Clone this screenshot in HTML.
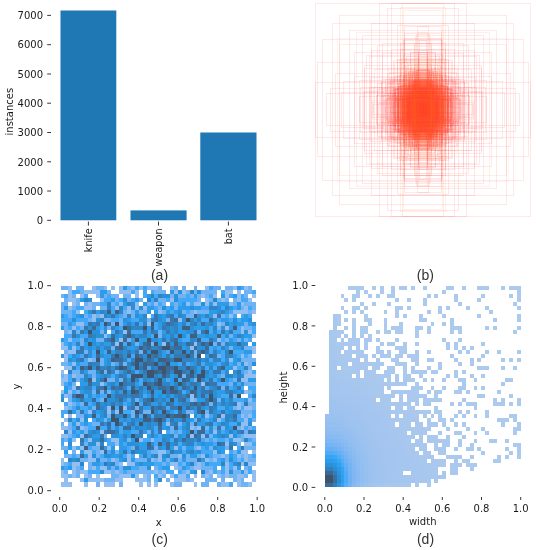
<!DOCTYPE html>
<html><head><meta charset="utf-8"><title>labels</title>
<style>
html,body{margin:0;padding:0;background:#fff;}
body{width:536px;height:550px;overflow:hidden;}
svg{display:block;font-family:"DejaVu Sans","Liberation Sans",sans-serif;}
</style></head><body>
<svg width="536" height="550" viewBox="0 0 536 550">
<rect width="536" height="550" fill="#fff"/>
<g fill="none" stroke-width="1" stroke-opacity="0.115">
<rect x="315.5" y="3.5" width="215" height="213" stroke="#FF3838"/>
<rect x="332.5" y="23.5" width="181" height="172" stroke="#FF3838"/>
<rect x="322.5" y="39.5" width="201" height="141" stroke="#FF3838"/>
<rect x="315.5" y="82.5" width="215" height="55" stroke="#FF3838"/>
<rect x="400.5" y="7.5" width="45" height="204" stroke="#FF701F"/>
<rect x="330.5" y="88.5" width="185" height="43" stroke="#FF3838"/>
<rect x="416.7" y="95.1" width="12.6" height="29.2" stroke="#FF4A33"/>
<rect x="411.0" y="107.6" width="24.0" height="4.3" stroke="#FF5E2A"/>
<rect x="386.5" y="98.5" width="73" height="22" stroke="#FF701F"/>
<rect x="414.2" y="95.9" width="17.6" height="27.6" stroke="#FF5E2A"/>
<rect x="420.7" y="106.3" width="4.6" height="6.9" stroke="#FF4A33"/>
<rect x="419.5" y="98.3" width="7.1" height="22.9" stroke="#FF4A33"/>
<rect x="405.5" y="83.5" width="35" height="53" stroke="#FF9D97"/>
<rect x="421.5" y="108.6" width="3.0" height="2.3" stroke="#FF5E2A"/>
<rect x="414.2" y="90.8" width="17.6" height="37.9" stroke="#FF4A33"/>
<rect x="413.3" y="99.9" width="19.4" height="19.7" stroke="#FF4A33"/>
<rect x="420.9" y="106.6" width="4.3" height="6.2" stroke="#FF4A33"/>
<rect x="414.9" y="97.4" width="16.1" height="24.7" stroke="#FF5E2A"/>
<rect x="411.6" y="102.9" width="22.7" height="13.6" stroke="#FF5E2A"/>
<rect x="419.8" y="108.6" width="6.4" height="2.4" stroke="#FF5E2A"/>
<rect x="418.6" y="95.8" width="8.7" height="28.0" stroke="#FF5E2A"/>
<rect x="411.8" y="92.4" width="22.5" height="34.7" stroke="#FF5E2A"/>
<rect x="421.2" y="102.1" width="3.6" height="15.3" stroke="#FF5E2A"/>
<rect x="420.1" y="102.8" width="5.7" height="13.8" stroke="#FF4A33"/>
<rect x="406.9" y="105.4" width="32.3" height="8.7" stroke="#FF4A33"/>
<rect x="415.5" y="100.3" width="15.0" height="18.9" stroke="#FF5E2A"/>
<rect x="421.4" y="92.7" width="3.1" height="34.1" stroke="#FF5E2A"/>
<rect x="416.0" y="97.2" width="14.0" height="25.2" stroke="#FF5E2A"/>
<rect x="382.5" y="88.5" width="81" height="43" stroke="#FF3838"/>
<rect x="421.6" y="104.3" width="2.8" height="10.9" stroke="#FF4A33"/>
<rect x="408.7" y="98.4" width="28.6" height="22.7" stroke="#FF4A33"/>
<rect x="409.4" y="96.3" width="27.2" height="26.9" stroke="#FF4A33"/>
<rect x="417.1" y="101.1" width="11.7" height="17.2" stroke="#FF4A33"/>
<rect x="411.1" y="102.7" width="23.7" height="14.2" stroke="#FF5E2A"/>
<rect x="419.4" y="104.2" width="7.1" height="11.1" stroke="#FF4A33"/>
<rect x="395.5" y="92.5" width="55" height="34" stroke="#FF3838"/>
<rect x="390.5" y="90.5" width="65" height="39" stroke="#FF3838"/>
<rect x="420.5" y="73.5" width="5" height="73" stroke="#FF701F"/>
<rect x="417.3" y="103.8" width="11.3" height="11.9" stroke="#FF5E2A"/>
<rect x="415.2" y="106.6" width="15.6" height="6.2" stroke="#FF4A33"/>
<rect x="419.2" y="103.9" width="7.5" height="11.6" stroke="#FF4A33"/>
<rect x="413.5" y="107.7" width="19.0" height="4.2" stroke="#FF4A33"/>
<rect x="420.6" y="88.3" width="4.8" height="42.9" stroke="#FF5E2A"/>
<rect x="411.4" y="102.7" width="23.2" height="14.1" stroke="#FF4A33"/>
<rect x="417.8" y="103.1" width="10.4" height="13.3" stroke="#FF4A33"/>
<rect x="416.4" y="99.6" width="13.2" height="20.3" stroke="#FF5E2A"/>
<rect x="412.4" y="88.4" width="21.1" height="42.8" stroke="#FF5E2A"/>
<rect x="407.3" y="101.0" width="31.5" height="17.6" stroke="#FF4A33"/>
<rect x="420.4" y="102.2" width="5.1" height="15.1" stroke="#FF4A33"/>
<rect x="409.1" y="98.8" width="27.9" height="22.0" stroke="#FF4A33"/>
<rect x="407.9" y="96.6" width="30.2" height="26.3" stroke="#FF5E2A"/>
<rect x="416.8" y="96.1" width="12.4" height="27.3" stroke="#FF4A33"/>
<rect x="395.5" y="98.5" width="55" height="22" stroke="#FF3838"/>
<rect x="419.8" y="90.2" width="6.5" height="39.2" stroke="#FF5E2A"/>
<rect x="418.9" y="103.4" width="8.2" height="12.8" stroke="#FF5E2A"/>
<rect x="413.2" y="88.8" width="19.5" height="41.9" stroke="#FF4A33"/>
<rect x="419.5" y="105.8" width="7.1" height="8.0" stroke="#FF4A33"/>
<rect x="337.5" y="38.5" width="171" height="143" stroke="#FF9D97"/>
<rect x="414.7" y="104.5" width="16.6" height="10.5" stroke="#FF4A33"/>
<rect x="390.5" y="77.5" width="65" height="65" stroke="#FF3838"/>
<rect x="420.6" y="104.3" width="4.7" height="10.9" stroke="#FF4A33"/>
<rect x="420.3" y="106.6" width="5.3" height="6.2" stroke="#FF5E2A"/>
<rect x="400.5" y="102.5" width="45" height="14" stroke="#FF3838"/>
<rect x="420.5" y="80.5" width="5" height="59" stroke="#FF701F"/>
<rect x="405.5" y="88.5" width="35" height="42" stroke="#FF701F"/>
<rect x="419.9" y="98.0" width="6.2" height="23.4" stroke="#FF4A33"/>
<rect x="414.5" y="83.5" width="17" height="53" stroke="#FF3838"/>
<rect x="403.5" y="86.5" width="39" height="47" stroke="#FF3838"/>
<rect x="416.5" y="84.5" width="13" height="51" stroke="#FF701F"/>
<rect x="420.9" y="104.4" width="4.3" height="10.8" stroke="#FF4A33"/>
<rect x="418.7" y="99.3" width="8.6" height="20.9" stroke="#FF4A33"/>
<rect x="403.5" y="54.5" width="39" height="110" stroke="#FF3838"/>
<rect x="414.7" y="105.6" width="16.5" height="8.3" stroke="#FF4A33"/>
<rect x="410.0" y="93.6" width="26.0" height="32.3" stroke="#FF4A33"/>
<rect x="415.5" y="103.2" width="15.0" height="13.1" stroke="#FF5E2A"/>
<rect x="414.5" y="74.5" width="17" height="71" stroke="#FF3838"/>
<rect x="417.2" y="102.3" width="11.6" height="14.8" stroke="#FF5E2A"/>
<rect x="420.5" y="102.3" width="5.0" height="14.8" stroke="#FF4A33"/>
<rect x="411.7" y="95.6" width="22.6" height="28.2" stroke="#FF5E2A"/>
<rect x="414.8" y="104.4" width="16.4" height="10.8" stroke="#FF4A33"/>
<rect x="422.2" y="107.1" width="1.6" height="5.3" stroke="#FF5E2A"/>
<rect x="416.0" y="103.9" width="13.9" height="11.7" stroke="#FF4A33"/>
<rect x="406.5" y="80.5" width="33" height="59" stroke="#FF3838"/>
<rect x="383.5" y="95.5" width="79" height="28" stroke="#FF3838"/>
<rect x="421.3" y="96.4" width="3.4" height="26.6" stroke="#FF5E2A"/>
<rect x="415.3" y="95.8" width="15.4" height="27.8" stroke="#FF4A33"/>
<rect x="411.5" y="86.5" width="23" height="47" stroke="#FF3838"/>
<rect x="409.5" y="73.5" width="27" height="73" stroke="#FF3838"/>
<rect x="419.5" y="94.3" width="7.0" height="30.9" stroke="#FF5E2A"/>
<rect x="412.0" y="91.6" width="21.9" height="36.3" stroke="#FF6A50"/>
<rect x="418.3" y="104.8" width="9.3" height="9.9" stroke="#FF4A33"/>
<rect x="416.4" y="100.6" width="13.3" height="18.2" stroke="#FF5E2A"/>
<rect x="418.9" y="100.7" width="8.3" height="18.1" stroke="#FF4A33"/>
<rect x="413.8" y="88.6" width="18.3" height="42.3" stroke="#FF4A33"/>
<rect x="418.2" y="100.7" width="9.6" height="18.1" stroke="#FF4A33"/>
<rect x="413.9" y="99.5" width="18.2" height="20.4" stroke="#FF5E2A"/>
<rect x="416.5" y="70.5" width="13" height="78" stroke="#FF3838"/>
<rect x="407.4" y="87.7" width="31.3" height="44.2" stroke="#FF4A33"/>
<rect x="391.5" y="78.5" width="63" height="62" stroke="#FF9D97"/>
<rect x="416.6" y="104.0" width="12.9" height="11.5" stroke="#FF4A33"/>
<rect x="419.6" y="105.1" width="6.7" height="9.4" stroke="#FF5E2A"/>
<rect x="417.4" y="103.4" width="11.2" height="12.7" stroke="#FF5E2A"/>
<rect x="418.9" y="106.4" width="8.3" height="6.7" stroke="#FF4A33"/>
<rect x="421.8" y="105.3" width="2.4" height="9.0" stroke="#FF4A33"/>
<rect x="415.9" y="97.0" width="14.2" height="25.5" stroke="#FF5E2A"/>
<rect x="418.7" y="105.5" width="8.6" height="8.5" stroke="#FF5E2A"/>
<rect x="407.6" y="99.5" width="30.9" height="20.5" stroke="#FF6A50"/>
<rect x="416.9" y="89.8" width="12.3" height="39.8" stroke="#FF4A33"/>
<rect x="407.2" y="105.7" width="31.6" height="8.1" stroke="#FF4A33"/>
<rect x="409.3" y="97.2" width="27.4" height="25.1" stroke="#FF5E2A"/>
<rect x="418.5" y="85.5" width="9" height="48" stroke="#FF3838"/>
<rect x="417.9" y="93.1" width="10.1" height="33.3" stroke="#FF6A50"/>
<rect x="418.8" y="96.2" width="8.3" height="27.2" stroke="#FF4A33"/>
<rect x="418.5" y="80.5" width="9" height="59" stroke="#FF701F"/>
<rect x="408.5" y="71.5" width="29" height="77" stroke="#FF3838"/>
<rect x="418.8" y="95.1" width="8.4" height="29.3" stroke="#FF4A33"/>
<rect x="418.4" y="104.8" width="9.3" height="9.9" stroke="#FF4A33"/>
<rect x="419.9" y="107.7" width="6.2" height="4.1" stroke="#FF5E2A"/>
<rect x="398.5" y="99.5" width="49" height="20" stroke="#FF3838"/>
<rect x="418.1" y="87.9" width="9.8" height="43.7" stroke="#FF5E2A"/>
<rect x="417.0" y="104.4" width="11.9" height="10.7" stroke="#FF5E2A"/>
<rect x="420.1" y="105.5" width="5.8" height="8.5" stroke="#FF4A33"/>
<rect x="414.5" y="85.5" width="17" height="48" stroke="#FF3838"/>
<rect x="419.8" y="104.6" width="6.3" height="10.3" stroke="#FF4A33"/>
<rect x="419.4" y="100.1" width="7.1" height="19.3" stroke="#FF5E2A"/>
<rect x="422.2" y="108.9" width="1.5" height="1.7" stroke="#FF4A33"/>
<rect x="421.8" y="107.4" width="2.4" height="4.8" stroke="#FF5E2A"/>
<rect x="414.9" y="103.5" width="16.2" height="12.6" stroke="#FF4A33"/>
<rect x="409.6" y="102.1" width="26.7" height="15.2" stroke="#FF6A50"/>
<rect x="421.8" y="108.9" width="2.3" height="1.6" stroke="#FF5E2A"/>
<rect x="415.1" y="104.7" width="15.7" height="10.0" stroke="#FF4A33"/>
<rect x="415.0" y="90.5" width="16.1" height="38.5" stroke="#FF4A33"/>
<rect x="335.5" y="73.5" width="175" height="73" stroke="#FF3838"/>
<rect x="420.5" y="98.6" width="5.0" height="22.4" stroke="#FF4A33"/>
<rect x="419.5" y="106.2" width="7.0" height="7.1" stroke="#FF5E2A"/>
<rect x="420.7" y="86.4" width="4.6" height="46.6" stroke="#FF5E2A"/>
<rect x="408.9" y="101.3" width="28.1" height="17.0" stroke="#FF5E2A"/>
<rect x="405.9" y="98.2" width="34.3" height="23.0" stroke="#FF4A33"/>
<rect x="417.8" y="97.9" width="10.5" height="23.7" stroke="#FF5E2A"/>
<rect x="396.5" y="96.5" width="53" height="26" stroke="#FF3838"/>
<rect x="377.5" y="83.5" width="91" height="53" stroke="#FF3838"/>
<rect x="418.5" y="85.5" width="9" height="48" stroke="#FF9D97"/>
<rect x="411.9" y="91.4" width="22.2" height="36.8" stroke="#FF4A33"/>
<rect x="417.3" y="103.3" width="11.3" height="13.0" stroke="#FF5E2A"/>
<rect x="419.4" y="90.5" width="7.3" height="38.5" stroke="#FF5E2A"/>
<rect x="418.7" y="104.7" width="8.7" height="10.0" stroke="#FF5E2A"/>
<rect x="417.6" y="103.3" width="10.9" height="12.9" stroke="#FF5E2A"/>
<rect x="421.2" y="102.6" width="3.6" height="14.4" stroke="#FF5E2A"/>
<rect x="416.7" y="96.5" width="12.6" height="26.4" stroke="#FF4A33"/>
<rect x="409.1" y="107.4" width="27.8" height="4.8" stroke="#FF5E2A"/>
<rect x="420.4" y="100.8" width="5.3" height="17.8" stroke="#FF5E2A"/>
<rect x="418.9" y="104.6" width="8.2" height="10.3" stroke="#FF4A33"/>
<rect x="420.3" y="107.8" width="5.5" height="3.8" stroke="#FF5E2A"/>
<rect x="413.4" y="105.7" width="19.3" height="8.1" stroke="#FF5E2A"/>
<rect x="416.8" y="106.5" width="12.4" height="6.5" stroke="#FF4A33"/>
<rect x="407.3" y="106.1" width="31.3" height="7.4" stroke="#FF5E2A"/>
<rect x="417.9" y="94.0" width="10.2" height="31.5" stroke="#FF5E2A"/>
<rect x="421.5" y="96.1" width="2.9" height="27.4" stroke="#FF5E2A"/>
<rect x="411.6" y="98.9" width="22.7" height="21.7" stroke="#FF5E2A"/>
<rect x="417.8" y="101.7" width="10.3" height="16.0" stroke="#FF6A50"/>
<rect x="404.5" y="94.5" width="37" height="31" stroke="#FF3838"/>
<rect x="409.5" y="80.5" width="27" height="59" stroke="#FF3838"/>
<rect x="422.6" y="106.1" width="0.9" height="7.2" stroke="#FF5E2A"/>
<rect x="422.2" y="94.4" width="1.6" height="30.8" stroke="#FF6A50"/>
<rect x="415.9" y="95.2" width="14.1" height="29.2" stroke="#FF6A50"/>
<rect x="419.7" y="89.0" width="6.5" height="41.5" stroke="#FF6A50"/>
<rect x="422.4" y="109.1" width="1.2" height="1.4" stroke="#FF5E2A"/>
<rect x="418.9" y="106.6" width="8.2" height="6.3" stroke="#FF4A33"/>
<rect x="401.5" y="90.5" width="43" height="38" stroke="#FF3838"/>
<rect x="410.9" y="98.6" width="24.2" height="22.3" stroke="#FF5E2A"/>
<rect x="420.2" y="106.8" width="5.6" height="5.9" stroke="#FF4A33"/>
<rect x="414.1" y="105.4" width="17.8" height="8.7" stroke="#FF4A33"/>
<rect x="406.1" y="105.3" width="33.8" height="8.9" stroke="#FF5E2A"/>
<rect x="417.2" y="100.7" width="11.5" height="18.2" stroke="#FF5E2A"/>
<rect x="388.5" y="93.5" width="69" height="32" stroke="#FF3838"/>
<rect x="419.6" y="96.9" width="6.8" height="25.7" stroke="#FF5E2A"/>
<rect x="377.5" y="93.5" width="91" height="32" stroke="#FF3838"/>
<rect x="395.5" y="89.5" width="55" height="40" stroke="#FF3838"/>
<rect x="412.1" y="91.0" width="21.9" height="37.4" stroke="#FF4A33"/>
<rect x="414.6" y="89.7" width="16.9" height="40.1" stroke="#FF4A33"/>
<rect x="415.9" y="103.0" width="14.2" height="13.6" stroke="#FF5E2A"/>
<rect x="420.3" y="103.3" width="5.4" height="12.9" stroke="#FF5E2A"/>
<rect x="406.5" y="56.5" width="33" height="107" stroke="#FF3838"/>
<rect x="401.5" y="107.5" width="43" height="5" stroke="#FF3838"/>
<rect x="409.2" y="91.3" width="27.6" height="36.9" stroke="#FF4A33"/>
<rect x="414.1" y="94.9" width="17.8" height="29.8" stroke="#FF6A50"/>
<rect x="415.4" y="101.1" width="15.2" height="17.2" stroke="#FF4A33"/>
<rect x="420.3" y="108.6" width="5.4" height="2.2" stroke="#FF6A50"/>
<rect x="419.4" y="102.6" width="7.2" height="14.2" stroke="#FF4A33"/>
<rect x="421.5" y="107.2" width="3.0" height="5.0" stroke="#FF5E2A"/>
<rect x="412.4" y="101.2" width="21.2" height="17.1" stroke="#FF5E2A"/>
<rect x="339.5" y="44.5" width="167" height="131" stroke="#FF701F"/>
<rect x="408.5" y="103.9" width="29.0" height="11.7" stroke="#FF4A33"/>
<rect x="419.4" y="102.8" width="7.2" height="14.0" stroke="#FF4A33"/>
<rect x="398.5" y="103.5" width="49" height="13" stroke="#FF701F"/>
<rect x="394.5" y="76.5" width="57" height="66" stroke="#FF3838"/>
<rect x="395.5" y="89.5" width="55" height="41" stroke="#FF701F"/>
<rect x="403.5" y="98.5" width="39" height="23" stroke="#FF701F"/>
<rect x="417.8" y="100.6" width="10.3" height="18.3" stroke="#FF5E2A"/>
<rect x="417.9" y="93.1" width="10.2" height="33.3" stroke="#FF5E2A"/>
<rect x="419.7" y="104.3" width="6.7" height="10.9" stroke="#FF5E2A"/>
<rect x="413.7" y="87.7" width="18.5" height="44.1" stroke="#FF4A33"/>
<rect x="391.5" y="3.5" width="63" height="213" stroke="#FF3838"/>
<rect x="420.7" y="102.2" width="4.5" height="15.0" stroke="#FF4A33"/>
<rect x="364.5" y="68.5" width="117" height="82" stroke="#FF3838"/>
<rect x="419.0" y="104.5" width="7.9" height="10.5" stroke="#FF5E2A"/>
<rect x="420.9" y="103.2" width="4.1" height="13.0" stroke="#FF5E2A"/>
<rect x="413.7" y="102.7" width="18.7" height="14.0" stroke="#FF5E2A"/>
<rect x="405.5" y="59.5" width="35" height="100" stroke="#FF701F"/>
<rect x="418.1" y="104.9" width="9.8" height="9.7" stroke="#FF5E2A"/>
<rect x="420.6" y="99.3" width="4.9" height="20.9" stroke="#FF6A50"/>
<rect x="389.5" y="96.5" width="67" height="27" stroke="#FF3838"/>
<rect x="420.8" y="103.3" width="4.5" height="12.9" stroke="#FF5E2A"/>
<rect x="406.3" y="102.3" width="33.3" height="15.0" stroke="#FF5E2A"/>
<rect x="415.1" y="105.5" width="15.8" height="8.6" stroke="#FF4A33"/>
<rect x="418.2" y="87.6" width="9.6" height="44.2" stroke="#FF4A33"/>
<rect x="415.8" y="88.4" width="14.4" height="42.7" stroke="#FF5E2A"/>
<rect x="420.7" y="102.8" width="4.5" height="13.8" stroke="#FF5E2A"/>
<rect x="420.8" y="105.7" width="4.4" height="8.1" stroke="#FF5E2A"/>
<rect x="413.9" y="99.9" width="18.2" height="19.6" stroke="#FF4A33"/>
<rect x="420.6" y="107.9" width="4.8" height="3.7" stroke="#FF4A33"/>
<rect x="419.8" y="102.2" width="6.4" height="15.1" stroke="#FF4A33"/>
<rect x="397.5" y="62.5" width="51" height="94" stroke="#FF701F"/>
<rect x="387.5" y="98.5" width="71" height="23" stroke="#FF3838"/>
<rect x="404.5" y="33.5" width="37" height="153" stroke="#FF3838"/>
<rect x="407.8" y="92.8" width="30.5" height="33.8" stroke="#FF4A33"/>
<rect x="417.5" y="83.5" width="11" height="53" stroke="#FF3838"/>
<rect x="415.5" y="94.7" width="15.0" height="30.2" stroke="#FF4A33"/>
<rect x="419.7" y="107.5" width="6.6" height="4.6" stroke="#FF6A50"/>
<rect x="422.6" y="109.1" width="0.8" height="1.2" stroke="#FF5E2A"/>
<rect x="414.5" y="80.5" width="17" height="59" stroke="#FF3838"/>
<rect x="414.5" y="84.5" width="17" height="50" stroke="#FF701F"/>
<rect x="406.5" y="102.8" width="33.1" height="13.9" stroke="#FF4A33"/>
<rect x="420.5" y="83.5" width="5" height="52" stroke="#FF701F"/>
<rect x="403.5" y="95.5" width="39" height="28" stroke="#FF3838"/>
<rect x="418.5" y="32.5" width="9" height="154" stroke="#FF701F"/>
<rect x="421.1" y="106.4" width="3.8" height="6.7" stroke="#FF4A33"/>
<rect x="417.6" y="92.2" width="10.7" height="35.2" stroke="#FF5E2A"/>
<rect x="407.4" y="95.0" width="31.3" height="29.5" stroke="#FF4A33"/>
<rect x="416.2" y="105.1" width="13.5" height="9.2" stroke="#FF4A33"/>
<rect x="412.8" y="91.1" width="20.4" height="37.3" stroke="#FF4A33"/>
<rect x="420.2" y="107.3" width="5.7" height="5.0" stroke="#FF4A33"/>
<rect x="412.5" y="105.4" width="21.0" height="8.8" stroke="#FF5E2A"/>
<rect x="406.6" y="97.8" width="32.8" height="23.9" stroke="#FF4A33"/>
<rect x="420.2" y="108.6" width="5.6" height="2.3" stroke="#FF5E2A"/>
<rect x="413.0" y="107.0" width="19.9" height="5.5" stroke="#FF4A33"/>
<rect x="421.3" y="106.9" width="3.4" height="5.8" stroke="#FF4A33"/>
<rect x="414.6" y="98.7" width="16.8" height="22.2" stroke="#FF5E2A"/>
<rect x="421.6" y="101.0" width="2.8" height="17.4" stroke="#FF5E2A"/>
<rect x="413.5" y="82.5" width="19" height="54" stroke="#FF701F"/>
<rect x="416.2" y="101.9" width="13.6" height="15.7" stroke="#FF5E2A"/>
<rect x="420.8" y="90.1" width="4.3" height="39.4" stroke="#FF5E2A"/>
<rect x="413.5" y="95.9" width="18.9" height="27.7" stroke="#FF5E2A"/>
<rect x="420.5" y="104.9" width="5.0" height="9.7" stroke="#FF4A33"/>
<rect x="415.6" y="88.8" width="14.8" height="41.8" stroke="#FF5E2A"/>
<rect x="420.3" y="92.7" width="5.5" height="34.2" stroke="#FF4A33"/>
<rect x="411.9" y="97.8" width="22.1" height="23.9" stroke="#FF4A33"/>
<rect x="419.0" y="105.0" width="7.9" height="9.4" stroke="#FF4A33"/>
<rect x="398.5" y="86.5" width="49" height="46" stroke="#FF3838"/>
<rect x="412.7" y="98.8" width="20.6" height="21.9" stroke="#FF4A33"/>
<rect x="411.9" y="106.2" width="22.2" height="7.1" stroke="#FF4A33"/>
<rect x="421.3" y="105.2" width="3.4" height="9.1" stroke="#FF4A33"/>
<rect x="422.3" y="106.9" width="1.5" height="5.8" stroke="#FF4A33"/>
<rect x="419.9" y="102.8" width="6.2" height="14.0" stroke="#FF4A33"/>
<rect x="387.5" y="83.5" width="71" height="53" stroke="#FF3838"/>
<rect x="420.3" y="93.5" width="5.4" height="32.4" stroke="#FF4A33"/>
<rect x="402.5" y="101.5" width="41" height="16" stroke="#FF3838"/>
<rect x="401.5" y="91.5" width="43" height="36" stroke="#FF3838"/>
<rect x="419.1" y="96.3" width="7.8" height="26.9" stroke="#FF5E2A"/>
<rect x="417.3" y="109.0" width="11.3" height="1.6" stroke="#FF4A33"/>
<rect x="400.5" y="68.5" width="45" height="82" stroke="#FF701F"/>
<rect x="417.6" y="99.7" width="10.8" height="20.1" stroke="#FF4A33"/>
<rect x="418.5" y="50.5" width="9" height="119" stroke="#FF3838"/>
<rect x="419.1" y="95.5" width="7.9" height="28.6" stroke="#FF4A33"/>
<rect x="415.6" y="105.1" width="14.8" height="9.3" stroke="#FF5E2A"/>
<rect x="416.8" y="99.6" width="12.5" height="20.2" stroke="#FF5E2A"/>
<rect x="402.5" y="96.5" width="41" height="27" stroke="#FF3838"/>
<rect x="414.4" y="94.4" width="17.1" height="30.7" stroke="#FF6A50"/>
<rect x="403.5" y="105.5" width="39" height="9" stroke="#FF701F"/>
<rect x="416.7" y="98.4" width="12.5" height="22.8" stroke="#FF5E2A"/>
<rect x="360.5" y="87.5" width="125" height="45" stroke="#FF3838"/>
<rect x="416.8" y="102.4" width="12.4" height="14.6" stroke="#FF4A33"/>
<rect x="417.0" y="96.6" width="12.1" height="26.2" stroke="#FF4A33"/>
<rect x="419.9" y="102.2" width="6.3" height="15.2" stroke="#FF5E2A"/>
<rect x="421.9" y="88.6" width="2.3" height="42.4" stroke="#FF4A33"/>
<rect x="420.1" y="101.3" width="5.8" height="17.0" stroke="#FF5E2A"/>
<rect x="414.6" y="90.8" width="16.8" height="37.9" stroke="#FF4A33"/>
<rect x="420.4" y="106.4" width="5.1" height="6.7" stroke="#FF4A33"/>
<rect x="408.5" y="101.4" width="28.9" height="16.7" stroke="#FF4A33"/>
<rect x="421.8" y="93.9" width="2.5" height="31.7" stroke="#FF4A33"/>
<rect x="421.8" y="107.3" width="2.3" height="4.8" stroke="#FF4A33"/>
<rect x="413.9" y="105.9" width="18.3" height="7.8" stroke="#FF5E2A"/>
<rect x="413.2" y="105.8" width="19.5" height="7.9" stroke="#FF4A33"/>
<rect x="420.8" y="107.4" width="4.4" height="4.7" stroke="#FF5E2A"/>
<rect x="404.5" y="103.5" width="37" height="13" stroke="#FF3838"/>
<rect x="399.5" y="100.5" width="47" height="19" stroke="#FF3838"/>
<rect x="413.5" y="81.5" width="19" height="56" stroke="#FF3838"/>
<rect x="421.2" y="105.6" width="3.7" height="8.3" stroke="#FF5E2A"/>
<rect x="401.5" y="85.5" width="43" height="49" stroke="#FF3838"/>
<rect x="417.5" y="70.5" width="11" height="78" stroke="#FF701F"/>
<rect x="417.1" y="104.8" width="11.8" height="10.0" stroke="#FF4A33"/>
<rect x="412.3" y="102.5" width="21.4" height="14.5" stroke="#FF5E2A"/>
<rect x="419.5" y="108.5" width="7.1" height="2.5" stroke="#FF5E2A"/>
<rect x="395.5" y="70.5" width="55" height="79" stroke="#FF9D97"/>
<rect x="419.2" y="100.2" width="7.6" height="19.1" stroke="#FF4A33"/>
<rect x="405.5" y="106.5" width="35" height="6" stroke="#FF701F"/>
<rect x="409.5" y="76.5" width="27" height="67" stroke="#FF701F"/>
<rect x="388.5" y="68.5" width="69" height="82" stroke="#FF701F"/>
<rect x="412.0" y="108.9" width="21.9" height="1.7" stroke="#FF4A33"/>
<rect x="408.0" y="104.8" width="30.0" height="9.9" stroke="#FF4A33"/>
<rect x="418.2" y="95.0" width="9.7" height="29.5" stroke="#FF5E2A"/>
<rect x="417.4" y="106.7" width="11.3" height="6.1" stroke="#FF4A33"/>
<rect x="419.1" y="104.5" width="7.8" height="10.6" stroke="#FF4A33"/>
<rect x="409.3" y="89.9" width="27.5" height="39.6" stroke="#FF4A33"/>
<rect x="419.2" y="101.1" width="7.5" height="17.3" stroke="#FF5E2A"/>
<rect x="395.5" y="98.5" width="55" height="23" stroke="#FF3838"/>
<rect x="416.6" y="94.9" width="12.8" height="29.7" stroke="#FF5E2A"/>
<rect x="420.9" y="93.8" width="4.3" height="31.8" stroke="#FF5E2A"/>
<rect x="419.3" y="104.5" width="7.5" height="10.5" stroke="#FF5E2A"/>
<rect x="403.5" y="10.5" width="39" height="199" stroke="#FF701F"/>
<rect x="418.5" y="96.1" width="9.0" height="27.2" stroke="#FF4A33"/>
<rect x="410.9" y="91.6" width="24.1" height="36.2" stroke="#FF5E2A"/>
<rect x="421.6" y="108.4" width="2.7" height="2.6" stroke="#FF4A33"/>
<rect x="412.3" y="104.3" width="21.4" height="10.9" stroke="#FF4A33"/>
<rect x="408.8" y="102.6" width="28.4" height="14.3" stroke="#FF4A33"/>
<rect x="411.5" y="84.5" width="23" height="50" stroke="#FF701F"/>
<rect x="408.5" y="103.5" width="28.9" height="12.6" stroke="#FF5E2A"/>
<rect x="420.3" y="91.8" width="5.5" height="35.9" stroke="#FF5E2A"/>
<rect x="421.7" y="99.1" width="2.6" height="21.4" stroke="#FF4A33"/>
<rect x="421.1" y="106.8" width="3.8" height="6.0" stroke="#FF4A33"/>
<rect x="407.7" y="95.7" width="30.6" height="28.0" stroke="#FF4A33"/>
<rect x="412.5" y="72.5" width="21" height="75" stroke="#FF3838"/>
<rect x="408.1" y="102.0" width="29.7" height="15.4" stroke="#FF4A33"/>
<rect x="418.7" y="108.9" width="8.6" height="1.8" stroke="#FF4A33"/>
<rect x="408.0" y="101.0" width="29.9" height="17.6" stroke="#FF4A33"/>
<rect x="421.5" y="103.8" width="3.0" height="11.9" stroke="#FF4A33"/>
<rect x="412.5" y="83.5" width="21" height="52" stroke="#FF3838"/>
<rect x="420.4" y="99.3" width="5.3" height="20.9" stroke="#FF4A33"/>
<rect x="418.5" y="52.5" width="9" height="115" stroke="#FF3838"/>
<rect x="409.5" y="77.5" width="27" height="65" stroke="#FF701F"/>
<rect x="406.9" y="88.3" width="32.2" height="42.9" stroke="#FF5E2A"/>
<rect x="416.5" y="83.5" width="13" height="53" stroke="#FF701F"/>
<rect x="417.5" y="84.5" width="11" height="51" stroke="#FF701F"/>
<rect x="398.5" y="85.5" width="49" height="49" stroke="#FF3838"/>
<rect x="404.5" y="77.5" width="37" height="65" stroke="#FF3838"/>
<rect x="419.1" y="95.3" width="7.9" height="28.8" stroke="#FF5E2A"/>
<rect x="413.2" y="94.0" width="19.6" height="31.6" stroke="#FF4A33"/>
<rect x="416.8" y="99.1" width="12.5" height="21.3" stroke="#FF5E2A"/>
<rect x="405.5" y="102.5" width="35" height="15" stroke="#FF3838"/>
<rect x="411.6" y="97.1" width="22.7" height="25.3" stroke="#FF5E2A"/>
<rect x="411.8" y="103.3" width="22.3" height="12.9" stroke="#FF4A33"/>
<rect x="414.7" y="89.6" width="16.6" height="40.2" stroke="#FF5E2A"/>
<rect x="418.4" y="100.2" width="9.2" height="19.0" stroke="#FF5E2A"/>
<rect x="402.5" y="102.5" width="41" height="14" stroke="#FF3838"/>
<rect x="412.0" y="97.9" width="22.0" height="23.6" stroke="#FF5E2A"/>
<rect x="422.3" y="107.3" width="1.3" height="4.9" stroke="#FF4A33"/>
<rect x="417.6" y="107.4" width="10.8" height="4.7" stroke="#FF4A33"/>
<rect x="413.3" y="102.7" width="19.5" height="14.0" stroke="#FF4A33"/>
<rect x="419.2" y="101.3" width="7.6" height="16.9" stroke="#FF4A33"/>
<rect x="419.9" y="87.6" width="6.3" height="44.3" stroke="#FF5E2A"/>
<rect x="418.8" y="101.8" width="8.4" height="16.0" stroke="#FF5E2A"/>
<rect x="412.5" y="91.1" width="20.9" height="37.3" stroke="#FF5E2A"/>
<rect x="420.0" y="89.6" width="6.0" height="40.3" stroke="#FF4A33"/>
<rect x="412.5" y="81.5" width="21" height="57" stroke="#FF3838"/>
<rect x="397.5" y="88.5" width="51" height="43" stroke="#FF3838"/>
<rect x="405.5" y="84.5" width="35" height="51" stroke="#FF701F"/>
<rect x="404.5" y="95.5" width="37" height="28" stroke="#FF3838"/>
<rect x="416.7" y="102.6" width="12.6" height="14.3" stroke="#FF4A33"/>
<rect x="401.5" y="92.5" width="43" height="35" stroke="#FF3838"/>
<rect x="415.2" y="97.8" width="15.6" height="24.0" stroke="#FF4A33"/>
<rect x="406.5" y="78.5" width="33" height="62" stroke="#FF9D97"/>
<rect x="420.5" y="98.9" width="5.0" height="21.7" stroke="#FF4A33"/>
<rect x="399.5" y="75.5" width="47" height="69" stroke="#FF3838"/>
<rect x="418.6" y="108.1" width="8.9" height="3.2" stroke="#FF4A33"/>
<rect x="415.1" y="102.1" width="15.8" height="15.3" stroke="#FF5E2A"/>
<rect x="403.5" y="94.5" width="39" height="30" stroke="#FF701F"/>
<rect x="415.3" y="106.4" width="15.3" height="6.8" stroke="#FF4A33"/>
<rect x="418.1" y="108.9" width="9.8" height="1.6" stroke="#FF4A33"/>
<rect x="416.4" y="96.6" width="13.2" height="26.3" stroke="#FF5E2A"/>
<rect x="403.5" y="40.5" width="39" height="138" stroke="#FF3838"/>
<rect x="402.5" y="102.5" width="41" height="14" stroke="#FF3838"/>
<rect x="409.4" y="94.8" width="27.3" height="29.8" stroke="#FF5E2A"/>
<rect x="418.5" y="79.5" width="9" height="60" stroke="#FF3838"/>
<rect x="417.8" y="102.3" width="10.4" height="14.9" stroke="#FF5E2A"/>
<rect x="409.5" y="98.4" width="26.9" height="22.7" stroke="#FF4A33"/>
<rect x="408.5" y="104.3" width="29.0" height="10.9" stroke="#FF5E2A"/>
<rect x="419.2" y="103.3" width="7.6" height="12.8" stroke="#FF5E2A"/>
<rect x="419.2" y="95.4" width="7.7" height="28.8" stroke="#FF5E2A"/>
<rect x="409.5" y="81.5" width="27" height="56" stroke="#FF701F"/>
<rect x="403.5" y="96.5" width="39" height="27" stroke="#FF3838"/>
<rect x="414.9" y="88.2" width="16.1" height="43.0" stroke="#FF5E2A"/>
<rect x="420.7" y="108.1" width="4.5" height="3.3" stroke="#FF5E2A"/>
<rect x="391.5" y="96.5" width="63" height="27" stroke="#FF701F"/>
<rect x="415.3" y="97.2" width="15.5" height="25.0" stroke="#FF4A33"/>
<rect x="411.8" y="94.7" width="22.5" height="30.1" stroke="#FF4A33"/>
<rect x="422.2" y="101.3" width="1.5" height="17.0" stroke="#FF4A33"/>
<rect x="419.3" y="104.0" width="7.4" height="11.6" stroke="#FF5E2A"/>
<rect x="416.8" y="108.6" width="12.4" height="2.3" stroke="#FF4A33"/>
<rect x="413.5" y="82.5" width="19" height="54" stroke="#FF701F"/>
<rect x="419.5" y="80.5" width="7" height="59" stroke="#FF3838"/>
<rect x="421.5" y="102.6" width="2.9" height="14.4" stroke="#FF4A33"/>
<rect x="421.7" y="106.4" width="2.6" height="6.7" stroke="#FF4A33"/>
<rect x="418.0" y="104.6" width="10.0" height="10.4" stroke="#FF4A33"/>
<rect x="413.8" y="98.2" width="18.5" height="23.2" stroke="#FF5E2A"/>
<rect x="414.1" y="106.9" width="17.7" height="5.8" stroke="#FF5E2A"/>
<rect x="421.9" y="105.4" width="2.3" height="8.7" stroke="#FF4A33"/>
<rect x="419.5" y="105.2" width="7.0" height="9.2" stroke="#FF5E2A"/>
<rect x="416.6" y="107.8" width="12.8" height="3.9" stroke="#FF5E2A"/>
<rect x="406.3" y="94.8" width="33.3" height="29.9" stroke="#FF5E2A"/>
<rect x="411.6" y="93.3" width="22.7" height="32.8" stroke="#FF5E2A"/>
<rect x="414.5" y="73.5" width="17" height="72" stroke="#FF3838"/>
<rect x="421.8" y="105.9" width="2.4" height="7.7" stroke="#FF4A33"/>
<rect x="405.5" y="65.5" width="35" height="89" stroke="#FF3838"/>
<rect x="416.7" y="104.5" width="12.7" height="10.4" stroke="#FF5E2A"/>
<rect x="414.6" y="102.7" width="16.7" height="14.0" stroke="#FF4A33"/>
<rect x="419.4" y="100.8" width="7.2" height="17.9" stroke="#FF4A33"/>
<rect x="417.3" y="105.6" width="11.4" height="8.2" stroke="#FF4A33"/>
<rect x="418.0" y="101.2" width="10.0" height="17.2" stroke="#FF4A33"/>
<rect x="418.3" y="106.3" width="9.3" height="6.9" stroke="#FF5E2A"/>
<rect x="420.1" y="107.2" width="5.7" height="5.0" stroke="#FF5E2A"/>
<rect x="410.6" y="101.8" width="24.8" height="16.0" stroke="#FF5E2A"/>
<rect x="407.9" y="88.2" width="30.3" height="43.2" stroke="#FF4A33"/>
<rect x="418.9" y="103.1" width="8.2" height="13.2" stroke="#FF5E2A"/>
<rect x="420.0" y="106.1" width="6.0" height="7.2" stroke="#FF4A33"/>
<rect x="419.9" y="89.2" width="6.1" height="41.0" stroke="#FF4A33"/>
<rect x="417.9" y="102.5" width="10.3" height="14.5" stroke="#FF5E2A"/>
<rect x="398.5" y="81.5" width="49" height="56" stroke="#FF3838"/>
<rect x="417.0" y="98.5" width="12.1" height="22.6" stroke="#FF4A33"/>
<rect x="387.5" y="73.5" width="71" height="72" stroke="#FF3838"/>
<rect x="421.1" y="104.8" width="3.8" height="9.9" stroke="#FF4A33"/>
<rect x="420.7" y="106.7" width="4.6" height="6.1" stroke="#FF4A33"/>
<rect x="419.8" y="100.9" width="6.4" height="17.7" stroke="#FF4A33"/>
<rect x="420.1" y="100.5" width="5.9" height="18.5" stroke="#FF5E2A"/>
<rect x="413.9" y="91.6" width="18.3" height="36.3" stroke="#FF4A33"/>
<rect x="390.5" y="80.5" width="65" height="58" stroke="#FF3838"/>
<rect x="419.7" y="99.4" width="6.7" height="20.6" stroke="#FF4A33"/>
<rect x="413.7" y="104.6" width="18.6" height="10.3" stroke="#FF4A33"/>
<rect x="400.5" y="73.5" width="45" height="72" stroke="#FF3838"/>
<rect x="366.5" y="55.5" width="113" height="109" stroke="#FF3838"/>
<rect x="414.7" y="99.0" width="16.6" height="21.5" stroke="#FF5E2A"/>
<rect x="406.7" y="90.0" width="32.7" height="39.6" stroke="#FF5E2A"/>
<rect x="400.5" y="88.5" width="45" height="42" stroke="#FF3838"/>
<rect x="415.5" y="78.5" width="15" height="63" stroke="#FF701F"/>
<rect x="411.6" y="105.7" width="22.9" height="8.1" stroke="#FF5E2A"/>
<rect x="418.0" y="101.8" width="10.0" height="15.9" stroke="#FF5E2A"/>
<rect x="420.1" y="96.9" width="5.8" height="25.7" stroke="#FF4A33"/>
<rect x="419.1" y="107.7" width="7.9" height="4.2" stroke="#FF5E2A"/>
<rect x="403.5" y="97.5" width="39" height="25" stroke="#FF3838"/>
<rect x="400.5" y="43.5" width="45" height="132" stroke="#FF3838"/>
<rect x="414.3" y="105.2" width="17.5" height="9.1" stroke="#FF4A33"/>
<rect x="421.0" y="103.2" width="4.1" height="13.2" stroke="#FF6A50"/>
<rect x="402.5" y="98.5" width="41" height="22" stroke="#FF701F"/>
<rect x="416.0" y="98.9" width="14.0" height="21.7" stroke="#FF4A33"/>
<rect x="396.5" y="96.5" width="53" height="26" stroke="#FF3838"/>
<rect x="415.3" y="95.8" width="15.4" height="27.9" stroke="#FF5E2A"/>
<rect x="420.8" y="108.0" width="4.4" height="3.5" stroke="#FF5E2A"/>
<rect x="417.5" y="74.5" width="11" height="70" stroke="#FF3838"/>
<rect x="419.3" y="97.6" width="7.4" height="24.3" stroke="#FF5E2A"/>
<rect x="393.5" y="80.5" width="59" height="59" stroke="#FF3838"/>
<rect x="422.4" y="107.0" width="1.3" height="5.4" stroke="#FF4A33"/>
<rect x="419.0" y="98.4" width="8.0" height="22.7" stroke="#FF5E2A"/>
<rect x="417.7" y="100.5" width="10.6" height="18.4" stroke="#FF5E2A"/>
<rect x="422.2" y="102.0" width="1.6" height="15.5" stroke="#FF5E2A"/>
<rect x="412.7" y="98.1" width="20.6" height="23.2" stroke="#FF4A33"/>
<rect x="410.8" y="97.1" width="24.3" height="25.3" stroke="#FF5E2A"/>
<rect x="408.5" y="64.5" width="29" height="91" stroke="#FF701F"/>
<rect x="408.5" y="72.5" width="29" height="74" stroke="#FF3838"/>
<rect x="416.5" y="70.5" width="13" height="78" stroke="#FF3838"/>
<rect x="406.5" y="73.5" width="33" height="72" stroke="#FF701F"/>
<rect x="418.3" y="107.4" width="9.3" height="4.6" stroke="#FF4A33"/>
<rect x="415.7" y="91.0" width="14.6" height="37.5" stroke="#FF4A33"/>
<rect x="414.5" y="84.5" width="17" height="51" stroke="#FF701F"/>
<rect x="415.4" y="93.1" width="15.1" height="33.3" stroke="#FF4A33"/>
<rect x="411.5" y="76.5" width="23" height="67" stroke="#FF701F"/>
<rect x="419.2" y="88.4" width="7.6" height="42.7" stroke="#FF4A33"/>
<rect x="416.7" y="93.8" width="12.7" height="31.8" stroke="#FF5E2A"/>
<rect x="419.0" y="94.3" width="8.1" height="30.9" stroke="#FF5E2A"/>
<rect x="415.5" y="95.8" width="15.1" height="27.8" stroke="#FF4A33"/>
<rect x="413.5" y="70.5" width="19" height="79" stroke="#FF3838"/>
<rect x="419.6" y="106.6" width="6.9" height="6.2" stroke="#FF4A33"/>
<rect x="397.5" y="100.5" width="51" height="18" stroke="#FF3838"/>
<rect x="382.5" y="53.5" width="81" height="113" stroke="#FF3838"/>
<rect x="411.4" y="105.1" width="23.3" height="9.2" stroke="#FF4A33"/>
<rect x="415.2" y="90.4" width="15.5" height="38.7" stroke="#FF4A33"/>
<rect x="419.1" y="98.6" width="7.9" height="22.2" stroke="#FF4A33"/>
<rect x="416.5" y="79.5" width="13" height="61" stroke="#FF3838"/>
<rect x="417.1" y="103.9" width="11.7" height="11.7" stroke="#FF4A33"/>
<rect x="409.9" y="101.0" width="26.3" height="17.6" stroke="#FF5E2A"/>
<rect x="415.9" y="97.4" width="14.3" height="24.8" stroke="#FF4A33"/>
<rect x="409.7" y="93.5" width="26.6" height="32.5" stroke="#FF5E2A"/>
<rect x="411.2" y="100.4" width="23.6" height="18.8" stroke="#FF5E2A"/>
<rect x="418.4" y="104.7" width="9.1" height="10.1" stroke="#FF5E2A"/>
<rect x="421.1" y="102.5" width="3.7" height="14.5" stroke="#FF4A33"/>
<rect x="420.8" y="95.7" width="4.4" height="28.1" stroke="#FF5E2A"/>
<rect x="420.5" y="108.7" width="5.0" height="2.1" stroke="#FF5E2A"/>
<rect x="415.5" y="85.5" width="15" height="49" stroke="#FF3838"/>
<rect x="402.5" y="80.5" width="41" height="59" stroke="#FF3838"/>
<rect x="420.1" y="103.9" width="5.8" height="11.7" stroke="#FF5E2A"/>
<rect x="410.2" y="101.9" width="25.5" height="15.8" stroke="#FF4A33"/>
<rect x="416.8" y="102.7" width="12.3" height="14.0" stroke="#FF4A33"/>
<rect x="401.5" y="105.5" width="43" height="9" stroke="#FF9D97"/>
<rect x="370.5" y="77.5" width="105" height="64" stroke="#FF3838"/>
<rect x="404.5" y="90.5" width="37" height="38" stroke="#FF701F"/>
<rect x="413.2" y="96.3" width="19.6" height="26.9" stroke="#FF4A33"/>
<rect x="411.6" y="91.0" width="22.7" height="37.5" stroke="#FF5E2A"/>
<rect x="399.5" y="101.5" width="47" height="17" stroke="#FF3838"/>
<rect x="417.4" y="89.8" width="11.2" height="39.9" stroke="#FF4A33"/>
<rect x="419.5" y="102.4" width="6.9" height="14.8" stroke="#FF5E2A"/>
<rect x="414.4" y="96.2" width="17.1" height="27.1" stroke="#FF5E2A"/>
<rect x="392.5" y="81.5" width="61" height="56" stroke="#FF701F"/>
<rect x="419.3" y="98.9" width="7.5" height="21.8" stroke="#FF4A33"/>
<rect x="403.5" y="77.5" width="39" height="65" stroke="#FF701F"/>
<rect x="407.2" y="89.5" width="31.7" height="40.5" stroke="#FF4A33"/>
<rect x="417.0" y="97.0" width="12.0" height="25.6" stroke="#FF4A33"/>
<rect x="419.6" y="105.7" width="6.9" height="8.1" stroke="#FF5E2A"/>
<rect x="421.6" y="106.3" width="2.7" height="6.9" stroke="#FF5E2A"/>
<rect x="420.7" y="108.1" width="4.6" height="3.2" stroke="#FF5E2A"/>
<rect x="414.5" y="95.2" width="17.0" height="29.1" stroke="#FF4A33"/>
<rect x="409.1" y="97.0" width="27.8" height="25.4" stroke="#FF4A33"/>
<rect x="419.0" y="101.7" width="8.0" height="16.1" stroke="#FF5E2A"/>
<rect x="418.8" y="95.8" width="8.4" height="27.8" stroke="#FF5E2A"/>
<rect x="419.6" y="103.9" width="6.9" height="11.8" stroke="#FF4A33"/>
<rect x="362.5" y="35.5" width="121" height="148" stroke="#FF3838"/>
<rect x="421.2" y="107.9" width="3.5" height="3.8" stroke="#FF4A33"/>
<rect x="421.4" y="92.8" width="3.1" height="33.8" stroke="#FF6A50"/>
<rect x="404.5" y="73.5" width="37" height="73" stroke="#FF701F"/>
<rect x="420.6" y="104.8" width="4.8" height="10.0" stroke="#FF5E2A"/>
<rect x="405.9" y="87.5" width="34.3" height="44.6" stroke="#FF5E2A"/>
<rect x="419.8" y="94.1" width="6.3" height="31.4" stroke="#FF5E2A"/>
<rect x="405.5" y="98.5" width="35" height="23" stroke="#FF3838"/>
<rect x="398.5" y="86.5" width="49" height="47" stroke="#FF3838"/>
<rect x="418.4" y="91.5" width="9.1" height="36.5" stroke="#FF4A33"/>
<rect x="416.1" y="94.1" width="13.8" height="31.3" stroke="#FF4A33"/>
<rect x="420.4" y="104.6" width="5.3" height="10.2" stroke="#FF5E2A"/>
<rect x="407.8" y="104.8" width="30.4" height="10.0" stroke="#FF5E2A"/>
<rect x="417.8" y="94.1" width="10.4" height="31.4" stroke="#FF5E2A"/>
<rect x="420.3" y="97.0" width="5.5" height="25.6" stroke="#FF5E2A"/>
<rect x="412.5" y="69.5" width="21" height="80" stroke="#FF3838"/>
<rect x="413.3" y="86.9" width="19.4" height="45.8" stroke="#FF5E2A"/>
<rect x="416.3" y="106.1" width="13.3" height="7.3" stroke="#FF5E2A"/>
<rect x="418.4" y="106.2" width="9.2" height="7.1" stroke="#FF4A33"/>
<rect x="406.8" y="104.8" width="32.4" height="9.8" stroke="#FF5E2A"/>
<rect x="419.3" y="97.5" width="7.4" height="24.5" stroke="#FF4A33"/>
<rect x="420.0" y="104.1" width="5.9" height="11.2" stroke="#FF5E2A"/>
<rect x="417.5" y="99.8" width="11.0" height="19.8" stroke="#FF4A33"/>
<rect x="412.0" y="101.7" width="22.0" height="16.2" stroke="#FF4A33"/>
<rect x="418.2" y="108.0" width="9.6" height="3.4" stroke="#FF5E2A"/>
<rect x="419.3" y="101.3" width="7.5" height="16.9" stroke="#FF5E2A"/>
<rect x="420.5" y="108.7" width="4.9" height="2.1" stroke="#FF5E2A"/>
<rect x="419.9" y="108.9" width="6.3" height="1.7" stroke="#FF5E2A"/>
<rect x="419.4" y="107.2" width="7.2" height="5.1" stroke="#FF4A33"/>
<rect x="381.5" y="82.5" width="83" height="55" stroke="#FF3838"/>
<rect x="422.0" y="98.6" width="2.1" height="22.2" stroke="#FF5E2A"/>
<rect x="418.6" y="100.1" width="8.8" height="19.2" stroke="#FF4A33"/>
<rect x="415.8" y="99.1" width="14.5" height="21.3" stroke="#FF5E2A"/>
<rect x="420.2" y="100.7" width="5.7" height="18.1" stroke="#FF4A33"/>
<rect x="421.0" y="98.9" width="4.0" height="21.7" stroke="#FF5E2A"/>
<rect x="411.5" y="81.5" width="23" height="57" stroke="#FF3838"/>
<rect x="399.5" y="100.5" width="47" height="18" stroke="#FF3838"/>
<rect x="404.5" y="100.5" width="37" height="19" stroke="#FF701F"/>
<rect x="416.5" y="34.5" width="13" height="151" stroke="#FF3838"/>
<rect x="418.5" y="107.5" width="9.0" height="4.5" stroke="#FF5E2A"/>
<rect x="410.7" y="108.1" width="24.6" height="3.4" stroke="#FF4A33"/>
<rect x="421.8" y="107.5" width="2.4" height="4.5" stroke="#FF5E2A"/>
<rect x="420.0" y="105.9" width="5.9" height="7.6" stroke="#FF5E2A"/>
<rect x="397.5" y="100.5" width="51" height="19" stroke="#FF701F"/>
<rect x="412.5" y="72.5" width="21" height="74" stroke="#FF3838"/>
<rect x="415.1" y="87.4" width="15.9" height="44.6" stroke="#FF5E2A"/>
<rect x="417.3" y="105.6" width="11.5" height="8.3" stroke="#FF5E2A"/>
<rect x="418.5" y="62.5" width="9" height="95" stroke="#FF701F"/>
<rect x="420.0" y="105.0" width="5.9" height="9.4" stroke="#FF5E2A"/>
<rect x="411.5" y="94.6" width="23.0" height="30.3" stroke="#FF4A33"/>
<rect x="412.2" y="103.0" width="21.6" height="13.6" stroke="#FF4A33"/>
<rect x="412.1" y="103.5" width="21.9" height="12.5" stroke="#FF5E2A"/>
<rect x="422.5" y="105.0" width="1.0" height="9.4" stroke="#FF4A33"/>
<rect x="401.5" y="58.5" width="43" height="102" stroke="#FF701F"/>
<rect x="408.5" y="85.5" width="29" height="48" stroke="#FF701F"/>
<rect x="394.5" y="88.5" width="57" height="43" stroke="#FF3838"/>
<rect x="419.0" y="102.9" width="8.0" height="13.7" stroke="#FF5E2A"/>
<rect x="422.3" y="98.1" width="1.3" height="23.3" stroke="#FF5E2A"/>
<rect x="421.2" y="108.4" width="3.6" height="2.8" stroke="#FF5E2A"/>
<rect x="420.2" y="104.1" width="5.7" height="11.3" stroke="#FF4A33"/>
<rect x="380.5" y="96.5" width="85" height="26" stroke="#FF3838"/>
<rect x="419.7" y="103.6" width="6.6" height="12.3" stroke="#FF4A33"/>
<rect x="418.6" y="103.0" width="8.8" height="13.4" stroke="#FF4A33"/>
<rect x="406.3" y="100.5" width="33.4" height="18.5" stroke="#FF4A33"/>
<rect x="407.7" y="103.4" width="30.5" height="12.8" stroke="#FF5E2A"/>
<rect x="406.7" y="89.0" width="32.7" height="41.5" stroke="#FF5E2A"/>
<rect x="418.5" y="69.5" width="9" height="80" stroke="#FF701F"/>
<rect x="385.5" y="79.5" width="75" height="60" stroke="#FF3838"/>
<rect x="413.1" y="98.0" width="19.8" height="23.5" stroke="#FF5E2A"/>
<rect x="420.0" y="106.2" width="5.9" height="7.1" stroke="#FF4A33"/>
<rect x="413.0" y="89.3" width="20.0" height="40.9" stroke="#FF5E2A"/>
<rect x="421.4" y="101.6" width="3.2" height="16.3" stroke="#FF5E2A"/>
<rect x="421.5" y="82.5" width="3" height="55" stroke="#FF3838"/>
<rect x="419.5" y="103.3" width="7.1" height="12.9" stroke="#FF5E2A"/>
<rect x="421.0" y="88.3" width="4.1" height="43.0" stroke="#FF5E2A"/>
<rect x="418.7" y="105.4" width="8.6" height="8.7" stroke="#FF4A33"/>
<rect x="419.3" y="97.5" width="7.3" height="24.5" stroke="#FF4A33"/>
<rect x="418.6" y="93.2" width="8.8" height="33.0" stroke="#FF4A33"/>
<rect x="420.1" y="104.8" width="5.8" height="9.9" stroke="#FF5E2A"/>
<rect x="404.5" y="105.5" width="37" height="9" stroke="#FF701F"/>
<rect x="420.5" y="101.3" width="5.1" height="16.9" stroke="#FF5E2A"/>
<rect x="418.9" y="97.9" width="8.3" height="23.8" stroke="#FF5E2A"/>
<rect x="420.2" y="90.4" width="5.5" height="38.7" stroke="#FF5E2A"/>
<rect x="419.1" y="89.5" width="7.8" height="40.4" stroke="#FF5E2A"/>
<rect x="421.5" y="85.5" width="3" height="49" stroke="#FF3838"/>
<rect x="376.5" y="95.5" width="93" height="29" stroke="#FF3838"/>
<rect x="417.5" y="77.5" width="11" height="65" stroke="#FF701F"/>
<rect x="408.7" y="86.9" width="28.6" height="45.8" stroke="#FF4A33"/>
<rect x="418.1" y="91.7" width="9.8" height="36.2" stroke="#FF4A33"/>
<rect x="421.2" y="108.9" width="3.6" height="1.8" stroke="#FF4A33"/>
<rect x="418.8" y="96.6" width="8.4" height="26.3" stroke="#FF4A33"/>
<rect x="419.5" y="100.7" width="7.1" height="18.1" stroke="#FF4A33"/>
<rect x="421.1" y="102.5" width="3.9" height="14.5" stroke="#FF5E2A"/>
<rect x="415.5" y="36.5" width="15" height="146" stroke="#FF701F"/>
<rect x="393.5" y="95.5" width="59" height="28" stroke="#FF3838"/>
<rect x="414.7" y="100.5" width="16.5" height="18.5" stroke="#FF4A33"/>
<rect x="405.5" y="88.5" width="35" height="42" stroke="#FF3838"/>
<rect x="400.5" y="85.5" width="45" height="49" stroke="#FF701F"/>
<rect x="422.1" y="108.3" width="1.7" height="2.8" stroke="#FF5E2A"/>
<rect x="383.5" y="99.5" width="79" height="21" stroke="#FF9D97"/>
<rect x="421.2" y="104.0" width="3.6" height="11.6" stroke="#FF4A33"/>
<rect x="386.5" y="99.5" width="73" height="20" stroke="#FF3838"/>
<rect x="414.5" y="91.0" width="17.0" height="37.4" stroke="#FF5E2A"/>
<rect x="411.0" y="100.1" width="24.0" height="19.3" stroke="#FF5E2A"/>
<rect x="372.5" y="100.5" width="101" height="19" stroke="#FF9D97"/>
<rect x="405.5" y="82.5" width="35" height="54" stroke="#FF701F"/>
<rect x="421.7" y="102.0" width="2.6" height="15.5" stroke="#FF4A33"/>
<rect x="422.0" y="102.0" width="2.1" height="15.6" stroke="#FF5E2A"/>
<rect x="420.9" y="102.8" width="4.1" height="13.8" stroke="#FF4A33"/>
<rect x="405.5" y="84.5" width="35" height="50" stroke="#FF701F"/>
<rect x="413.6" y="100.1" width="18.7" height="19.4" stroke="#FF4A33"/>
<rect x="407.4" y="105.8" width="31.2" height="7.8" stroke="#FF4A33"/>
<rect x="412.7" y="99.7" width="20.6" height="20.2" stroke="#FF4A33"/>
<rect x="402.5" y="94.5" width="41" height="30" stroke="#FF701F"/>
<rect x="420.6" y="105.3" width="4.9" height="8.9" stroke="#FF5E2A"/>
<rect x="422.0" y="104.2" width="1.9" height="11.0" stroke="#FF4A33"/>
<rect x="419.5" y="82.5" width="7" height="54" stroke="#FF3838"/>
<rect x="408.5" y="82.5" width="29" height="54" stroke="#FF701F"/>
<rect x="420.5" y="99.7" width="5.0" height="20.1" stroke="#FF6A50"/>
<rect x="422.4" y="103.7" width="1.1" height="12.1" stroke="#FF4A33"/>
<rect x="418.9" y="106.2" width="8.2" height="7.2" stroke="#FF4A33"/>
<rect x="410.5" y="52.5" width="25" height="115" stroke="#FF3838"/>
<rect x="413.0" y="94.8" width="20.1" height="30.0" stroke="#FF5E2A"/>
<rect x="418.5" y="85.5" width="9" height="49" stroke="#FF3838"/>
<rect x="418.8" y="90.3" width="8.4" height="38.9" stroke="#FF6A50"/>
<rect x="422.3" y="99.9" width="1.4" height="19.7" stroke="#FF4A33"/>
<rect x="416.5" y="72.5" width="13" height="75" stroke="#FF3838"/>
<rect x="385.5" y="84.5" width="75" height="50" stroke="#FF3838"/>
<rect x="418.9" y="91.3" width="8.3" height="36.8" stroke="#FF4A33"/>
<rect x="393.5" y="89.5" width="59" height="40" stroke="#FF3838"/>
<rect x="421.2" y="103.6" width="3.7" height="12.3" stroke="#FF4A33"/>
<rect x="418.6" y="108.5" width="8.8" height="2.5" stroke="#FF4A33"/>
<rect x="418.9" y="100.2" width="8.2" height="19.0" stroke="#FF4A33"/>
<rect x="416.7" y="99.7" width="12.7" height="20.2" stroke="#FF5E2A"/>
<rect x="422.1" y="103.9" width="1.8" height="11.8" stroke="#FF4A33"/>
<rect x="404.5" y="100.5" width="37" height="18" stroke="#FF3838"/>
<rect x="418.4" y="106.4" width="9.2" height="6.6" stroke="#FF5E2A"/>
<rect x="422.4" y="105.1" width="1.2" height="9.3" stroke="#FF4A33"/>
<rect x="411.9" y="98.0" width="22.2" height="23.4" stroke="#FF5E2A"/>
<rect x="416.0" y="93.9" width="14.1" height="31.8" stroke="#FF5E2A"/>
<rect x="421.4" y="107.7" width="3.2" height="4.1" stroke="#FF4A33"/>
<rect x="417.5" y="107.3" width="11.0" height="4.8" stroke="#FF6A50"/>
<rect x="410.2" y="89.6" width="25.6" height="40.3" stroke="#FF5E2A"/>
<rect x="411.3" y="92.6" width="23.3" height="34.2" stroke="#FF4A33"/>
<rect x="414.4" y="95.7" width="17.2" height="28.1" stroke="#FF5E2A"/>
<rect x="419.7" y="99.3" width="6.5" height="20.9" stroke="#FF5E2A"/>
<rect x="414.7" y="96.0" width="16.7" height="27.5" stroke="#FF5E2A"/>
<rect x="402.5" y="93.5" width="41" height="33" stroke="#FF3838"/>
<rect x="376.5" y="95.5" width="93" height="28" stroke="#FF701F"/>
<rect x="411.3" y="93.9" width="23.3" height="31.8" stroke="#FF5E2A"/>
<rect x="409.1" y="95.8" width="27.7" height="27.8" stroke="#FF4A33"/>
<rect x="407.0" y="97.6" width="32.1" height="24.4" stroke="#FF4A33"/>
<rect x="417.7" y="107.2" width="10.7" height="5.1" stroke="#FF5E2A"/>
<rect x="422.0" y="107.0" width="2.1" height="5.5" stroke="#FF5E2A"/>
<rect x="419.1" y="97.9" width="7.8" height="23.7" stroke="#FF4A33"/>
<rect x="417.4" y="94.1" width="11.1" height="31.2" stroke="#FF5E2A"/>
<rect x="415.0" y="106.5" width="16.1" height="6.5" stroke="#FF4A33"/>
<rect x="416.7" y="90.1" width="12.6" height="39.3" stroke="#FF4A33"/>
<rect x="420.1" y="105.7" width="5.8" height="8.0" stroke="#FF5E2A"/>
<rect x="419.6" y="93.6" width="6.8" height="32.3" stroke="#FF5E2A"/>
<rect x="418.5" y="102.4" width="8.9" height="14.8" stroke="#FF4A33"/>
<rect x="420.8" y="107.4" width="4.4" height="4.6" stroke="#FF5E2A"/>
<rect x="420.8" y="96.1" width="4.4" height="27.3" stroke="#FF5E2A"/>
<rect x="422.2" y="108.9" width="1.5" height="1.8" stroke="#FF5E2A"/>
<rect x="419.6" y="99.7" width="6.9" height="20.1" stroke="#FF5E2A"/>
<rect x="417.7" y="100.6" width="10.7" height="18.3" stroke="#FF5E2A"/>
<rect x="420.6" y="100.4" width="4.7" height="18.7" stroke="#FF5E2A"/>
<rect x="419.5" y="97.4" width="7.0" height="24.6" stroke="#FF4A33"/>
<rect x="418.1" y="98.1" width="9.9" height="23.4" stroke="#FF5E2A"/>
<rect x="421.6" y="96.4" width="2.7" height="26.7" stroke="#FF4A33"/>
<rect x="420.8" y="108.4" width="4.5" height="2.7" stroke="#FF5E2A"/>
<rect x="421.4" y="99.2" width="3.3" height="21.1" stroke="#FF5E2A"/>
<rect x="416.5" y="82.5" width="13" height="54" stroke="#FF3838"/>
<rect x="421.7" y="108.6" width="2.6" height="2.3" stroke="#FF4A33"/>
<rect x="418.5" y="107.4" width="9.1" height="4.8" stroke="#FF6A50"/>
<rect x="422.5" y="108.1" width="1.0" height="3.3" stroke="#FF5E2A"/>
<rect x="401.5" y="101.5" width="43" height="16" stroke="#FF701F"/>
<rect x="415.4" y="87.7" width="15.2" height="44.0" stroke="#FF4A33"/>
<rect x="421.1" y="100.2" width="3.9" height="19.1" stroke="#FF4A33"/>
<rect x="418.6" y="104.9" width="8.9" height="9.7" stroke="#FF5E2A"/>
<rect x="396.5" y="95.5" width="53" height="28" stroke="#FF3838"/>
<rect x="417.5" y="78.5" width="11" height="63" stroke="#FF3838"/>
<rect x="422.0" y="107.2" width="2.0" height="5.1" stroke="#FF4A33"/>
<rect x="418.1" y="104.7" width="9.8" height="10.0" stroke="#FF5E2A"/>
<rect x="419.5" y="79.5" width="7" height="61" stroke="#FF3838"/>
<rect x="414.5" y="80.5" width="17" height="58" stroke="#FF3838"/>
<rect x="416.7" y="101.9" width="12.7" height="15.6" stroke="#FF4A33"/>
<rect x="422.0" y="101.9" width="1.9" height="15.7" stroke="#FF4A33"/>
<rect x="415.9" y="107.1" width="14.1" height="5.3" stroke="#FF4A33"/>
<rect x="409.5" y="79.5" width="27" height="60" stroke="#FF701F"/>
<rect x="402.5" y="3.5" width="41" height="213" stroke="#FF701F"/>
<rect x="414.7" y="101.0" width="16.5" height="17.4" stroke="#FF5E2A"/>
<rect x="389.5" y="72.5" width="67" height="74" stroke="#FF3838"/>
<rect x="400.5" y="91.5" width="45" height="36" stroke="#FF701F"/>
<rect x="410.5" y="102.4" width="25.1" height="14.7" stroke="#FF4A33"/>
<rect x="397.5" y="90.5" width="51" height="38" stroke="#FF3838"/>
<rect x="422.5" y="108.0" width="0.9" height="3.5" stroke="#FF5E2A"/>
<rect x="403.5" y="103.5" width="39" height="13" stroke="#FF701F"/>
<rect x="399.5" y="89.5" width="47" height="41" stroke="#FF701F"/>
<rect x="417.1" y="96.5" width="11.8" height="26.4" stroke="#FF4A33"/>
<rect x="409.5" y="86.8" width="27.0" height="45.9" stroke="#FF5E2A"/>
<rect x="419.6" y="98.6" width="6.8" height="22.2" stroke="#FF4A33"/>
<rect x="417.5" y="96.6" width="11.1" height="26.2" stroke="#FF4A33"/>
<rect x="417.5" y="98.7" width="11.0" height="22.2" stroke="#FF5E2A"/>
<rect x="420.8" y="104.9" width="4.4" height="9.7" stroke="#FF4A33"/>
<rect x="417.7" y="106.9" width="10.5" height="5.8" stroke="#FF4A33"/>
<rect x="422.0" y="105.2" width="1.9" height="9.2" stroke="#FF5E2A"/>
<rect x="417.3" y="102.6" width="11.3" height="14.2" stroke="#FF5E2A"/>
<rect x="393.5" y="101.5" width="59" height="16" stroke="#FF3838"/>
<rect x="386.5" y="86.5" width="73" height="46" stroke="#FF3838"/>
<rect x="416.7" y="93.0" width="12.7" height="33.5" stroke="#FF4A33"/>
<rect x="391.5" y="49.5" width="63" height="120" stroke="#FF3838"/>
<rect x="413.6" y="103.4" width="18.8" height="12.8" stroke="#FF4A33"/>
<rect x="421.3" y="94.3" width="3.4" height="30.9" stroke="#FF5E2A"/>
<rect x="419.5" y="105.4" width="7.1" height="8.7" stroke="#FF5E2A"/>
<rect x="416.8" y="97.5" width="12.4" height="24.4" stroke="#FF4A33"/>
<rect x="416.5" y="83.5" width="13" height="53" stroke="#FF9D97"/>
<rect x="411.3" y="95.6" width="23.5" height="28.4" stroke="#FF5E2A"/>
<rect x="419.7" y="104.1" width="6.5" height="11.4" stroke="#FF4A33"/>
<rect x="418.6" y="106.1" width="8.8" height="7.2" stroke="#FF4A33"/>
<rect x="406.5" y="75.5" width="33" height="69" stroke="#FF701F"/>
<rect x="415.5" y="104.2" width="15.0" height="11.1" stroke="#FF4A33"/>
<rect x="413.3" y="95.2" width="19.3" height="29.1" stroke="#FF5E2A"/>
<rect x="416.7" y="100.1" width="12.7" height="19.2" stroke="#FF5E2A"/>
<rect x="410.4" y="90.3" width="25.2" height="38.8" stroke="#FF5E2A"/>
<rect x="409.5" y="70.5" width="27" height="78" stroke="#FF701F"/>
<rect x="419.9" y="98.5" width="6.3" height="22.5" stroke="#FF5E2A"/>
<rect x="404.5" y="39.5" width="37" height="140" stroke="#FF3838"/>
<rect x="419.5" y="81.5" width="7" height="57" stroke="#FF3838"/>
<rect x="413.6" y="98.3" width="18.8" height="23.0" stroke="#FF5E2A"/>
<rect x="417.8" y="106.6" width="10.3" height="6.2" stroke="#FF6A50"/>
<rect x="410.6" y="98.0" width="24.8" height="23.5" stroke="#FF5E2A"/>
<rect x="414.1" y="100.3" width="17.8" height="19.0" stroke="#FF5E2A"/>
<rect x="411.5" y="74.5" width="23" height="71" stroke="#FF3838"/>
<rect x="415.2" y="98.5" width="15.7" height="22.5" stroke="#FF5E2A"/>
<rect x="416.8" y="94.0" width="12.4" height="31.4" stroke="#FF4A33"/>
<rect x="414.7" y="106.6" width="16.6" height="6.3" stroke="#FF5E2A"/>
<rect x="416.2" y="93.8" width="13.6" height="31.9" stroke="#FF4A33"/>
<rect x="419.5" y="86.5" width="7" height="47" stroke="#FF3838"/>
<rect x="421.7" y="104.4" width="2.7" height="10.8" stroke="#FF4A33"/>
<rect x="411.9" y="102.9" width="22.2" height="13.6" stroke="#FF5E2A"/>
<rect x="401.5" y="93.5" width="43" height="32" stroke="#FF3838"/>
<rect x="420.4" y="102.0" width="5.2" height="15.5" stroke="#FF5E2A"/>
<rect x="412.2" y="95.6" width="21.7" height="28.3" stroke="#FF5E2A"/>
<rect x="419.2" y="101.4" width="7.6" height="16.6" stroke="#FF6A50"/>
<rect x="414.9" y="95.2" width="16.3" height="29.2" stroke="#FF4A33"/>
<rect x="408.0" y="101.3" width="30.1" height="16.8" stroke="#FF5E2A"/>
<rect x="413.5" y="99.4" width="19.1" height="20.7" stroke="#FF4A33"/>
<rect x="417.5" y="102.6" width="11.0" height="14.3" stroke="#FF5E2A"/>
<rect x="422.1" y="106.9" width="1.7" height="5.7" stroke="#FF4A33"/>
<rect x="417.4" y="108.0" width="11.3" height="3.5" stroke="#FF5E2A"/>
<rect x="416.3" y="98.9" width="13.3" height="21.7" stroke="#FF4A33"/>
<rect x="402.5" y="87.5" width="41" height="45" stroke="#FF701F"/>
<rect x="419.6" y="107.6" width="6.9" height="4.4" stroke="#FF4A33"/>
<rect x="416.5" y="81.5" width="13" height="57" stroke="#FF3838"/>
<rect x="414.9" y="101.0" width="16.2" height="17.5" stroke="#FF4A33"/>
<rect x="402.5" y="94.5" width="41" height="30" stroke="#FF701F"/>
<rect x="421.0" y="101.6" width="4.0" height="16.3" stroke="#FF4A33"/>
<rect x="408.9" y="95.5" width="28.2" height="28.4" stroke="#FF4A33"/>
<rect x="416.8" y="91.5" width="12.4" height="36.6" stroke="#FF4A33"/>
<rect x="419.5" y="94.2" width="7.0" height="31.1" stroke="#FF4A33"/>
<rect x="421.4" y="109.1" width="3.3" height="1.2" stroke="#FF4A33"/>
<rect x="420.4" y="104.0" width="5.1" height="11.6" stroke="#FF5E2A"/>
<rect x="408.5" y="84.5" width="29" height="51" stroke="#FF9D97"/>
<rect x="418.9" y="98.2" width="8.2" height="23.2" stroke="#FF4A33"/>
<rect x="420.4" y="98.1" width="5.2" height="23.3" stroke="#FF4A33"/>
<rect x="418.4" y="100.5" width="9.2" height="18.5" stroke="#FF5E2A"/>
<rect x="400.5" y="96.5" width="45" height="27" stroke="#FF701F"/>
<rect x="406.7" y="104.1" width="32.5" height="11.3" stroke="#FF5E2A"/>
<rect x="408.5" y="63.5" width="29" height="92" stroke="#FF701F"/>
<rect x="406.8" y="90.7" width="32.3" height="38.0" stroke="#FF4A33"/>
<rect x="409.5" y="93.4" width="27.1" height="32.7" stroke="#FF5E2A"/>
<rect x="418.4" y="99.1" width="9.2" height="21.3" stroke="#FF4A33"/>
<rect x="420.8" y="104.1" width="4.5" height="11.3" stroke="#FF5E2A"/>
<rect x="402.5" y="90.5" width="41" height="38" stroke="#FF701F"/>
<rect x="416.9" y="87.7" width="12.2" height="44.0" stroke="#FF4A33"/>
<rect x="415.3" y="94.8" width="15.3" height="29.9" stroke="#FF5E2A"/>
<rect x="418.6" y="107.1" width="8.8" height="5.3" stroke="#FF5E2A"/>
<rect x="412.3" y="97.7" width="21.5" height="24.1" stroke="#FF4A33"/>
<rect x="400.5" y="96.5" width="45" height="27" stroke="#FF701F"/>
<rect x="418.3" y="101.4" width="9.3" height="16.7" stroke="#FF5E2A"/>
<rect x="415.1" y="100.2" width="15.8" height="19.1" stroke="#FF5E2A"/>
<rect x="415.5" y="81.5" width="15" height="56" stroke="#FF3838"/>
<rect x="410.6" y="104.7" width="24.7" height="10.1" stroke="#FF4A33"/>
<rect x="416.2" y="94.2" width="13.6" height="31.2" stroke="#FF5E2A"/>
<rect x="415.8" y="94.8" width="14.3" height="29.8" stroke="#FF5E2A"/>
<rect x="419.1" y="105.2" width="7.8" height="9.1" stroke="#FF5E2A"/>
<rect x="415.9" y="107.2" width="14.3" height="5.2" stroke="#FF4A33"/>
<rect x="419.6" y="102.8" width="6.8" height="13.8" stroke="#FF4A33"/>
<rect x="409.7" y="106.1" width="26.6" height="7.4" stroke="#FF4A33"/>
<rect x="416.9" y="87.5" width="12.3" height="44.5" stroke="#FF4A33"/>
<rect x="392.5" y="79.5" width="61" height="60" stroke="#FF3838"/>
<rect x="419.4" y="109.0" width="7.2" height="1.5" stroke="#FF4A33"/>
<rect x="420.5" y="103.3" width="5.0" height="12.9" stroke="#FF4A33"/>
<rect x="407.5" y="99.3" width="31.1" height="20.9" stroke="#FF4A33"/>
<rect x="410.8" y="103.2" width="24.4" height="13.2" stroke="#FF4A33"/>
<rect x="421.3" y="107.7" width="3.4" height="4.1" stroke="#FF4A33"/>
<rect x="356.5" y="32.5" width="133" height="154" stroke="#FF701F"/>
<rect x="417.1" y="105.8" width="11.9" height="8.0" stroke="#FF4A33"/>
<rect x="404.5" y="101.5" width="37" height="17" stroke="#FF3838"/>
<rect x="418.2" y="92.4" width="9.6" height="34.6" stroke="#FF5E2A"/>
<rect x="410.2" y="97.8" width="25.6" height="23.8" stroke="#FF4A33"/>
<rect x="404.5" y="105.5" width="37" height="8" stroke="#FF3838"/>
<rect x="418.5" y="54.5" width="9" height="111" stroke="#FF3838"/>
<rect x="413.4" y="95.2" width="19.1" height="29.1" stroke="#FF5E2A"/>
<rect x="407.9" y="102.7" width="30.1" height="14.1" stroke="#FF5E2A"/>
<rect x="379.5" y="3.5" width="87" height="213" stroke="#FF3838"/>
<rect x="406.2" y="89.1" width="33.5" height="41.3" stroke="#FF4A33"/>
<rect x="398.5" y="87.5" width="49" height="44" stroke="#FF3838"/>
<rect x="411.1" y="99.7" width="23.9" height="20.0" stroke="#FF5E2A"/>
<rect x="409.8" y="86.5" width="26.4" height="46.5" stroke="#FF5E2A"/>
<rect x="411.2" y="92.0" width="23.6" height="35.5" stroke="#FF5E2A"/>
<rect x="417.1" y="98.5" width="11.9" height="22.6" stroke="#FF5E2A"/>
<rect x="422.0" y="97.6" width="2.1" height="24.2" stroke="#FF5E2A"/>
<rect x="421.8" y="105.6" width="2.4" height="8.2" stroke="#FF5E2A"/>
<rect x="413.3" y="103.7" width="19.5" height="12.1" stroke="#FF4A33"/>
<rect x="412.1" y="104.7" width="21.9" height="10.0" stroke="#FF5E2A"/>
<rect x="415.5" y="91.4" width="15.1" height="36.7" stroke="#FF5E2A"/>
<rect x="419.0" y="99.3" width="8.1" height="20.8" stroke="#FF5E2A"/>
<rect x="418.6" y="104.3" width="8.7" height="11.0" stroke="#FF4A33"/>
<rect x="421.1" y="96.5" width="3.8" height="26.5" stroke="#FF5E2A"/>
<rect x="403.5" y="83.5" width="39" height="53" stroke="#FF701F"/>
<rect x="421.8" y="107.4" width="2.4" height="4.8" stroke="#FF6A50"/>
<rect x="393.5" y="102.5" width="59" height="14" stroke="#FF701F"/>
<rect x="418.4" y="104.7" width="9.1" height="10.1" stroke="#FF4A33"/>
<rect x="359.5" y="96.5" width="127" height="26" stroke="#FF3838"/>
<rect x="412.4" y="98.8" width="21.2" height="21.8" stroke="#FF6A50"/>
<rect x="417.9" y="99.1" width="10.2" height="21.2" stroke="#FF4A33"/>
<rect x="415.3" y="94.8" width="15.3" height="29.9" stroke="#FF5E2A"/>
<rect x="418.7" y="108.8" width="8.6" height="1.8" stroke="#FF5E2A"/>
<rect x="396.5" y="97.5" width="53" height="25" stroke="#FF701F"/>
<rect x="416.4" y="97.1" width="13.3" height="25.2" stroke="#FF4A33"/>
<rect x="414.6" y="94.5" width="16.8" height="30.5" stroke="#FF5E2A"/>
<rect x="420.2" y="102.3" width="5.7" height="14.8" stroke="#FF4A33"/>
<rect x="411.7" y="101.0" width="22.7" height="17.6" stroke="#FF5E2A"/>
<rect x="421.6" y="105.0" width="2.8" height="9.4" stroke="#FF5E2A"/>
<rect x="419.5" y="94.6" width="7.0" height="30.4" stroke="#FF4A33"/>
<rect x="402.5" y="96.5" width="41" height="27" stroke="#FF3838"/>
<rect x="422.3" y="108.1" width="1.5" height="3.2" stroke="#FF5E2A"/>
<rect x="414.3" y="92.5" width="17.5" height="34.4" stroke="#FF5E2A"/>
<rect x="404.5" y="82.5" width="37" height="54" stroke="#FF3838"/>
<rect x="415.6" y="105.8" width="14.9" height="7.9" stroke="#FF4A33"/>
<rect x="398.5" y="98.5" width="49" height="23" stroke="#FF701F"/>
<rect x="402.5" y="104.5" width="41" height="11" stroke="#FF3838"/>
<rect x="412.6" y="99.0" width="20.7" height="21.5" stroke="#FF4A33"/>
<rect x="421.8" y="103.7" width="2.5" height="12.1" stroke="#FF4A33"/>
<rect x="418.8" y="103.5" width="8.4" height="12.5" stroke="#FF4A33"/>
<rect x="418.2" y="106.2" width="9.7" height="7.1" stroke="#FF5E2A"/>
<rect x="407.0" y="102.8" width="32.0" height="13.8" stroke="#FF5E2A"/>
<rect x="417.0" y="100.3" width="12.1" height="18.8" stroke="#FF4A33"/>
<rect x="418.1" y="93.7" width="9.9" height="32.1" stroke="#FF5E2A"/>
<rect x="421.3" y="103.7" width="3.4" height="12.0" stroke="#FF5E2A"/>
<rect x="417.7" y="100.6" width="10.6" height="18.3" stroke="#FF4A33"/>
<rect x="415.5" y="82.5" width="15" height="55" stroke="#FF3838"/>
<rect x="422.5" y="107.7" width="1.0" height="4.2" stroke="#FF5E2A"/>
<rect x="417.1" y="102.4" width="11.9" height="14.8" stroke="#FF4A33"/>
<rect x="414.2" y="104.7" width="17.6" height="10.2" stroke="#FF5E2A"/>
<rect x="418.2" y="87.6" width="9.7" height="44.3" stroke="#FF4A33"/>
<rect x="417.6" y="90.9" width="10.8" height="37.6" stroke="#FF4A33"/>
<rect x="419.5" y="102.8" width="7.1" height="13.8" stroke="#FF5E2A"/>
<rect x="409.4" y="93.0" width="27.3" height="33.6" stroke="#FF4A33"/>
<rect x="419.4" y="107.1" width="7.2" height="5.4" stroke="#FF5E2A"/>
<rect x="405.5" y="100.5" width="35" height="18" stroke="#FF3838"/>
<rect x="414.5" y="97.4" width="17.0" height="24.7" stroke="#FF4A33"/>
<rect x="422.2" y="103.4" width="1.6" height="12.6" stroke="#FF5E2A"/>
<rect x="418.4" y="108.9" width="9.2" height="1.6" stroke="#FF4A33"/>
<rect x="415.5" y="80.5" width="15" height="58" stroke="#FF701F"/>
<rect x="410.0" y="87.2" width="25.9" height="45.0" stroke="#FF5E2A"/>
<rect x="416.2" y="106.1" width="13.7" height="7.3" stroke="#FF5E2A"/>
<rect x="417.6" y="99.0" width="10.8" height="21.4" stroke="#FF5E2A"/>
<rect x="410.4" y="100.5" width="25.3" height="18.6" stroke="#FF4A33"/>
<rect x="397.5" y="98.5" width="51" height="22" stroke="#FF3838"/>
<rect x="422.1" y="107.6" width="1.8" height="4.3" stroke="#FF5E2A"/>
<rect x="419.7" y="105.6" width="6.6" height="8.3" stroke="#FF4A33"/>
<rect x="395.5" y="89.5" width="55" height="40" stroke="#FF701F"/>
<rect x="415.0" y="97.7" width="16.0" height="24.1" stroke="#FF4A33"/>
<rect x="420.7" y="97.2" width="4.6" height="25.1" stroke="#FF5E2A"/>
<rect x="394.5" y="92.5" width="57" height="34" stroke="#FF3838"/>
<rect x="386.5" y="97.5" width="73" height="25" stroke="#FF701F"/>
<rect x="418.0" y="100.2" width="10.0" height="19.1" stroke="#FF4A33"/>
<rect x="410.8" y="91.3" width="24.4" height="36.8" stroke="#FF4A33"/>
<rect x="416.6" y="99.6" width="12.7" height="20.4" stroke="#FF5E2A"/>
<rect x="414.5" y="83.5" width="17" height="53" stroke="#FF701F"/>
<rect x="408.1" y="98.1" width="29.9" height="23.2" stroke="#FF4A33"/>
<rect x="418.1" y="107.2" width="9.8" height="5.1" stroke="#FF5E2A"/>
<rect x="417.2" y="95.7" width="11.7" height="28.1" stroke="#FF5E2A"/>
<rect x="418.3" y="96.4" width="9.3" height="26.7" stroke="#FF4A33"/>
<rect x="422.0" y="105.9" width="2.0" height="7.7" stroke="#FF5E2A"/>
<rect x="413.6" y="97.7" width="18.9" height="24.2" stroke="#FF6A50"/>
<rect x="409.9" y="103.9" width="26.1" height="11.6" stroke="#FF5E2A"/>
<rect x="415.8" y="101.0" width="14.4" height="17.5" stroke="#FF5E2A"/>
<rect x="416.5" y="98.8" width="12.9" height="21.9" stroke="#FF5E2A"/>
<rect x="410.2" y="98.1" width="25.6" height="23.4" stroke="#FF6A50"/>
<rect x="419.9" y="107.9" width="6.2" height="3.6" stroke="#FF5E2A"/>
<rect x="420.9" y="103.7" width="4.2" height="12.0" stroke="#FF4A33"/>
<rect x="413.6" y="104.2" width="18.7" height="11.2" stroke="#FF5E2A"/>
<rect x="415.9" y="97.2" width="14.3" height="25.0" stroke="#FF5E2A"/>
<rect x="393.5" y="88.5" width="59" height="43" stroke="#FF3838"/>
<rect x="421.6" y="101.9" width="2.8" height="15.6" stroke="#FF5E2A"/>
<rect x="417.1" y="105.5" width="11.9" height="8.4" stroke="#FF5E2A"/>
<rect x="421.3" y="103.9" width="3.5" height="11.7" stroke="#FF5E2A"/>
<rect x="381.5" y="81.5" width="83" height="57" stroke="#FF3838"/>
<rect x="418.8" y="101.0" width="8.4" height="17.5" stroke="#FF5E2A"/>
<rect x="410.5" y="81.5" width="25" height="56" stroke="#FF3838"/>
<rect x="422.4" y="108.7" width="1.2" height="2.0" stroke="#FF4A33"/>
<rect x="420.7" y="98.8" width="4.7" height="21.9" stroke="#FF4A33"/>
<rect x="410.5" y="84.5" width="25" height="51" stroke="#FF701F"/>
<rect x="418.8" y="102.0" width="8.4" height="15.5" stroke="#FF4A33"/>
<rect x="419.6" y="107.0" width="6.8" height="5.5" stroke="#FF4A33"/>
<rect x="411.5" y="98.0" width="22.9" height="23.5" stroke="#FF4A33"/>
<rect x="416.0" y="99.7" width="14.0" height="20.1" stroke="#FF5E2A"/>
<rect x="416.0" y="98.8" width="14.1" height="21.8" stroke="#FF5E2A"/>
<rect x="415.0" y="87.7" width="16.0" height="44.1" stroke="#FF4A33"/>
<rect x="419.1" y="97.9" width="7.9" height="23.6" stroke="#FF4A33"/>
<rect x="398.5" y="104.5" width="49" height="11" stroke="#FF701F"/>
<rect x="407.5" y="81.5" width="31" height="56" stroke="#FF701F"/>
<rect x="417.4" y="108.1" width="11.2" height="3.4" stroke="#FF4A33"/>
<rect x="418.5" y="105.6" width="8.9" height="8.3" stroke="#FF4A33"/>
<rect x="422.1" y="109.1" width="1.8" height="1.4" stroke="#FF4A33"/>
<rect x="421.0" y="102.5" width="4.0" height="14.5" stroke="#FF4A33"/>
<rect x="402.5" y="98.5" width="41" height="22" stroke="#FF3838"/>
<rect x="421.1" y="97.7" width="3.8" height="24.0" stroke="#FF4A33"/>
<rect x="418.7" y="105.8" width="8.5" height="7.9" stroke="#FF5E2A"/>
<rect x="394.5" y="89.5" width="57" height="41" stroke="#FF3838"/>
<rect x="406.5" y="69.5" width="33" height="80" stroke="#FF3838"/>
<rect x="349.5" y="30.5" width="147" height="158" stroke="#FF3838"/>
<rect x="413.5" y="84.5" width="19" height="51" stroke="#FF701F"/>
<rect x="418.3" y="99.6" width="9.4" height="20.4" stroke="#FF4A33"/>
<rect x="415.5" y="98.9" width="15.1" height="21.6" stroke="#FF4A33"/>
<rect x="416.3" y="106.8" width="13.4" height="5.8" stroke="#FF5E2A"/>
<rect x="402.5" y="93.5" width="41" height="33" stroke="#FF701F"/>
<rect x="410.5" y="67.5" width="25" height="85" stroke="#FF3838"/>
<rect x="419.8" y="103.3" width="6.3" height="12.8" stroke="#FF5E2A"/>
<rect x="400.5" y="86.5" width="45" height="47" stroke="#FF701F"/>
<rect x="409.5" y="74.5" width="27" height="71" stroke="#FF3838"/>
<rect x="405.5" y="99.5" width="35" height="20" stroke="#FF701F"/>
<rect x="402.5" y="92.5" width="41" height="35" stroke="#FF3838"/>
<rect x="409.7" y="95.1" width="26.7" height="29.4" stroke="#FF4A33"/>
<rect x="414.9" y="103.1" width="16.2" height="13.2" stroke="#FF5E2A"/>
<rect x="401.5" y="85.5" width="43" height="49" stroke="#FF3838"/>
<rect x="404.5" y="71.5" width="37" height="76" stroke="#FF3838"/>
<rect x="417.5" y="96.4" width="11.0" height="26.7" stroke="#FF4A33"/>
<rect x="417.1" y="100.8" width="11.8" height="18.0" stroke="#FF4A33"/>
<rect x="414.3" y="97.0" width="17.5" height="25.4" stroke="#FF6A50"/>
<rect x="412.0" y="106.7" width="22.0" height="6.1" stroke="#FF5E2A"/>
<rect x="416.3" y="96.5" width="13.3" height="26.5" stroke="#FF5E2A"/>
<rect x="421.3" y="107.8" width="3.3" height="3.8" stroke="#FF4A33"/>
<rect x="403.5" y="77.5" width="39" height="64" stroke="#FF3838"/>
<rect x="419.4" y="106.3" width="7.3" height="7.0" stroke="#FF6A50"/>
<rect x="420.8" y="97.7" width="4.3" height="24.1" stroke="#FF5E2A"/>
<rect x="420.0" y="105.9" width="6.0" height="7.8" stroke="#FF4A33"/>
<rect x="415.8" y="103.2" width="14.5" height="13.0" stroke="#FF4A33"/>
<rect x="417.5" y="107.8" width="11.1" height="3.8" stroke="#FF4A33"/>
<rect x="422.4" y="105.7" width="1.2" height="8.0" stroke="#FF4A33"/>
<rect x="421.7" y="104.0" width="2.7" height="11.5" stroke="#FF5E2A"/>
<rect x="421.7" y="99.7" width="2.5" height="20.1" stroke="#FF5E2A"/>
<rect x="419.8" y="106.7" width="6.3" height="6.1" stroke="#FF4A33"/>
<rect x="415.6" y="107.4" width="14.8" height="4.6" stroke="#FF4A33"/>
<rect x="419.5" y="96.7" width="7.0" height="26.1" stroke="#FF6A50"/>
<rect x="385.5" y="107.5" width="75" height="5" stroke="#FF3838"/>
<rect x="408.9" y="104.1" width="28.3" height="11.4" stroke="#FF5E2A"/>
<rect x="399.5" y="79.5" width="47" height="60" stroke="#FF701F"/>
<rect x="410.4" y="98.6" width="25.2" height="22.3" stroke="#FF5E2A"/>
<rect x="421.1" y="108.4" width="3.7" height="2.6" stroke="#FF4A33"/>
<rect x="412.7" y="100.6" width="20.6" height="18.2" stroke="#FF5E2A"/>
<rect x="421.5" y="96.9" width="3.0" height="25.8" stroke="#FF5E2A"/>
<rect x="420.5" y="104.9" width="5.0" height="9.7" stroke="#FF6A50"/>
<rect x="414.7" y="102.3" width="16.7" height="15.0" stroke="#FF4A33"/>
<rect x="415.9" y="89.0" width="14.3" height="41.6" stroke="#FF4A33"/>
<rect x="411.0" y="102.1" width="23.9" height="15.3" stroke="#FF5E2A"/>
<rect x="417.5" y="100.4" width="11.0" height="18.6" stroke="#FF4A33"/>
<rect x="405.5" y="74.5" width="35" height="70" stroke="#FF701F"/>
<rect x="408.7" y="106.4" width="28.5" height="6.8" stroke="#FF4A33"/>
<rect x="413.3" y="103.7" width="19.4" height="12.1" stroke="#FF4A33"/>
<rect x="419.4" y="97.8" width="7.1" height="23.9" stroke="#FF5E2A"/>
<rect x="418.9" y="103.1" width="8.2" height="13.4" stroke="#FF4A33"/>
<rect x="404.5" y="60.5" width="37" height="98" stroke="#FF701F"/>
<rect x="343.5" y="81.5" width="159" height="57" stroke="#FF3838"/>
<rect x="418.3" y="101.5" width="9.4" height="16.6" stroke="#FF4A33"/>
<rect x="414.4" y="106.7" width="17.1" height="6.1" stroke="#FF4A33"/>
<rect x="419.9" y="107.5" width="6.3" height="4.6" stroke="#FF5E2A"/>
<rect x="422.4" y="99.7" width="1.1" height="20.0" stroke="#FF5E2A"/>
<rect x="410.5" y="102.6" width="25.0" height="14.2" stroke="#FF4A33"/>
<rect x="414.5" y="97.6" width="16.9" height="24.2" stroke="#FF5E2A"/>
<rect x="409.7" y="99.6" width="26.5" height="20.4" stroke="#FF5E2A"/>
<rect x="418.5" y="72.5" width="9" height="74" stroke="#FF9D97"/>
<rect x="419.7" y="108.5" width="6.5" height="2.6" stroke="#FF4A33"/>
<rect x="395.5" y="84.5" width="55" height="51" stroke="#FF3838"/>
<rect x="420.1" y="103.8" width="5.9" height="11.9" stroke="#FF5E2A"/>
<rect x="409.7" y="104.2" width="26.6" height="11.0" stroke="#FF5E2A"/>
<rect x="406.4" y="98.5" width="33.2" height="22.5" stroke="#FF4A33"/>
<rect x="415.8" y="95.1" width="14.3" height="29.4" stroke="#FF5E2A"/>
<rect x="418.5" y="57.5" width="9" height="105" stroke="#FF701F"/>
<rect x="414.5" y="83.5" width="17" height="53" stroke="#FF3838"/>
<rect x="421.9" y="102.9" width="2.3" height="13.7" stroke="#FF4A33"/>
<rect x="417.5" y="99.8" width="11.0" height="20.0" stroke="#FF4A33"/>
<rect x="418.0" y="107.5" width="10.0" height="4.4" stroke="#FF5E2A"/>
<rect x="421.3" y="108.5" width="3.3" height="2.5" stroke="#FF4A33"/>
<rect x="417.6" y="97.1" width="10.8" height="25.3" stroke="#FF4A33"/>
<rect x="407.6" y="105.6" width="30.7" height="8.4" stroke="#FF5E2A"/>
<rect x="369.5" y="56.5" width="107" height="107" stroke="#FF3838"/>
<rect x="420.6" y="100.6" width="4.8" height="18.4" stroke="#FF4A33"/>
<rect x="412.5" y="77.5" width="21" height="64" stroke="#FF701F"/>
<rect x="412.7" y="94.3" width="20.7" height="30.9" stroke="#FF6A50"/>
<rect x="417.6" y="105.6" width="10.9" height="8.3" stroke="#FF5E2A"/>
<rect x="418.8" y="90.7" width="8.3" height="38.2" stroke="#FF5E2A"/>
<rect x="411.9" y="104.1" width="22.2" height="11.4" stroke="#FF5E2A"/>
<rect x="409.4" y="95.4" width="27.1" height="28.8" stroke="#FF4A33"/>
<rect x="421.3" y="105.4" width="3.3" height="8.7" stroke="#FF5E2A"/>
<rect x="395.5" y="98.5" width="55" height="22" stroke="#FF9D97"/>
<rect x="416.7" y="101.1" width="12.6" height="17.4" stroke="#FF5E2A"/>
<rect x="415.1" y="98.3" width="15.8" height="22.9" stroke="#FF4A33"/>
<rect x="418.8" y="106.0" width="8.4" height="7.5" stroke="#FF5E2A"/>
<rect x="401.5" y="62.5" width="43" height="94" stroke="#FF3838"/>
<rect x="421.1" y="106.3" width="3.7" height="6.9" stroke="#FF5E2A"/>
<rect x="418.5" y="103.8" width="9.1" height="11.8" stroke="#FF5E2A"/>
<rect x="414.9" y="94.1" width="16.1" height="31.3" stroke="#FF4A33"/>
<rect x="420.1" y="104.7" width="5.8" height="10.1" stroke="#FF4A33"/>
<rect x="417.3" y="101.2" width="11.3" height="17.0" stroke="#FF4A33"/>
<rect x="411.9" y="95.6" width="22.1" height="28.4" stroke="#FF5E2A"/>
<rect x="403.5" y="105.5" width="39" height="8" stroke="#FF701F"/>
<rect x="417.5" y="76.5" width="11" height="67" stroke="#FF701F"/>
<rect x="418.4" y="106.6" width="9.1" height="6.4" stroke="#FF4A33"/>
<rect x="412.3" y="107.0" width="21.3" height="5.5" stroke="#FF4A33"/>
<rect x="415.2" y="96.3" width="15.6" height="26.8" stroke="#FF5E2A"/>
<rect x="420.5" y="101.4" width="5.1" height="16.8" stroke="#FF4A33"/>
<rect x="408.0" y="93.4" width="29.9" height="32.7" stroke="#FF5E2A"/>
<rect x="417.6" y="105.7" width="10.8" height="8.2" stroke="#FF4A33"/>
<rect x="420.1" y="107.0" width="5.9" height="5.4" stroke="#FF4A33"/>
<rect x="406.6" y="94.6" width="32.7" height="30.3" stroke="#FF5E2A"/>
<rect x="411.4" y="98.1" width="23.3" height="23.3" stroke="#FF4A33"/>
<rect x="419.7" y="95.2" width="6.6" height="29.1" stroke="#FF4A33"/>
<rect x="410.2" y="97.2" width="25.5" height="25.2" stroke="#FF4A33"/>
<rect x="419.4" y="98.9" width="7.2" height="21.6" stroke="#FF5E2A"/>
<rect x="418.9" y="102.6" width="8.3" height="14.2" stroke="#FF4A33"/>
<rect x="420.4" y="108.7" width="5.2" height="2.1" stroke="#FF5E2A"/>
<rect x="408.4" y="102.9" width="29.3" height="13.8" stroke="#FF4A33"/>
<rect x="416.5" y="83.5" width="13" height="52" stroke="#FF701F"/>
<rect x="411.3" y="94.5" width="23.3" height="30.4" stroke="#FF4A33"/>
<rect x="421.1" y="95.6" width="3.7" height="28.2" stroke="#FF5E2A"/>
<rect x="418.4" y="101.7" width="9.2" height="16.0" stroke="#FF4A33"/>
<rect x="421.8" y="105.6" width="2.4" height="8.3" stroke="#FF5E2A"/>
<rect x="419.4" y="105.1" width="7.3" height="9.4" stroke="#FF4A33"/>
<rect x="418.4" y="91.0" width="9.2" height="37.4" stroke="#FF4A33"/>
<rect x="417.5" y="82.5" width="11" height="55" stroke="#FF701F"/>
<rect x="421.6" y="107.8" width="2.7" height="4.0" stroke="#FF4A33"/>
<rect x="406.3" y="90.8" width="33.4" height="38.0" stroke="#FF5E2A"/>
<rect x="421.8" y="107.6" width="2.4" height="4.4" stroke="#FF5E2A"/>
<rect x="404.5" y="91.5" width="37" height="36" stroke="#FF3838"/>
<rect x="417.1" y="107.2" width="11.7" height="5.1" stroke="#FF5E2A"/>
<rect x="406.5" y="104.5" width="33.1" height="10.6" stroke="#FF5E2A"/>
<rect x="420.6" y="100.1" width="4.7" height="19.3" stroke="#FF5E2A"/>
<rect x="415.7" y="97.3" width="14.7" height="24.9" stroke="#FF4A33"/>
<rect x="412.0" y="97.7" width="22.0" height="24.1" stroke="#FF4A33"/>
<rect x="377.5" y="45.5" width="91" height="128" stroke="#FF3838"/>
<rect x="413.3" y="102.9" width="19.5" height="13.6" stroke="#FF4A33"/>
<rect x="390.5" y="90.5" width="65" height="38" stroke="#FF9D97"/>
<rect x="413.5" y="81.5" width="19" height="56" stroke="#FF3838"/>
<rect x="398.5" y="91.5" width="49" height="37" stroke="#FF3838"/>
<rect x="415.8" y="103.1" width="14.4" height="13.3" stroke="#FF5E2A"/>
<rect x="415.0" y="88.2" width="15.9" height="43.2" stroke="#FF4A33"/>
<rect x="406.1" y="95.7" width="33.8" height="28.1" stroke="#FF5E2A"/>
<rect x="420.8" y="105.6" width="4.3" height="8.4" stroke="#FF4A33"/>
<rect x="387.5" y="8.5" width="71" height="202" stroke="#FF3838"/>
<rect x="414.0" y="106.7" width="18.0" height="6.2" stroke="#FF4A33"/>
<rect x="372.5" y="102.5" width="101" height="15" stroke="#FF3838"/>
<rect x="394.5" y="100.5" width="57" height="19" stroke="#FF3838"/>
<rect x="414.4" y="101.3" width="17.1" height="16.9" stroke="#FF4A33"/>
<rect x="409.4" y="92.6" width="27.2" height="34.4" stroke="#FF4A33"/>
<rect x="413.3" y="106.4" width="19.3" height="6.7" stroke="#FF4A33"/>
<rect x="411.7" y="95.3" width="22.7" height="29.0" stroke="#FF4A33"/>
<rect x="394.5" y="62.5" width="57" height="95" stroke="#FF3838"/>
<rect x="420.4" y="91.6" width="5.3" height="36.3" stroke="#FF5E2A"/>
<rect x="420.5" y="106.1" width="5.1" height="7.3" stroke="#FF4A33"/>
<rect x="421.5" y="78.5" width="3" height="63" stroke="#FF701F"/>
<rect x="419.5" y="96.6" width="7.0" height="26.2" stroke="#FF4A33"/>
<rect x="403.5" y="75.5" width="39" height="69" stroke="#FF3838"/>
<rect x="415.5" y="75.5" width="15" height="69" stroke="#FF3838"/>
<rect x="420.8" y="107.5" width="4.4" height="4.5" stroke="#FF4A33"/>
<rect x="418.6" y="104.0" width="8.9" height="11.4" stroke="#FF5E2A"/>
<rect x="417.8" y="100.8" width="10.4" height="17.9" stroke="#FF4A33"/>
<rect x="403.5" y="88.5" width="39" height="43" stroke="#FF3838"/>
<rect x="410.8" y="104.1" width="24.4" height="11.2" stroke="#FF5E2A"/>
<rect x="411.5" y="85.5" width="23" height="49" stroke="#FF701F"/>
<rect x="399.5" y="97.5" width="47" height="24" stroke="#FF701F"/>
<rect x="410.0" y="92.3" width="25.9" height="35.0" stroke="#FF4A33"/>
<rect x="401.5" y="81.5" width="43" height="56" stroke="#FF9D97"/>
<rect x="419.1" y="105.3" width="7.8" height="8.8" stroke="#FF4A33"/>
<rect x="419.7" y="89.1" width="6.6" height="41.2" stroke="#FF5E2A"/>
<rect x="417.2" y="105.1" width="11.7" height="9.3" stroke="#FF4A33"/>
<rect x="373.5" y="104.5" width="99" height="10" stroke="#FF3838"/>
<rect x="420.3" y="94.3" width="5.4" height="30.8" stroke="#FF4A33"/>
<rect x="413.4" y="98.6" width="19.2" height="22.2" stroke="#FF5E2A"/>
<rect x="410.2" y="106.2" width="25.7" height="7.1" stroke="#FF5E2A"/>
<rect x="419.7" y="104.5" width="6.5" height="10.4" stroke="#FF5E2A"/>
<rect x="420.6" y="101.6" width="4.8" height="16.2" stroke="#FF5E2A"/>
<rect x="373.5" y="87.5" width="99" height="45" stroke="#FF701F"/>
<rect x="416.0" y="93.2" width="14.0" height="33.0" stroke="#FF4A33"/>
<rect x="417.3" y="105.6" width="11.4" height="8.3" stroke="#FF6A50"/>
<rect x="412.1" y="97.1" width="21.9" height="25.4" stroke="#FF6A50"/>
<rect x="414.3" y="101.9" width="17.4" height="15.6" stroke="#FF4A33"/>
<rect x="421.2" y="106.0" width="3.7" height="7.4" stroke="#FF5E2A"/>
<rect x="421.7" y="103.8" width="2.6" height="11.8" stroke="#FF5E2A"/>
<rect x="416.6" y="89.5" width="12.9" height="40.5" stroke="#FF5E2A"/>
<rect x="419.4" y="103.9" width="7.3" height="11.7" stroke="#FF4A33"/>
<rect x="415.8" y="102.6" width="14.4" height="14.3" stroke="#FF5E2A"/>
<rect x="420.7" y="99.5" width="4.7" height="20.5" stroke="#FF4A33"/>
<rect x="354.5" y="76.5" width="137" height="67" stroke="#FF3838"/>
<rect x="411.6" y="108.1" width="22.7" height="3.2" stroke="#FF4A33"/>
<rect x="377.5" y="89.5" width="91" height="41" stroke="#FF3838"/>
<rect x="418.1" y="104.7" width="9.8" height="10.1" stroke="#FF5E2A"/>
<rect x="415.9" y="105.8" width="14.2" height="7.8" stroke="#FF4A33"/>
<rect x="418.0" y="105.3" width="10.0" height="9.0" stroke="#FF5E2A"/>
<rect x="414.5" y="104.1" width="17.0" height="11.3" stroke="#FF4A33"/>
<rect x="411.5" y="65.5" width="23" height="88" stroke="#FF701F"/>
<rect x="418.0" y="105.1" width="10.1" height="9.3" stroke="#FF4A33"/>
<rect x="420.1" y="105.8" width="5.8" height="8.0" stroke="#FF5E2A"/>
<rect x="418.8" y="108.7" width="8.3" height="2.1" stroke="#FF5E2A"/>
<rect x="416.4" y="102.8" width="13.2" height="14.0" stroke="#FF4A33"/>
<rect x="406.9" y="87.1" width="32.3" height="45.4" stroke="#FF5E2A"/>
<rect x="421.4" y="107.5" width="3.2" height="4.5" stroke="#FF5E2A"/>
<rect x="419.4" y="100.3" width="7.2" height="18.9" stroke="#FF5E2A"/>
<rect x="412.3" y="96.6" width="21.4" height="26.3" stroke="#FF5E2A"/>
<rect x="398.5" y="94.5" width="49" height="31" stroke="#FF701F"/>
<rect x="418.5" y="57.5" width="9" height="105" stroke="#FF701F"/>
<rect x="413.4" y="104.5" width="19.1" height="10.6" stroke="#FF5E2A"/>
<rect x="417.0" y="99.7" width="12.1" height="20.2" stroke="#FF5E2A"/>
<rect x="417.3" y="107.4" width="11.4" height="4.7" stroke="#FF5E2A"/>
<rect x="414.8" y="91.6" width="16.3" height="36.4" stroke="#FF4A33"/>
<rect x="418.7" y="106.1" width="8.6" height="7.4" stroke="#FF4A33"/>
<rect x="417.3" y="105.0" width="11.3" height="9.5" stroke="#FF5E2A"/>
<rect x="417.7" y="96.5" width="10.6" height="26.5" stroke="#FF4A33"/>
<rect x="394.5" y="99.5" width="57" height="21" stroke="#FF3838"/>
<rect x="416.1" y="93.4" width="13.8" height="32.7" stroke="#FF5E2A"/>
<rect x="392.5" y="105.5" width="61" height="8" stroke="#FF3838"/>
<rect x="416.7" y="94.6" width="12.5" height="30.3" stroke="#FF4A33"/>
<rect x="415.0" y="104.9" width="15.9" height="9.7" stroke="#FF5E2A"/>
<rect x="419.9" y="109.0" width="6.2" height="1.5" stroke="#FF5E2A"/>
<rect x="414.8" y="89.9" width="16.3" height="39.7" stroke="#FF5E2A"/>
<rect x="399.5" y="59.5" width="47" height="100" stroke="#FF701F"/>
<rect x="394.5" y="86.5" width="57" height="46" stroke="#FF3838"/>
<rect x="420.7" y="90.8" width="4.7" height="37.9" stroke="#FF4A33"/>
<rect x="364.5" y="65.5" width="117" height="88" stroke="#FF3838"/>
<rect x="413.9" y="104.4" width="18.3" height="10.8" stroke="#FF5E2A"/>
<rect x="412.5" y="75.5" width="21" height="69" stroke="#FF3838"/>
<rect x="406.7" y="97.1" width="32.7" height="25.3" stroke="#FF4A33"/>
<rect x="415.8" y="89.4" width="14.4" height="40.6" stroke="#FF4A33"/>
<rect x="420.0" y="101.6" width="6.0" height="16.4" stroke="#FF4A33"/>
<rect x="415.8" y="105.0" width="14.4" height="9.5" stroke="#FF5E2A"/>
<rect x="418.1" y="104.2" width="9.8" height="11.1" stroke="#FF5E2A"/>
<rect x="384.5" y="100.5" width="77" height="18" stroke="#FF3838"/>
<rect x="415.8" y="96.4" width="14.3" height="26.7" stroke="#FF5E2A"/>
<rect x="422.4" y="109.0" width="1.3" height="1.5" stroke="#FF4A33"/>
<rect x="400.5" y="49.5" width="45" height="120" stroke="#FF3838"/>
<rect x="411.4" y="97.0" width="23.2" height="25.5" stroke="#FF4A33"/>
<rect x="416.4" y="107.7" width="13.2" height="4.1" stroke="#FF4A33"/>
<rect x="422.0" y="105.6" width="1.9" height="8.4" stroke="#FF5E2A"/>
<rect x="326.5" y="93.5" width="193" height="32" stroke="#FF3838"/>
<rect x="418.0" y="88.9" width="10.0" height="41.8" stroke="#FF5E2A"/>
<rect x="418.0" y="99.1" width="9.9" height="21.3" stroke="#FF5E2A"/>
<rect x="419.1" y="107.2" width="7.9" height="5.1" stroke="#FF5E2A"/>
<rect x="415.5" y="84.5" width="15" height="50" stroke="#FF3838"/>
<rect x="416.7" y="92.0" width="12.6" height="35.4" stroke="#FF4A33"/>
<rect x="414.0" y="94.9" width="18.1" height="29.8" stroke="#FF5E2A"/>
<rect x="412.5" y="105.6" width="20.9" height="8.3" stroke="#FF4A33"/>
<rect x="416.1" y="105.9" width="13.9" height="7.6" stroke="#FF4A33"/>
<rect x="404.5" y="38.5" width="37" height="143" stroke="#FF3838"/>
<rect x="420.6" y="108.8" width="4.9" height="1.9" stroke="#FF5E2A"/>
<rect x="407.4" y="92.8" width="31.1" height="34.0" stroke="#FF5E2A"/>
<rect x="413.4" y="97.2" width="19.1" height="25.0" stroke="#FF4A33"/>
<rect x="415.9" y="106.7" width="14.1" height="6.0" stroke="#FF4A33"/>
<rect x="410.0" y="106.2" width="26.1" height="7.2" stroke="#FF5E2A"/>
<rect x="414.3" y="107.5" width="17.4" height="4.5" stroke="#FF5E2A"/>
<rect x="414.6" y="88.7" width="16.9" height="42.0" stroke="#FF5E2A"/>
<rect x="418.5" y="106.7" width="9.0" height="6.0" stroke="#FF6A50"/>
<rect x="420.0" y="97.2" width="6.1" height="25.1" stroke="#FF5E2A"/>
<rect x="421.5" y="102.4" width="3.0" height="14.8" stroke="#FF5E2A"/>
<rect x="421.1" y="104.7" width="3.9" height="10.1" stroke="#FF4A33"/>
<rect x="419.3" y="105.0" width="7.4" height="9.6" stroke="#FF5E2A"/>
<rect x="409.1" y="101.2" width="27.7" height="17.0" stroke="#FF4A33"/>
<rect x="417.5" y="100.2" width="11.0" height="19.0" stroke="#FF4A33"/>
<rect x="415.3" y="103.9" width="15.4" height="11.7" stroke="#FF5E2A"/>
<rect x="420.6" y="108.3" width="4.7" height="2.8" stroke="#FF5E2A"/>
<rect x="421.6" y="106.7" width="2.8" height="6.0" stroke="#FF5E2A"/>
<rect x="415.5" y="77.5" width="15" height="65" stroke="#FF3838"/>
<rect x="371.5" y="50.5" width="103" height="118" stroke="#FF3838"/>
<rect x="420.8" y="106.6" width="4.4" height="6.2" stroke="#FF4A33"/>
<rect x="401.5" y="105.5" width="43" height="8" stroke="#FF3838"/>
<rect x="421.0" y="108.2" width="4.1" height="3.0" stroke="#FF5E2A"/>
<rect x="421.1" y="107.7" width="3.9" height="4.1" stroke="#FF4A33"/>
<rect x="420.4" y="103.0" width="5.2" height="13.5" stroke="#FF5E2A"/>
<rect x="420.2" y="104.3" width="5.6" height="10.8" stroke="#FF4A33"/>
<rect x="409.5" y="84.5" width="27" height="51" stroke="#FF3838"/>
<rect x="415.5" y="77.5" width="15" height="64" stroke="#FF3838"/>
<rect x="416.2" y="101.7" width="13.7" height="16.2" stroke="#FF4A33"/>
<rect x="419.2" y="94.6" width="7.6" height="30.3" stroke="#FF4A33"/>
<rect x="409.0" y="92.3" width="28.1" height="34.9" stroke="#FF4A33"/>
<rect x="391.5" y="99.5" width="63" height="21" stroke="#FF3838"/>
<rect x="414.8" y="103.1" width="16.5" height="13.3" stroke="#FF5E2A"/>
<rect x="339.5" y="15.5" width="167" height="189" stroke="#FF3838"/>
<rect x="420.8" y="109.0" width="4.5" height="1.6" stroke="#FF5E2A"/>
<rect x="418.2" y="94.8" width="9.5" height="29.9" stroke="#FF4A33"/>
<rect x="421.2" y="98.3" width="3.6" height="22.8" stroke="#FF5E2A"/>
<rect x="402.5" y="85.5" width="41" height="48" stroke="#FF3838"/>
<rect x="419.9" y="104.8" width="6.2" height="10.0" stroke="#FF4A33"/>
<rect x="404.5" y="92.5" width="37" height="34" stroke="#FF3838"/>
<rect x="421.1" y="102.7" width="3.9" height="14.0" stroke="#FF5E2A"/>
<rect x="408.8" y="94.8" width="28.4" height="29.9" stroke="#FF4A33"/>
<rect x="411.7" y="101.1" width="22.6" height="17.3" stroke="#FF5E2A"/>
<rect x="409.8" y="97.7" width="26.4" height="24.2" stroke="#FF5E2A"/>
<rect x="414.1" y="99.4" width="17.9" height="20.7" stroke="#FF5E2A"/>
<rect x="420.6" y="98.1" width="4.9" height="23.3" stroke="#FF5E2A"/>
<rect x="354.5" y="52.5" width="137" height="114" stroke="#FF3838"/>
<rect x="421.4" y="108.3" width="3.3" height="3.0" stroke="#FF5E2A"/>
<rect x="404.5" y="26.5" width="37" height="166" stroke="#FF3838"/>
<rect x="417.2" y="96.8" width="11.6" height="25.9" stroke="#FF4A33"/>
<rect x="420.7" y="106.9" width="4.6" height="5.7" stroke="#FF4A33"/>
<rect x="409.3" y="106.1" width="27.3" height="7.3" stroke="#FF4A33"/>
<rect x="398.5" y="86.5" width="49" height="46" stroke="#FF3838"/>
<rect x="406.5" y="79.5" width="33" height="60" stroke="#FF701F"/>
<rect x="421.2" y="107.6" width="3.5" height="4.4" stroke="#FF5E2A"/>
<rect x="419.7" y="105.1" width="6.6" height="9.4" stroke="#FF6A50"/>
<rect x="411.5" y="71.5" width="23" height="77" stroke="#FF9D97"/>
<rect x="413.4" y="87.7" width="19.2" height="44.2" stroke="#FF4A33"/>
<rect x="407.8" y="86.8" width="30.3" height="46.0" stroke="#FF4A33"/>
<rect x="417.5" y="96.1" width="11.0" height="27.3" stroke="#FF4A33"/>
<rect x="422.0" y="90.0" width="2.1" height="39.6" stroke="#FF5E2A"/>
<rect x="421.1" y="106.5" width="3.7" height="6.5" stroke="#FF5E2A"/>
<rect x="414.9" y="96.5" width="16.3" height="26.5" stroke="#FF5E2A"/>
<rect x="420.8" y="106.3" width="4.5" height="6.8" stroke="#FF5E2A"/>
<rect x="421.5" y="108.3" width="3.0" height="3.0" stroke="#FF5E2A"/>
<rect x="412.3" y="106.7" width="21.3" height="6.1" stroke="#FF5E2A"/>
<rect x="402.5" y="99.5" width="41" height="20" stroke="#FF3838"/>
<rect x="419.7" y="106.6" width="6.6" height="6.3" stroke="#FF4A33"/>
<rect x="417.8" y="104.9" width="10.3" height="9.6" stroke="#FF6A50"/>
<rect x="417.4" y="96.5" width="11.1" height="26.4" stroke="#FF5E2A"/>
<rect x="409.1" y="100.6" width="27.8" height="18.3" stroke="#FF4A33"/>
<rect x="418.1" y="106.2" width="9.7" height="7.2" stroke="#FF4A33"/>
<rect x="418.1" y="104.3" width="9.7" height="10.9" stroke="#FF4A33"/>
<rect x="417.1" y="104.5" width="11.9" height="10.4" stroke="#FF4A33"/>
<rect x="421.2" y="106.0" width="3.5" height="7.5" stroke="#FF5E2A"/>
<rect x="403.5" y="74.5" width="39" height="71" stroke="#FF701F"/>
<rect x="398.5" y="97.5" width="49" height="25" stroke="#FF701F"/>
<rect x="416.4" y="99.9" width="13.2" height="19.7" stroke="#FF5E2A"/>
<rect x="374.5" y="69.5" width="97" height="81" stroke="#FF3838"/>
<rect x="415.3" y="103.9" width="15.4" height="11.8" stroke="#FF4A33"/>
<rect x="416.5" y="97.9" width="13.1" height="23.8" stroke="#FF4A33"/>
<rect x="419.9" y="100.8" width="6.1" height="17.9" stroke="#FF4A33"/>
<rect x="411.5" y="97.7" width="23.0" height="24.0" stroke="#FF5E2A"/>
<rect x="411.0" y="88.3" width="24.1" height="43.0" stroke="#FF4A33"/>
<rect x="407.4" y="94.5" width="31.2" height="30.6" stroke="#FF4A33"/>
<rect x="420.6" y="97.3" width="4.7" height="24.9" stroke="#FF4A33"/>
<rect x="415.5" y="103.5" width="15.0" height="12.6" stroke="#FF4A33"/>
<rect x="421.4" y="100.7" width="3.3" height="18.1" stroke="#FF4A33"/>
<rect x="390.5" y="81.5" width="65" height="56" stroke="#FF3838"/>
<rect x="421.7" y="106.3" width="2.6" height="7.0" stroke="#FF4A33"/>
<rect x="417.5" y="104.4" width="11.1" height="10.6" stroke="#FF5E2A"/>
<rect x="398.5" y="99.5" width="49" height="20" stroke="#FF3838"/>
<rect x="422.0" y="108.4" width="2.0" height="2.6" stroke="#FF5E2A"/>
<rect x="416.0" y="103.8" width="14.0" height="12.0" stroke="#FF5E2A"/>
<rect x="421.9" y="107.4" width="2.1" height="4.7" stroke="#FF5E2A"/>
<rect x="409.0" y="99.5" width="28.0" height="20.4" stroke="#FF4A33"/>
<rect x="418.5" y="78.5" width="9" height="63" stroke="#FF701F"/>
<rect x="419.5" y="104.0" width="7.1" height="11.5" stroke="#FF4A33"/>
<rect x="420.6" y="107.5" width="4.9" height="4.4" stroke="#FF4A33"/>
<rect x="413.5" y="80.5" width="19" height="58" stroke="#FF701F"/>
<rect x="415.9" y="90.7" width="14.1" height="38.1" stroke="#FF4A33"/>
<rect x="411.3" y="102.4" width="23.4" height="14.6" stroke="#FF5E2A"/>
<rect x="409.9" y="88.0" width="26.1" height="43.4" stroke="#FF6A50"/>
<rect x="419.3" y="100.8" width="7.3" height="17.8" stroke="#FF5E2A"/>
<rect x="414.8" y="90.0" width="16.4" height="39.4" stroke="#FF4A33"/>
<rect x="402.5" y="98.5" width="41" height="23" stroke="#FF701F"/>
<rect x="412.7" y="96.7" width="20.7" height="26.0" stroke="#FF4A33"/>
<rect x="413.4" y="100.2" width="19.1" height="19.2" stroke="#FF6A50"/>
<rect x="415.6" y="103.7" width="14.9" height="12.1" stroke="#FF5E2A"/>
<rect x="418.5" y="102.2" width="8.9" height="15.0" stroke="#FF4A33"/>
<rect x="416.5" y="83.5" width="13" height="52" stroke="#FF701F"/>
<rect x="416.5" y="102.4" width="13.1" height="14.7" stroke="#FF4A33"/>
<rect x="364.5" y="92.5" width="117" height="34" stroke="#FF3838"/>
<rect x="417.7" y="105.0" width="10.7" height="9.5" stroke="#FF4A33"/>
<rect x="420.4" y="100.1" width="5.2" height="19.3" stroke="#FF5E2A"/>
<rect x="413.3" y="99.9" width="19.3" height="19.6" stroke="#FF5E2A"/>
<rect x="417.4" y="107.0" width="11.3" height="5.4" stroke="#FF4A33"/>
<rect x="419.2" y="107.6" width="7.6" height="4.4" stroke="#FF5E2A"/>
<rect x="408.9" y="99.9" width="28.2" height="19.8" stroke="#FF4A33"/>
<rect x="417.1" y="94.8" width="11.8" height="29.9" stroke="#FF6A50"/>
<rect x="419.8" y="91.3" width="6.4" height="36.9" stroke="#FF5E2A"/>
<rect x="411.5" y="84.5" width="23" height="50" stroke="#FF3838"/>
<rect x="383.5" y="90.5" width="79" height="39" stroke="#FF3838"/>
<rect x="400.5" y="87.5" width="45" height="44" stroke="#FF701F"/>
<rect x="414.2" y="87.3" width="17.5" height="44.9" stroke="#FF5E2A"/>
<rect x="413.8" y="102.3" width="18.3" height="14.8" stroke="#FF4A33"/>
<rect x="416.2" y="109.2" width="13.6" height="1.1" stroke="#FF6A50"/>
<rect x="409.5" y="71.5" width="27" height="77" stroke="#FF701F"/>
<rect x="417.2" y="89.4" width="11.6" height="40.7" stroke="#FF5E2A"/>
<rect x="413.4" y="93.5" width="19.2" height="32.5" stroke="#FF5E2A"/>
<rect x="417.0" y="87.0" width="12.1" height="45.5" stroke="#FF5E2A"/>
<rect x="414.6" y="91.1" width="16.8" height="37.4" stroke="#FF5E2A"/>
<rect x="422.1" y="107.9" width="1.7" height="3.8" stroke="#FF5E2A"/>
<rect x="416.1" y="106.5" width="13.7" height="6.6" stroke="#FF4A33"/>
<rect x="418.9" y="103.8" width="8.2" height="12.0" stroke="#FF4A33"/>
<rect x="417.9" y="106.3" width="10.2" height="6.8" stroke="#FF4A33"/>
<rect x="413.4" y="101.9" width="19.3" height="15.6" stroke="#FF5E2A"/>
<rect x="421.1" y="99.9" width="3.8" height="19.6" stroke="#FF4A33"/>
<rect x="420.1" y="108.0" width="5.8" height="3.5" stroke="#FF4A33"/>
<rect x="415.0" y="100.5" width="16.0" height="18.6" stroke="#FF5E2A"/>
<rect x="415.5" y="70.5" width="15" height="79" stroke="#FF3838"/>
<rect x="407.8" y="95.3" width="30.4" height="28.9" stroke="#FF4A33"/>
<rect x="413.7" y="106.4" width="18.5" height="6.7" stroke="#FF5E2A"/>
<rect x="421.7" y="104.4" width="2.6" height="10.8" stroke="#FF4A33"/>
<rect x="413.2" y="100.4" width="19.6" height="18.7" stroke="#FF5E2A"/>
<rect x="417.1" y="90.7" width="11.8" height="38.2" stroke="#FF5E2A"/>
<rect x="415.3" y="103.1" width="15.4" height="13.4" stroke="#FF4A33"/>
<rect x="406.5" y="69.5" width="33" height="81" stroke="#FF701F"/>
<rect x="415.5" y="87.2" width="15.0" height="45.1" stroke="#FF5E2A"/>
<rect x="417.5" y="76.5" width="11" height="66" stroke="#FF701F"/>
<rect x="421.7" y="103.3" width="2.6" height="13.0" stroke="#FF4A33"/>
<rect x="418.5" y="85.5" width="9" height="48" stroke="#FF701F"/>
<rect x="409.1" y="107.5" width="27.8" height="4.5" stroke="#FF4A33"/>
<rect x="412.2" y="105.7" width="21.7" height="8.1" stroke="#FF4A33"/>
<rect x="421.0" y="103.4" width="4.0" height="12.7" stroke="#FF5E2A"/>
<rect x="421.3" y="105.4" width="3.3" height="8.6" stroke="#FF5E2A"/>
<rect x="418.3" y="105.1" width="9.5" height="9.4" stroke="#FF4A33"/>
<rect x="412.8" y="95.3" width="20.3" height="28.9" stroke="#FF5E2A"/>
<rect x="419.7" y="101.1" width="6.6" height="17.2" stroke="#FF4A33"/>
<rect x="400.5" y="85.5" width="45" height="49" stroke="#FF3838"/>
<rect x="378.5" y="103.5" width="89" height="13" stroke="#FF3838"/>
<rect x="420.8" y="99.4" width="4.4" height="20.7" stroke="#FF4A33"/>
<rect x="381.5" y="79.5" width="83" height="61" stroke="#FF3838"/>
<rect x="384.5" y="93.5" width="77" height="32" stroke="#FF3838"/>
<rect x="422.2" y="108.3" width="1.6" height="2.9" stroke="#FF5E2A"/>
<rect x="421.8" y="103.0" width="2.4" height="13.5" stroke="#FF4A33"/>
<rect x="417.2" y="102.5" width="11.6" height="14.5" stroke="#FF5E2A"/>
<rect x="416.3" y="102.5" width="13.3" height="14.6" stroke="#FF5E2A"/>
<rect x="420.1" y="98.0" width="5.7" height="23.5" stroke="#FF5E2A"/>
<rect x="416.5" y="82.5" width="13" height="55" stroke="#FF701F"/>
<rect x="409.8" y="98.1" width="26.3" height="23.4" stroke="#FF5E2A"/>
<rect x="420.3" y="106.4" width="5.5" height="6.8" stroke="#FF4A33"/>
<rect x="422.4" y="107.0" width="1.2" height="5.6" stroke="#FF4A33"/>
<rect x="418.1" y="104.6" width="9.7" height="10.2" stroke="#FF5E2A"/>
<rect x="409.8" y="106.1" width="26.3" height="7.2" stroke="#FF4A33"/>
<rect x="398.5" y="83.5" width="49" height="52" stroke="#FF3838"/>
<rect x="406.3" y="92.6" width="33.5" height="34.4" stroke="#FF5E2A"/>
<rect x="422.6" y="109.0" width="0.8" height="1.4" stroke="#FF4A33"/>
<rect x="421.1" y="106.5" width="3.9" height="6.5" stroke="#FF4A33"/>
<rect x="417.1" y="103.1" width="11.8" height="13.3" stroke="#FF5E2A"/>
<rect x="420.2" y="107.6" width="5.6" height="4.4" stroke="#FF4A33"/>
<rect x="412.4" y="87.9" width="21.3" height="43.7" stroke="#FF4A33"/>
<rect x="413.2" y="96.3" width="19.6" height="26.9" stroke="#FF4A33"/>
<rect x="408.6" y="104.9" width="28.7" height="9.7" stroke="#FF5E2A"/>
<rect x="399.5" y="106.5" width="47" height="7" stroke="#FF701F"/>
<rect x="419.5" y="82.5" width="7" height="54" stroke="#FF701F"/>
<rect x="390.5" y="106.5" width="65" height="6" stroke="#FF3838"/>
<rect x="421.4" y="100.1" width="3.2" height="19.4" stroke="#FF5E2A"/>
<rect x="420.7" y="101.6" width="4.7" height="16.2" stroke="#FF5E2A"/>
<rect x="420.7" y="100.4" width="4.5" height="18.6" stroke="#FF5E2A"/>
<rect x="420.1" y="107.5" width="5.7" height="4.4" stroke="#FF5E2A"/>
<rect x="410.7" y="99.3" width="24.7" height="21.0" stroke="#FF4A33"/>
<rect x="392.5" y="94.5" width="61" height="30" stroke="#FF3838"/>
<rect x="421.5" y="92.8" width="3.0" height="34.0" stroke="#FF5E2A"/>
<rect x="409.7" y="94.4" width="26.6" height="30.7" stroke="#FF5E2A"/>
<rect x="402.5" y="104.5" width="41" height="10" stroke="#FF701F"/>
<rect x="413.9" y="94.5" width="18.1" height="30.5" stroke="#FF4A33"/>
<rect x="422.2" y="101.8" width="1.6" height="16.0" stroke="#FF4A33"/>
<rect x="412.5" y="85.5" width="21" height="49" stroke="#FF3838"/>
<rect x="407.3" y="98.4" width="31.4" height="22.7" stroke="#FF5E2A"/>
<rect x="421.9" y="105.4" width="2.2" height="8.6" stroke="#FF5E2A"/>
<rect x="418.5" y="105.6" width="9.0" height="8.3" stroke="#FF5E2A"/>
<rect x="404.5" y="95.5" width="37" height="28" stroke="#FF701F"/>
<rect x="413.1" y="93.5" width="19.7" height="32.6" stroke="#FF5E2A"/>
<rect x="403.5" y="85.5" width="39" height="49" stroke="#FF701F"/>
<rect x="400.5" y="105.5" width="45" height="9" stroke="#FF701F"/>
<rect x="420.9" y="103.6" width="4.1" height="12.2" stroke="#FF5E2A"/>
<rect x="420.8" y="101.4" width="4.4" height="16.8" stroke="#FF4A33"/>
<rect x="406.8" y="90.9" width="32.5" height="37.7" stroke="#FF5E2A"/>
<rect x="417.6" y="109.0" width="10.8" height="1.4" stroke="#FF4A33"/>
<rect x="407.4" y="98.4" width="31.3" height="22.7" stroke="#FF5E2A"/>
<rect x="410.5" y="82.5" width="25" height="54" stroke="#FF701F"/>
<rect x="419.5" y="86.5" width="7" height="47" stroke="#FF701F"/>
<rect x="406.6" y="94.2" width="32.9" height="31.1" stroke="#FF5E2A"/>
<rect x="412.3" y="96.6" width="21.3" height="26.4" stroke="#FF5E2A"/>
<rect x="419.1" y="107.4" width="7.7" height="4.7" stroke="#FF4A33"/>
<rect x="418.7" y="104.2" width="8.6" height="11.0" stroke="#FF4A33"/>
<rect x="419.0" y="103.0" width="8.0" height="13.4" stroke="#FF4A33"/>
<rect x="414.5" y="66.5" width="17" height="86" stroke="#FF3838"/>
<rect x="407.3" y="108.0" width="31.5" height="3.5" stroke="#FF5E2A"/>
<rect x="412.5" y="81.5" width="21" height="56" stroke="#FF701F"/>
<rect x="417.3" y="89.9" width="11.4" height="39.7" stroke="#FF5E2A"/>
<rect x="421.4" y="96.9" width="3.1" height="25.7" stroke="#FF4A33"/>
<rect x="415.8" y="105.6" width="14.4" height="8.3" stroke="#FF4A33"/>
<rect x="417.1" y="99.9" width="11.9" height="19.7" stroke="#FF5E2A"/>
<rect x="419.6" y="104.0" width="6.8" height="11.5" stroke="#FF4A33"/>
<rect x="420.4" y="101.1" width="5.3" height="17.3" stroke="#FF4A33"/>
<rect x="397.5" y="96.5" width="51" height="27" stroke="#FF3838"/>
<rect x="398.5" y="99.5" width="49" height="21" stroke="#FF3838"/>
<rect x="421.5" y="107.5" width="2.9" height="4.5" stroke="#FF4A33"/>
<rect x="408.0" y="104.2" width="29.9" height="11.2" stroke="#FF4A33"/>
<rect x="414.5" y="83.5" width="17" height="52" stroke="#FF3838"/>
<rect x="391.5" y="100.5" width="63" height="19" stroke="#FF701F"/>
<rect x="420.3" y="107.0" width="5.4" height="5.6" stroke="#FF4A33"/>
<rect x="408.5" y="82.5" width="29" height="54" stroke="#FF3838"/>
<rect x="419.5" y="104.5" width="7.1" height="10.6" stroke="#FF5E2A"/>
<rect x="418.1" y="103.1" width="9.8" height="13.4" stroke="#FF5E2A"/>
<rect x="415.6" y="90.5" width="14.7" height="38.4" stroke="#FF4A33"/>
<rect x="409.0" y="96.7" width="28.0" height="26.2" stroke="#FF5E2A"/>
<rect x="416.2" y="96.0" width="13.5" height="27.5" stroke="#FF5E2A"/>
<rect x="421.9" y="106.2" width="2.3" height="7.1" stroke="#FF5E2A"/>
<rect x="410.5" y="108.1" width="25.1" height="3.4" stroke="#FF5E2A"/>
<rect x="417.1" y="105.4" width="11.8" height="8.6" stroke="#FF5E2A"/>
<rect x="418.3" y="100.1" width="9.5" height="19.2" stroke="#FF5E2A"/>
<rect x="422.1" y="107.5" width="1.8" height="4.4" stroke="#FF5E2A"/>
<rect x="419.1" y="94.0" width="7.7" height="31.4" stroke="#FF5E2A"/>
<rect x="406.5" y="100.1" width="33.0" height="19.2" stroke="#FF5E2A"/>
<rect x="405.5" y="98.5" width="35" height="23" stroke="#FF3838"/>
<rect x="414.0" y="103.3" width="18.1" height="12.9" stroke="#FF5E2A"/>
<rect x="420.6" y="106.1" width="4.8" height="7.4" stroke="#FF5E2A"/>
<rect x="411.5" y="64.5" width="23" height="90" stroke="#FF9D97"/>
<rect x="420.5" y="107.1" width="4.9" height="5.3" stroke="#FF5E2A"/>
<rect x="411.0" y="107.4" width="23.9" height="4.7" stroke="#FF5E2A"/>
<rect x="419.5" y="107.0" width="7.0" height="5.5" stroke="#FF5E2A"/>
<rect x="421.8" y="109.1" width="2.3" height="1.3" stroke="#FF5E2A"/>
<rect x="414.2" y="100.4" width="17.6" height="18.6" stroke="#FF5E2A"/>
<rect x="415.8" y="101.1" width="14.3" height="17.3" stroke="#FF5E2A"/>
<rect x="415.8" y="103.5" width="14.3" height="12.5" stroke="#FF4A33"/>
<rect x="420.6" y="107.2" width="4.7" height="5.2" stroke="#FF4A33"/>
<rect x="421.0" y="106.8" width="4.0" height="5.9" stroke="#FF4A33"/>
<rect x="407.0" y="107.8" width="31.9" height="3.8" stroke="#FF5E2A"/>
<rect x="417.3" y="102.9" width="11.3" height="13.7" stroke="#FF5E2A"/>
<rect x="397.5" y="99.5" width="51" height="21" stroke="#FF3838"/>
<rect x="397.5" y="59.5" width="51" height="101" stroke="#FF3838"/>
<rect x="421.1" y="105.5" width="3.9" height="8.5" stroke="#FF5E2A"/>
<rect x="418.9" y="101.8" width="8.3" height="15.8" stroke="#FF4A33"/>
<rect x="422.6" y="109.0" width="0.7" height="1.4" stroke="#FF5E2A"/>
<rect x="417.6" y="102.7" width="10.9" height="14.2" stroke="#FF5E2A"/>
<rect x="420.0" y="96.4" width="6.0" height="26.7" stroke="#FF4A33"/>
<rect x="415.8" y="106.0" width="14.4" height="7.5" stroke="#FF5E2A"/>
<rect x="418.8" y="101.5" width="8.3" height="16.4" stroke="#FF6A50"/>
<rect x="419.6" y="103.3" width="6.8" height="12.9" stroke="#FF5E2A"/>
<rect x="420.5" y="98.9" width="5.1" height="21.7" stroke="#FF4A33"/>
<rect x="420.3" y="105.4" width="5.3" height="8.6" stroke="#FF5E2A"/>
<rect x="405.8" y="95.0" width="34.3" height="29.6" stroke="#FF5E2A"/>
<rect x="412.6" y="100.1" width="20.8" height="19.3" stroke="#FF5E2A"/>
<rect x="382.5" y="43.5" width="81" height="132" stroke="#FF3838"/>
<rect x="411.5" y="81.5" width="23" height="57" stroke="#FF3838"/>
<rect x="419.0" y="102.4" width="8.0" height="14.8" stroke="#FF5E2A"/>
<rect x="419.3" y="97.2" width="7.4" height="25.1" stroke="#FF4A33"/>
<rect x="397.5" y="100.5" width="51" height="19" stroke="#FF701F"/>
<rect x="422.2" y="106.3" width="1.5" height="6.8" stroke="#FF4A33"/>
<rect x="416.5" y="100.0" width="13.1" height="19.6" stroke="#FF5E2A"/>
<rect x="417.9" y="99.8" width="10.2" height="19.9" stroke="#FF4A33"/>
<rect x="422.4" y="98.3" width="1.3" height="23.0" stroke="#FF4A33"/>
<rect x="407.2" y="97.3" width="31.7" height="25.0" stroke="#FF4A33"/>
<rect x="416.8" y="103.0" width="12.3" height="13.6" stroke="#FF4A33"/>
<rect x="418.1" y="96.4" width="9.8" height="26.7" stroke="#FF4A33"/>
<rect x="420.5" y="101.1" width="5.1" height="17.3" stroke="#FF5E2A"/>
<rect x="417.5" y="82.5" width="11" height="54" stroke="#FF3838"/>
<rect x="417.5" y="26.5" width="11" height="166" stroke="#FF3838"/>
<rect x="408.5" y="82.5" width="29" height="54" stroke="#FF3838"/>
<rect x="418.6" y="102.3" width="8.8" height="15.0" stroke="#FF6A50"/>
<rect x="369.5" y="87.5" width="107" height="44" stroke="#FF3838"/>
<rect x="419.6" y="87.9" width="6.8" height="43.6" stroke="#FF4A33"/>
<rect x="415.9" y="104.8" width="14.1" height="9.8" stroke="#FF5E2A"/>
<rect x="419.7" y="104.0" width="6.6" height="11.6" stroke="#FF5E2A"/>
<rect x="409.8" y="90.6" width="26.5" height="38.3" stroke="#FF5E2A"/>
<rect x="418.9" y="98.5" width="8.3" height="22.5" stroke="#FF4A33"/>
<rect x="400.5" y="96.5" width="45" height="26" stroke="#FF3838"/>
<rect x="407.5" y="61.5" width="31" height="97" stroke="#FF3838"/>
<rect x="413.5" y="79.5" width="19" height="61" stroke="#FF3838"/>
<rect x="421.9" y="95.1" width="2.1" height="29.2" stroke="#FF5E2A"/>
<rect x="416.7" y="101.9" width="12.5" height="15.7" stroke="#FF5E2A"/>
<rect x="417.2" y="104.9" width="11.7" height="9.8" stroke="#FF4A33"/>
<rect x="412.0" y="89.8" width="22.0" height="39.9" stroke="#FF4A33"/>
<rect x="421.6" y="105.3" width="2.8" height="8.9" stroke="#FF5E2A"/>
<rect x="411.9" y="98.1" width="22.3" height="23.3" stroke="#FF5E2A"/>
<rect x="411.4" y="98.4" width="23.1" height="22.8" stroke="#FF4A33"/>
<rect x="417.2" y="87.2" width="11.6" height="45.2" stroke="#FF5E2A"/>
<rect x="414.9" y="102.9" width="16.2" height="13.7" stroke="#FF4A33"/>
<rect x="419.5" y="40.5" width="7" height="139" stroke="#FF3838"/>
<rect x="408.6" y="107.4" width="28.8" height="4.7" stroke="#FF4A33"/>
<rect x="421.2" y="105.8" width="3.6" height="8.0" stroke="#FF4A33"/>
<rect x="419.8" y="103.5" width="6.3" height="12.5" stroke="#FF4A33"/>
<rect x="363.5" y="91.5" width="119" height="37" stroke="#FF3838"/>
<rect x="417.2" y="100.5" width="11.7" height="18.4" stroke="#FF5E2A"/>
<rect x="417.0" y="102.3" width="12.0" height="15.0" stroke="#FF5E2A"/>
<rect x="420.6" y="108.3" width="4.9" height="2.9" stroke="#FF4A33"/>
<rect x="418.1" y="98.6" width="9.8" height="22.3" stroke="#FF4A33"/>
<rect x="414.5" y="64.5" width="17" height="90" stroke="#FF701F"/>
<rect x="421.1" y="108.3" width="3.7" height="2.9" stroke="#FF5E2A"/>
<rect x="421.6" y="107.4" width="2.7" height="4.6" stroke="#FF4A33"/>
<rect x="418.7" y="106.8" width="8.5" height="5.9" stroke="#FF5E2A"/>
<rect x="396.5" y="89.5" width="53" height="41" stroke="#FF701F"/>
<rect x="418.2" y="107.2" width="9.7" height="5.1" stroke="#FF4A33"/>
<rect x="359.5" y="80.5" width="127" height="59" stroke="#FF3838"/>
<rect x="403.5" y="91.5" width="39" height="37" stroke="#FF3838"/>
<rect x="411.3" y="91.1" width="23.4" height="37.2" stroke="#FF4A33"/>
<rect x="418.8" y="91.2" width="8.4" height="37.1" stroke="#FF5E2A"/>
<rect x="412.4" y="103.0" width="21.1" height="13.6" stroke="#FF5E2A"/>
<rect x="341.5" y="92.5" width="163" height="35" stroke="#FF3838"/>
<rect x="421.3" y="101.3" width="3.3" height="17.0" stroke="#FF5E2A"/>
<rect x="413.5" y="85.5" width="19" height="48" stroke="#FF3838"/>
<rect x="392.5" y="93.5" width="61" height="32" stroke="#FF3838"/>
<rect x="406.9" y="106.6" width="32.2" height="6.3" stroke="#FF5E2A"/>
<rect x="415.4" y="89.5" width="15.1" height="40.5" stroke="#FF5E2A"/>
<rect x="418.6" y="93.9" width="8.9" height="31.7" stroke="#FF4A33"/>
<rect x="407.6" y="107.6" width="30.9" height="4.3" stroke="#FF5E2A"/>
<rect x="422.0" y="102.4" width="2.1" height="14.6" stroke="#FF5E2A"/>
<rect x="388.5" y="93.5" width="69" height="32" stroke="#FF3838"/>
<rect x="420.1" y="108.6" width="5.8" height="2.3" stroke="#FF5E2A"/>
<rect x="422.2" y="99.9" width="1.5" height="19.8" stroke="#FF4A33"/>
<rect x="418.1" y="97.4" width="9.8" height="24.8" stroke="#FF4A33"/>
<rect x="417.5" y="68.5" width="11" height="83" stroke="#FF701F"/>
<rect x="418.4" y="99.0" width="9.2" height="21.6" stroke="#FF5E2A"/>
<rect x="421.9" y="105.8" width="2.2" height="8.0" stroke="#FF5E2A"/>
<rect x="420.0" y="94.0" width="6.0" height="31.5" stroke="#FF5E2A"/>
<rect x="410.5" y="52.5" width="25" height="114" stroke="#FF3838"/>
<rect x="414.5" y="85.5" width="17" height="48" stroke="#FF701F"/>
<rect x="405.5" y="94.5" width="35" height="31" stroke="#FF701F"/>
<rect x="415.6" y="96.6" width="14.9" height="26.2" stroke="#FF5E2A"/>
<rect x="420.9" y="104.6" width="4.2" height="10.3" stroke="#FF4A33"/>
<rect x="418.2" y="106.2" width="9.6" height="7.1" stroke="#FF5E2A"/>
<rect x="416.1" y="102.0" width="13.8" height="15.5" stroke="#FF5E2A"/>
<rect x="415.0" y="96.4" width="16.0" height="26.8" stroke="#FF5E2A"/>
<rect x="414.4" y="101.6" width="17.3" height="16.2" stroke="#FF5E2A"/>
<rect x="414.6" y="90.0" width="16.7" height="39.4" stroke="#FF5E2A"/>
<rect x="410.8" y="101.7" width="24.4" height="16.0" stroke="#FF5E2A"/>
<rect x="410.4" y="92.1" width="25.3" height="35.2" stroke="#FF5E2A"/>
<rect x="420.0" y="107.7" width="5.9" height="4.1" stroke="#FF4A33"/>
<rect x="404.5" y="105.5" width="37" height="8" stroke="#FF3838"/>
<rect x="410.5" y="84.5" width="25" height="51" stroke="#FF701F"/>
<rect x="418.3" y="100.0" width="9.5" height="19.5" stroke="#FF5E2A"/>
<rect x="415.0" y="102.0" width="15.9" height="15.5" stroke="#FF5E2A"/>
<rect x="417.6" y="94.2" width="10.9" height="31.0" stroke="#FF4A33"/>
<rect x="414.5" y="46.5" width="17" height="127" stroke="#FF701F"/>
<rect x="422.1" y="103.9" width="1.8" height="11.8" stroke="#FF4A33"/>
<rect x="422.1" y="98.6" width="1.7" height="22.2" stroke="#FF5E2A"/>
<rect x="409.2" y="98.6" width="27.5" height="22.3" stroke="#FF4A33"/>
<rect x="418.4" y="99.9" width="9.2" height="19.8" stroke="#FF5E2A"/>
<rect x="400.5" y="91.5" width="45" height="36" stroke="#FF701F"/>
<rect x="397.5" y="25.5" width="51" height="169" stroke="#FF3838"/>
<rect x="414.5" y="85.5" width="17" height="49" stroke="#FF701F"/>
<rect x="385.5" y="98.5" width="75" height="23" stroke="#FF3838"/>
<rect x="420.3" y="108.3" width="5.4" height="2.9" stroke="#FF5E2A"/>
<rect x="414.5" y="43.5" width="17" height="132" stroke="#FF3838"/>
<rect x="421.1" y="99.3" width="3.8" height="20.9" stroke="#FF5E2A"/>
<rect x="414.6" y="96.5" width="16.7" height="26.5" stroke="#FF5E2A"/>
<rect x="403.5" y="96.5" width="39" height="26" stroke="#FF701F"/>
<rect x="414.6" y="98.2" width="16.8" height="23.2" stroke="#FF5E2A"/>
<rect x="413.5" y="102.8" width="19.0" height="13.9" stroke="#FF5E2A"/>
<rect x="420.3" y="104.7" width="5.4" height="10.1" stroke="#FF4A33"/>
<rect x="414.0" y="105.3" width="18.1" height="9.0" stroke="#FF5E2A"/>
<rect x="419.6" y="102.6" width="6.7" height="14.3" stroke="#FF4A33"/>
<rect x="415.1" y="102.0" width="15.8" height="15.5" stroke="#FF5E2A"/>
<rect x="419.5" y="92.4" width="7.0" height="34.7" stroke="#FF4A33"/>
<rect x="406.9" y="89.4" width="32.3" height="40.6" stroke="#FF4A33"/>
<rect x="410.7" y="106.4" width="24.5" height="6.8" stroke="#FF4A33"/>
<rect x="412.7" y="101.2" width="20.7" height="17.1" stroke="#FF5E2A"/>
<rect x="408.5" y="78.5" width="29" height="63" stroke="#FF701F"/>
<rect x="400.5" y="92.5" width="45" height="35" stroke="#FF701F"/>
<rect x="415.7" y="102.4" width="14.6" height="14.6" stroke="#FF4A33"/>
<rect x="419.3" y="96.1" width="7.3" height="27.3" stroke="#FF5E2A"/>
<rect x="419.0" y="98.7" width="8.0" height="22.1" stroke="#FF5E2A"/>
<rect x="390.5" y="99.5" width="65" height="21" stroke="#FF9D97"/>
<rect x="413.0" y="90.7" width="20.0" height="38.2" stroke="#FF5E2A"/>
<rect x="420.7" y="103.3" width="4.7" height="13.0" stroke="#FF5E2A"/>
<rect x="420.5" y="107.7" width="5.0" height="4.1" stroke="#FF4A33"/>
<rect x="402.5" y="98.5" width="41" height="23" stroke="#FF3838"/>
<rect x="417.4" y="98.3" width="11.2" height="22.9" stroke="#FF5E2A"/>
<rect x="389.5" y="97.5" width="67" height="24" stroke="#FF3838"/>
<rect x="395.5" y="91.5" width="55" height="37" stroke="#FF3838"/>
<rect x="417.5" y="96.8" width="11.1" height="26.0" stroke="#FF4A33"/>
<rect x="417.7" y="103.1" width="10.6" height="13.3" stroke="#FF4A33"/>
<rect x="420.3" y="107.1" width="5.5" height="5.3" stroke="#FF4A33"/>
<rect x="409.5" y="102.5" width="26.9" height="14.6" stroke="#FF4A33"/>
<rect x="421.4" y="106.4" width="3.2" height="6.7" stroke="#FF4A33"/>
<rect x="413.1" y="106.1" width="19.8" height="7.2" stroke="#FF5E2A"/>
<rect x="418.5" y="79.5" width="9" height="60" stroke="#FF3838"/>
<rect x="397.5" y="94.5" width="51" height="30" stroke="#FF701F"/>
<rect x="418.4" y="100.9" width="9.2" height="17.8" stroke="#FF4A33"/>
<rect x="420.0" y="102.7" width="5.9" height="14.1" stroke="#FF5E2A"/>
<rect x="412.5" y="80.5" width="21" height="58" stroke="#FF701F"/>
<rect x="420.8" y="108.7" width="4.4" height="2.1" stroke="#FF4A33"/>
<rect x="411.5" y="89.5" width="23.1" height="40.4" stroke="#FF4A33"/>
<rect x="418.4" y="103.2" width="9.2" height="13.1" stroke="#FF5E2A"/>
<rect x="419.6" y="105.4" width="6.8" height="8.7" stroke="#FF5E2A"/>
<rect x="418.5" y="108.3" width="8.9" height="3.0" stroke="#FF5E2A"/>
<rect x="317.5" y="62.5" width="211" height="94" stroke="#FF3838"/>
<rect x="421.4" y="100.6" width="3.3" height="18.4" stroke="#FF4A33"/>
<rect x="412.7" y="94.7" width="20.6" height="30.1" stroke="#FF5E2A"/>
<rect x="417.3" y="102.6" width="11.4" height="14.2" stroke="#FF5E2A"/>
<rect x="419.7" y="107.7" width="6.6" height="4.2" stroke="#FF4A33"/>
<rect x="403.5" y="99.5" width="39" height="20" stroke="#FF3838"/>
<rect x="415.3" y="89.8" width="15.3" height="39.9" stroke="#FF6A50"/>
<rect x="395.5" y="88.5" width="55" height="42" stroke="#FF3838"/>
<rect x="422.1" y="99.7" width="1.8" height="20.1" stroke="#FF4A33"/>
<rect x="401.5" y="89.5" width="43" height="41" stroke="#FF3838"/>
<rect x="415.7" y="88.2" width="14.6" height="43.0" stroke="#FF5E2A"/>
<rect x="393.5" y="60.5" width="59" height="98" stroke="#FF3838"/>
<rect x="415.5" y="84.5" width="15" height="50" stroke="#FF701F"/>
<rect x="418.9" y="106.9" width="8.3" height="5.7" stroke="#FF4A33"/>
<rect x="419.4" y="96.5" width="7.1" height="26.6" stroke="#FF4A33"/>
<rect x="413.5" y="97.6" width="19.0" height="24.3" stroke="#FF5E2A"/>
<rect x="421.7" y="90.7" width="2.5" height="38.2" stroke="#FF4A33"/>
<rect x="418.4" y="98.6" width="9.3" height="22.3" stroke="#FF6A50"/>
<rect x="420.6" y="93.3" width="4.7" height="32.9" stroke="#FF5E2A"/>
<rect x="370.5" y="90.5" width="105" height="38" stroke="#FF9D97"/>
<rect x="412.6" y="89.9" width="20.8" height="39.7" stroke="#FF5E2A"/>
<rect x="418.0" y="103.3" width="10.1" height="13.0" stroke="#FF4A33"/>
<rect x="422.6" y="108.7" width="0.7" height="2.2" stroke="#FF4A33"/>
<rect x="417.3" y="97.4" width="11.4" height="24.6" stroke="#FF4A33"/>
<rect x="419.6" y="101.5" width="6.8" height="16.5" stroke="#FF4A33"/>
<rect x="417.2" y="94.6" width="11.6" height="30.2" stroke="#FF5E2A"/>
<rect x="416.8" y="107.5" width="12.5" height="4.4" stroke="#FF4A33"/>
<rect x="420.1" y="107.9" width="5.8" height="3.7" stroke="#FF4A33"/>
<rect x="421.5" y="91.0" width="3.1" height="37.6" stroke="#FF5E2A"/>
<rect x="418.5" y="104.7" width="9.0" height="10.0" stroke="#FF4A33"/>
<rect x="417.7" y="101.1" width="10.6" height="17.4" stroke="#FF6A50"/>
<rect x="417.3" y="93.7" width="11.4" height="32.0" stroke="#FF5E2A"/>
<rect x="417.2" y="88.9" width="11.7" height="41.6" stroke="#FF4A33"/>
<rect x="414.5" y="83.5" width="17" height="53" stroke="#FF701F"/>
<rect x="371.5" y="23.5" width="103" height="172" stroke="#FF3838"/>
<rect x="409.5" y="84.5" width="27" height="50" stroke="#FF3838"/>
<rect x="418.9" y="99.6" width="8.3" height="20.3" stroke="#FF5E2A"/>
<rect x="415.8" y="102.7" width="14.3" height="14.1" stroke="#FF5E2A"/>
<rect x="419.1" y="101.9" width="7.9" height="15.6" stroke="#FF5E2A"/>
<rect x="415.2" y="91.8" width="15.7" height="36.0" stroke="#FF4A33"/>
<rect x="397.5" y="75.5" width="51" height="68" stroke="#FF3838"/>
<rect x="413.3" y="99.7" width="19.3" height="20.2" stroke="#FF5E2A"/>
<rect x="415.8" y="88.7" width="14.5" height="42.1" stroke="#FF5E2A"/>
</g>
<g shape-rendering="crispEdges">
<path fill="#92bef1" d="M60.50 482.49H64.41V486.50H60.50zM60.50 474.47H64.41V478.48H60.50zM60.50 470.46H64.41V474.47H60.50zM60.50 462.44H64.41V466.45H60.50zM60.50 458.43H64.41V462.44H60.50zM60.50 434.37H64.41V438.38H60.50zM60.50 426.35H64.41V430.36H60.50zM60.50 390.26H64.41V394.27H60.50zM60.50 382.24H64.41V386.25H60.50zM60.50 378.23H64.41V382.24H60.50zM60.50 370.21H64.41V374.22H60.50zM60.50 346.15H64.41V350.16H60.50zM60.50 342.14H64.41V346.15H60.50zM64.41 482.49H68.33V486.50H64.41zM64.41 478.48H68.33V482.49H64.41zM64.41 474.47H68.33V478.48H64.41zM64.41 434.37H68.33V438.38H64.41zM64.41 426.35H68.33V430.36H64.41zM64.41 418.33H68.33V422.34H64.41zM64.41 406.30H68.33V410.31H64.41zM64.41 394.27H68.33V398.28H64.41zM64.41 378.23H68.33V382.24H64.41zM64.41 374.22H68.33V378.23H64.41zM64.41 366.20H68.33V370.21H64.41zM64.41 358.18H68.33V362.19H64.41zM64.41 354.17H68.33V358.18H64.41zM64.41 346.15H68.33V350.16H64.41zM68.33 482.49H72.24V486.50H68.33zM68.33 430.36H72.24V434.37H68.33zM68.33 414.32H72.24V418.33H68.33zM68.33 402.29H72.24V406.30H68.33zM68.33 390.26H72.24V394.27H68.33zM68.33 366.20H72.24V370.21H68.33zM68.33 350.16H72.24V354.17H68.33zM68.33 338.13H72.24V342.14H68.33zM68.33 330.11H72.24V334.12H68.33zM68.33 306.05H72.24V310.06H68.33zM68.33 298.03H72.24V302.04H68.33zM68.33 294.02H72.24V298.03H68.33zM68.33 290.01H72.24V294.02H68.33zM68.33 286.00H72.24V290.01H68.33zM72.24 474.47H76.16V478.48H72.24zM72.24 470.46H76.16V474.47H72.24zM72.24 466.45H76.16V470.46H72.24zM72.24 462.44H76.16V466.45H72.24zM72.24 446.40H76.16V450.41H72.24zM72.24 438.38H76.16V442.39H72.24zM72.24 386.25H76.16V390.26H72.24zM72.24 374.22H76.16V378.23H72.24zM72.24 362.19H76.16V366.20H72.24zM72.24 350.16H76.16V354.17H72.24zM72.24 346.15H76.16V350.16H72.24zM72.24 326.10H76.16V330.11H72.24zM72.24 302.04H76.16V306.05H72.24zM72.24 298.03H76.16V302.04H72.24zM76.16 462.44H80.07V466.45H76.16zM76.16 422.34H80.07V426.35H76.16zM76.16 322.09H80.07V326.10H76.16zM76.16 310.06H80.07V314.07H76.16zM80.07 478.48H83.98V482.49H80.07zM80.07 470.46H83.98V474.47H80.07zM80.07 446.40H83.98V450.41H80.07zM80.07 434.37H83.98V438.38H80.07zM80.07 426.35H83.98V430.36H80.07zM80.07 418.33H83.98V422.34H80.07zM80.07 322.09H83.98V326.10H80.07zM80.07 294.02H83.98V298.03H80.07zM83.98 482.49H87.90V486.50H83.98zM83.98 474.47H87.90V478.48H83.98zM83.98 470.46H87.90V474.47H83.98zM83.98 450.41H87.90V454.42H83.98zM83.98 306.05H87.90V310.06H83.98zM83.98 290.01H87.90V294.02H83.98zM87.90 478.48H91.81V482.49H87.90zM87.90 458.43H91.81V462.44H87.90zM87.90 454.42H91.81V458.43H87.90zM87.90 450.41H91.81V454.42H87.90zM87.90 438.38H91.81V442.39H87.90zM87.90 410.31H91.81V414.32H87.90zM87.90 358.18H91.81V362.19H87.90zM87.90 306.05H91.81V310.06H87.90zM87.90 302.04H91.81V306.05H87.90zM87.90 290.01H91.81V294.02H87.90zM91.81 478.48H95.73V482.49H91.81zM91.81 466.45H95.73V470.46H91.81zM91.81 458.43H95.73V462.44H91.81zM91.81 378.23H95.73V382.24H91.81zM91.81 318.08H95.73V322.09H91.81zM91.81 314.07H95.73V318.08H91.81zM91.81 290.01H95.73V294.02H91.81zM91.81 286.00H95.73V290.01H91.81zM95.73 478.48H99.64V482.49H95.73zM95.73 474.47H99.64V478.48H95.73zM95.73 442.39H99.64V446.40H95.73zM95.73 294.02H99.64V298.03H95.73zM95.73 290.01H99.64V294.02H95.73zM99.64 478.48H103.55V482.49H99.64zM99.64 466.45H103.55V470.46H99.64zM99.64 450.41H103.55V454.42H99.64zM99.64 430.36H103.55V434.37H99.64zM99.64 382.24H103.55V386.25H99.64zM99.64 314.07H103.55V318.08H99.64zM99.64 298.03H103.55V302.04H99.64zM103.55 482.49H107.47V486.50H103.55zM103.55 470.46H107.47V474.47H103.55zM103.55 466.45H107.47V470.46H103.55zM103.55 334.12H107.47V338.13H103.55zM103.55 286.00H107.47V290.01H103.55zM107.47 482.49H111.38V486.50H107.47zM107.47 470.46H111.38V474.47H107.47zM107.47 446.40H111.38V450.41H107.47zM107.47 410.31H111.38V414.32H107.47zM107.47 406.30H111.38V410.31H107.47zM111.38 482.49H115.30V486.50H111.38zM111.38 458.43H115.30V462.44H111.38zM111.38 438.38H115.30V442.39H111.38zM111.38 286.00H115.30V290.01H111.38zM115.30 478.48H119.21V482.49H115.30zM115.30 470.46H119.21V474.47H115.30zM115.30 442.39H119.21V446.40H115.30zM115.30 438.38H119.21V442.39H115.30zM115.30 410.31H119.21V414.32H115.30zM115.30 342.14H119.21V346.15H115.30zM115.30 306.05H119.21V310.06H115.30zM119.21 478.48H123.12V482.49H119.21zM119.21 474.47H123.12V478.48H119.21zM119.21 462.44H123.12V466.45H119.21zM119.21 338.13H123.12V342.14H119.21zM119.21 302.04H123.12V306.05H119.21zM119.21 290.01H123.12V294.02H119.21zM119.21 286.00H123.12V290.01H119.21zM123.12 474.47H127.04V478.48H123.12zM123.12 406.30H127.04V410.31H123.12zM123.12 330.11H127.04V334.12H123.12zM123.12 290.01H127.04V294.02H123.12zM127.04 474.47H130.95V478.48H127.04zM127.04 462.44H130.95V466.45H127.04zM127.04 458.43H130.95V462.44H127.04zM127.04 454.42H130.95V458.43H127.04zM127.04 310.06H130.95V314.07H127.04zM127.04 306.05H130.95V310.06H127.04zM127.04 290.01H130.95V294.02H127.04zM130.95 462.44H134.87V466.45H130.95zM130.95 286.00H134.87V290.01H130.95zM134.87 478.48H138.78V482.49H134.87zM134.87 474.47H138.78V478.48H134.87zM134.87 306.05H138.78V310.06H134.87zM134.87 302.04H138.78V306.05H134.87zM134.87 294.02H138.78V298.03H134.87zM134.87 290.01H138.78V294.02H134.87zM138.78 482.49H142.69V486.50H138.78zM138.78 478.48H142.69V482.49H138.78zM138.78 438.38H142.69V442.39H138.78zM138.78 286.00H142.69V290.01H138.78zM142.69 478.48H146.61V482.49H142.69zM142.69 474.47H146.61V478.48H142.69zM142.69 306.05H146.61V310.06H142.69zM146.61 482.49H150.52V486.50H146.61zM146.61 322.09H150.52V326.10H146.61zM146.61 286.00H150.52V290.01H146.61zM150.52 458.43H154.44V462.44H150.52zM150.52 438.38H154.44V442.39H150.52zM150.52 286.00H154.44V290.01H150.52zM154.44 482.49H158.35V486.50H154.44zM154.44 470.46H158.35V474.47H154.44zM154.44 302.04H158.35V306.05H154.44zM154.44 286.00H158.35V290.01H154.44zM158.35 474.47H162.26V478.48H158.35zM158.35 458.43H162.26V462.44H158.35zM158.35 454.42H162.26V458.43H158.35zM158.35 450.41H162.26V454.42H158.35zM158.35 310.06H162.26V314.07H158.35zM162.26 470.46H166.18V474.47H162.26zM162.26 450.41H166.18V454.42H162.26zM162.26 342.14H166.18V346.15H162.26zM166.18 422.34H170.09V426.35H166.18zM170.09 482.49H174.01V486.50H170.09zM170.09 474.47H174.01V478.48H170.09zM170.09 462.44H174.01V466.45H170.09zM170.09 298.03H174.01V302.04H170.09zM170.09 286.00H174.01V290.01H170.09zM174.01 478.48H177.92V482.49H174.01zM174.01 466.45H177.92V470.46H174.01zM174.01 462.44H177.92V466.45H174.01zM174.01 446.40H177.92V450.41H174.01zM174.01 290.01H177.92V294.02H174.01zM177.92 478.48H181.83V482.49H177.92zM177.92 474.47H181.83V478.48H177.92zM177.92 454.42H181.83V458.43H177.92zM177.92 318.08H181.83V322.09H177.92zM181.83 478.48H185.75V482.49H181.83zM181.83 474.47H185.75V478.48H181.83zM181.83 290.01H185.75V294.02H181.83zM185.75 470.46H189.66V474.47H185.75zM185.75 302.04H189.66V306.05H185.75zM189.66 478.48H193.58V482.49H189.66zM189.66 434.37H193.58V438.38H189.66zM189.66 426.35H193.58V430.36H189.66zM189.66 398.28H193.58V402.29H189.66zM189.66 394.27H193.58V398.28H189.66zM189.66 346.15H193.58V350.16H189.66zM193.58 482.49H197.49V486.50H193.58zM193.58 474.47H197.49V478.48H193.58zM193.58 466.45H197.49V470.46H193.58zM193.58 342.14H197.49V346.15H193.58zM193.58 310.06H197.49V314.07H193.58zM193.58 302.04H197.49V306.05H193.58zM197.49 466.45H201.40V470.46H197.49zM197.49 462.44H201.40V466.45H197.49zM197.49 446.40H201.40V450.41H197.49zM197.49 426.35H201.40V430.36H197.49zM197.49 302.04H201.40V306.05H197.49zM201.40 454.42H205.32V458.43H201.40zM201.40 434.37H205.32V438.38H201.40zM201.40 382.24H205.32V386.25H201.40zM201.40 294.02H205.32V298.03H201.40zM205.32 474.47H209.23V478.48H205.32zM205.32 458.43H209.23V462.44H205.32zM205.32 414.32H209.23V418.33H205.32zM205.32 302.04H209.23V306.05H205.32zM205.32 298.03H209.23V302.04H205.32zM205.32 286.00H209.23V290.01H205.32zM209.23 470.46H213.15V474.47H209.23zM213.15 458.43H217.06V462.44H213.15zM213.15 450.41H217.06V454.42H213.15zM213.15 430.36H217.06V434.37H213.15zM213.15 314.07H217.06V318.08H213.15zM213.15 302.04H217.06V306.05H213.15zM213.15 294.02H217.06V298.03H213.15zM217.06 474.47H220.97V478.48H217.06zM217.06 418.33H220.97V422.34H217.06zM217.06 338.13H220.97V342.14H217.06zM217.06 322.09H220.97V326.10H217.06zM220.97 482.49H224.89V486.50H220.97zM220.97 454.42H224.89V458.43H220.97zM220.97 414.32H224.89V418.33H220.97zM220.97 298.03H224.89V302.04H220.97zM224.89 482.49H228.80V486.50H224.89zM224.89 474.47H228.80V478.48H224.89zM224.89 470.46H228.80V474.47H224.89zM224.89 466.45H228.80V470.46H224.89zM224.89 462.44H228.80V466.45H224.89zM224.89 442.39H228.80V446.40H224.89zM224.89 326.10H228.80V330.11H224.89zM224.89 294.02H228.80V298.03H224.89zM224.89 290.01H228.80V294.02H224.89zM228.80 434.37H232.72V438.38H228.80zM228.80 358.18H232.72V362.19H228.80zM228.80 314.07H232.72V318.08H228.80zM228.80 302.04H232.72V306.05H228.80zM228.80 290.01H232.72V294.02H228.80zM232.72 466.45H236.63V470.46H232.72zM232.72 438.38H236.63V442.39H232.72zM232.72 366.20H236.63V370.21H232.72zM232.72 310.06H236.63V314.07H232.72zM232.72 286.00H236.63V290.01H232.72zM236.63 482.49H240.54V486.50H236.63zM236.63 478.48H240.54V482.49H236.63zM236.63 474.47H240.54V478.48H236.63zM236.63 454.42H240.54V458.43H236.63zM236.63 438.38H240.54V442.39H236.63zM236.63 406.30H240.54V410.31H236.63zM236.63 402.29H240.54V406.30H236.63zM236.63 310.06H240.54V314.07H236.63zM236.63 298.03H240.54V302.04H236.63zM236.63 294.02H240.54V298.03H236.63zM236.63 290.01H240.54V294.02H236.63zM240.54 474.47H244.46V478.48H240.54zM240.54 462.44H244.46V466.45H240.54zM240.54 450.41H244.46V454.42H240.54zM240.54 426.35H244.46V430.36H240.54zM240.54 422.34H244.46V426.35H240.54zM240.54 414.32H244.46V418.33H240.54zM240.54 378.23H244.46V382.24H240.54zM240.54 354.17H244.46V358.18H240.54zM240.54 330.11H244.46V334.12H240.54zM240.54 326.10H244.46V330.11H240.54zM240.54 310.06H244.46V314.07H240.54zM240.54 302.04H244.46V306.05H240.54zM244.46 470.46H248.37V474.47H244.46zM244.46 458.43H248.37V462.44H244.46zM244.46 454.42H248.37V458.43H244.46zM244.46 450.41H248.37V454.42H244.46zM244.46 442.39H248.37V446.40H244.46zM244.46 434.37H248.37V438.38H244.46zM244.46 422.34H248.37V426.35H244.46zM244.46 418.33H248.37V422.34H244.46zM244.46 406.30H248.37V410.31H244.46zM244.46 390.26H248.37V394.27H244.46zM244.46 378.23H248.37V382.24H244.46zM244.46 374.22H248.37V378.23H244.46zM244.46 362.19H248.37V366.20H244.46zM244.46 310.06H248.37V314.07H244.46zM244.46 306.05H248.37V310.06H244.46zM244.46 286.00H248.37V290.01H244.46zM248.37 482.49H252.29V486.50H248.37zM248.37 462.44H252.29V466.45H248.37zM248.37 442.39H252.29V446.40H248.37zM248.37 434.37H252.29V438.38H248.37zM248.37 414.32H252.29V418.33H248.37zM248.37 406.30H252.29V410.31H248.37zM248.37 398.28H252.29V402.29H248.37zM248.37 374.22H252.29V378.23H248.37zM248.37 370.21H252.29V374.22H248.37zM248.37 330.11H252.29V334.12H248.37zM248.37 298.03H252.29V302.04H248.37zM252.29 478.48H256.20V482.49H252.29zM252.29 474.47H256.20V478.48H252.29zM252.29 470.46H256.20V474.47H252.29zM252.29 462.44H256.20V466.45H252.29zM252.29 450.41H256.20V454.42H252.29zM252.29 434.37H256.20V438.38H252.29zM252.29 374.22H256.20V378.23H252.29zM252.29 350.16H256.20V354.17H252.29zM252.29 346.15H256.20V350.16H252.29zM252.29 334.12H256.20V338.13H252.29zM252.29 310.06H256.20V314.07H252.29zM252.29 294.02H256.20V298.03H252.29z"/>
<path fill="#2c9cea" d="M60.50 466.45H64.41V470.46H60.50zM60.50 394.27H64.41V398.28H60.50zM60.50 354.17H64.41V358.18H60.50zM60.50 338.13H64.41V342.14H60.50zM60.50 326.10H64.41V330.11H60.50zM60.50 314.07H64.41V318.08H60.50zM64.41 450.41H68.33V454.42H64.41zM64.41 390.26H68.33V394.27H64.41zM64.41 386.25H68.33V390.26H64.41zM64.41 306.05H68.33V310.06H64.41zM68.33 466.45H72.24V470.46H68.33zM68.33 446.40H72.24V450.41H68.33zM68.33 438.38H72.24V442.39H68.33zM68.33 382.24H72.24V386.25H68.33zM68.33 346.15H72.24V350.16H68.33zM68.33 342.14H72.24V346.15H68.33zM68.33 322.09H72.24V326.10H68.33zM72.24 430.36H76.16V434.37H72.24zM72.24 422.34H76.16V426.35H72.24zM72.24 410.31H76.16V414.32H72.24zM72.24 398.28H76.16V402.29H72.24zM72.24 358.18H76.16V362.19H72.24zM76.16 434.37H80.07V438.38H76.16zM76.16 362.19H80.07V366.20H76.16zM76.16 354.17H80.07V358.18H76.16zM76.16 314.07H80.07V318.08H76.16zM80.07 450.41H83.98V454.42H80.07zM80.07 430.36H83.98V434.37H80.07zM80.07 390.26H83.98V394.27H80.07zM80.07 382.24H83.98V386.25H80.07zM80.07 378.23H83.98V382.24H80.07zM80.07 298.03H83.98V302.04H80.07zM83.98 478.48H87.90V482.49H83.98zM83.98 454.42H87.90V458.43H83.98zM83.98 422.34H87.90V426.35H83.98zM83.98 398.28H87.90V402.29H83.98zM83.98 382.24H87.90V386.25H83.98zM83.98 370.21H87.90V374.22H83.98zM83.98 346.15H87.90V350.16H83.98zM83.98 342.14H87.90V346.15H83.98zM87.90 414.32H91.81V418.33H87.90zM87.90 406.30H91.81V410.31H87.90zM87.90 398.28H91.81V402.29H87.90zM87.90 374.22H91.81V378.23H87.90zM87.90 338.13H91.81V342.14H87.90zM91.81 462.44H95.73V466.45H91.81zM91.81 434.37H95.73V438.38H91.81zM91.81 402.29H95.73V406.30H91.81zM91.81 346.15H95.73V350.16H91.81zM95.73 462.44H99.64V466.45H95.73zM95.73 434.37H99.64V438.38H95.73zM95.73 410.31H99.64V414.32H95.73zM95.73 394.27H99.64V398.28H95.73zM95.73 374.22H99.64V378.23H95.73zM95.73 342.14H99.64V346.15H95.73zM95.73 326.10H99.64V330.11H95.73zM95.73 310.06H99.64V314.07H95.73zM99.64 418.33H103.55V422.34H99.64zM99.64 350.16H103.55V354.17H99.64zM99.64 346.15H103.55V350.16H99.64zM99.64 294.02H103.55V298.03H99.64zM99.64 290.01H103.55V294.02H99.64zM103.55 446.40H107.47V450.41H103.55zM103.55 438.38H107.47V442.39H103.55zM103.55 362.19H107.47V366.20H103.55zM103.55 358.18H107.47V362.19H103.55zM103.55 354.17H107.47V358.18H103.55zM103.55 342.14H107.47V346.15H103.55zM103.55 290.01H107.47V294.02H103.55zM107.47 466.45H111.38V470.46H107.47zM107.47 418.33H111.38V422.34H107.47zM107.47 386.25H111.38V390.26H107.47zM107.47 354.17H111.38V358.18H107.47zM107.47 342.14H111.38V346.15H107.47zM111.38 454.42H115.30V458.43H111.38zM111.38 446.40H115.30V450.41H111.38zM111.38 390.26H115.30V394.27H111.38zM111.38 350.16H115.30V354.17H111.38zM111.38 298.03H115.30V302.04H111.38zM115.30 466.45H119.21V470.46H115.30zM115.30 454.42H119.21V458.43H115.30zM115.30 382.24H119.21V386.25H115.30zM115.30 338.13H119.21V342.14H115.30zM115.30 326.10H119.21V330.11H115.30zM115.30 314.07H119.21V318.08H115.30zM119.21 458.43H123.12V462.44H119.21zM119.21 450.41H123.12V454.42H119.21zM119.21 446.40H123.12V450.41H119.21zM119.21 442.39H123.12V446.40H119.21zM119.21 438.38H123.12V442.39H119.21zM119.21 434.37H123.12V438.38H119.21zM119.21 418.33H123.12V422.34H119.21zM119.21 390.26H123.12V394.27H119.21zM119.21 370.21H123.12V374.22H119.21zM119.21 334.12H123.12V338.13H119.21zM123.12 446.40H127.04V450.41H123.12zM123.12 430.36H127.04V434.37H123.12zM123.12 322.09H127.04V326.10H123.12zM123.12 302.04H127.04V306.05H123.12zM123.12 286.00H127.04V290.01H123.12zM127.04 434.37H130.95V438.38H127.04zM127.04 430.36H130.95V434.37H127.04zM127.04 418.33H130.95V422.34H127.04zM127.04 402.29H130.95V406.30H127.04zM127.04 346.15H130.95V350.16H127.04zM127.04 318.08H130.95V322.09H127.04zM130.95 474.47H134.87V478.48H130.95zM130.95 458.43H134.87V462.44H130.95zM130.95 438.38H134.87V442.39H130.95zM130.95 426.35H134.87V430.36H130.95zM130.95 366.20H134.87V370.21H130.95zM130.95 346.15H134.87V350.16H130.95zM130.95 338.13H134.87V342.14H130.95zM130.95 322.09H134.87V326.10H130.95zM134.87 462.44H138.78V466.45H134.87zM134.87 422.34H138.78V426.35H134.87zM134.87 382.24H138.78V386.25H134.87zM134.87 310.06H138.78V314.07H134.87zM134.87 298.03H138.78V302.04H134.87zM138.78 446.40H142.69V450.41H138.78zM138.78 442.39H142.69V446.40H138.78zM138.78 398.28H142.69V402.29H138.78zM138.78 342.14H142.69V346.15H138.78zM138.78 338.13H142.69V342.14H138.78zM138.78 314.07H142.69V318.08H138.78zM142.69 462.44H146.61V466.45H142.69zM142.69 446.40H146.61V450.41H142.69zM142.69 442.39H146.61V446.40H142.69zM142.69 430.36H146.61V434.37H142.69zM142.69 406.30H146.61V410.31H142.69zM142.69 390.26H146.61V394.27H142.69zM142.69 338.13H146.61V342.14H142.69zM142.69 302.04H146.61V306.05H142.69zM146.61 462.44H150.52V466.45H146.61zM146.61 434.37H150.52V438.38H146.61zM146.61 406.30H150.52V410.31H146.61zM146.61 394.27H150.52V398.28H146.61zM146.61 334.12H150.52V338.13H146.61zM146.61 330.11H150.52V334.12H146.61zM146.61 326.10H150.52V330.11H146.61zM146.61 310.06H150.52V314.07H146.61zM146.61 306.05H150.52V310.06H146.61zM146.61 294.02H150.52V298.03H146.61zM150.52 462.44H154.44V466.45H150.52zM150.52 402.29H154.44V406.30H150.52zM150.52 378.23H154.44V382.24H150.52zM150.52 306.05H154.44V310.06H150.52zM154.44 434.37H158.35V438.38H154.44zM154.44 402.29H158.35V406.30H154.44zM154.44 394.27H158.35V398.28H154.44zM154.44 390.26H158.35V394.27H154.44zM154.44 310.06H158.35V314.07H154.44zM158.35 410.31H162.26V414.32H158.35zM158.35 390.26H162.26V394.27H158.35zM158.35 342.14H162.26V346.15H158.35zM158.35 338.13H162.26V342.14H158.35zM158.35 326.10H162.26V330.11H158.35zM158.35 322.09H162.26V326.10H158.35zM162.26 466.45H166.18V470.46H162.26zM162.26 458.43H166.18V462.44H162.26zM162.26 446.40H166.18V450.41H162.26zM162.26 426.35H166.18V430.36H162.26zM162.26 422.34H166.18V426.35H162.26zM162.26 402.29H166.18V406.30H162.26zM162.26 394.27H166.18V398.28H162.26zM162.26 354.17H166.18V358.18H162.26zM162.26 350.16H166.18V354.17H162.26zM162.26 330.11H166.18V334.12H162.26zM162.26 318.08H166.18V322.09H162.26zM162.26 314.07H166.18V318.08H162.26zM166.18 466.45H170.09V470.46H166.18zM166.18 398.28H170.09V402.29H166.18zM166.18 338.13H170.09V342.14H166.18zM166.18 334.12H170.09V338.13H166.18zM166.18 310.06H170.09V314.07H166.18zM170.09 458.43H174.01V462.44H170.09zM170.09 446.40H174.01V450.41H170.09zM170.09 410.31H174.01V414.32H170.09zM170.09 394.27H174.01V398.28H170.09zM170.09 382.24H174.01V386.25H170.09zM170.09 378.23H174.01V382.24H170.09zM170.09 374.22H174.01V378.23H170.09zM170.09 362.19H174.01V366.20H170.09zM170.09 354.17H174.01V358.18H170.09zM170.09 306.05H174.01V310.06H170.09zM170.09 290.01H174.01V294.02H170.09zM174.01 402.29H177.92V406.30H174.01zM174.01 398.28H177.92V402.29H174.01zM174.01 362.19H177.92V366.20H174.01zM174.01 334.12H177.92V338.13H174.01zM174.01 310.06H177.92V314.07H174.01zM177.92 446.40H181.83V450.41H177.92zM177.92 386.25H181.83V390.26H177.92zM177.92 338.13H181.83V342.14H177.92zM177.92 330.11H181.83V334.12H177.92zM177.92 326.10H181.83V330.11H177.92zM177.92 322.09H181.83V326.10H177.92zM177.92 306.05H181.83V310.06H177.92zM181.83 466.45H185.75V470.46H181.83zM181.83 458.43H185.75V462.44H181.83zM181.83 434.37H185.75V438.38H181.83zM181.83 430.36H185.75V434.37H181.83zM181.83 422.34H185.75V426.35H181.83zM181.83 346.15H185.75V350.16H181.83zM181.83 330.11H185.75V334.12H181.83zM181.83 306.05H185.75V310.06H181.83zM181.83 302.04H185.75V306.05H181.83zM185.75 462.44H189.66V466.45H185.75zM185.75 446.40H189.66V450.41H185.75zM185.75 398.28H189.66V402.29H185.75zM185.75 306.05H189.66V310.06H185.75zM189.66 470.46H193.58V474.47H189.66zM189.66 454.42H193.58V458.43H189.66zM189.66 446.40H193.58V450.41H189.66zM189.66 418.33H193.58V422.34H189.66zM189.66 378.23H193.58V382.24H189.66zM189.66 362.19H193.58V366.20H189.66zM193.58 454.42H197.49V458.43H193.58zM193.58 450.41H197.49V454.42H193.58zM193.58 410.31H197.49V414.32H193.58zM193.58 326.10H197.49V330.11H193.58zM193.58 318.08H197.49V322.09H193.58zM193.58 306.05H197.49V310.06H193.58zM193.58 294.02H197.49V298.03H193.58zM197.49 442.39H201.40V446.40H197.49zM197.49 422.34H201.40V426.35H197.49zM197.49 398.28H201.40V402.29H197.49zM197.49 370.21H201.40V374.22H197.49zM197.49 366.20H201.40V370.21H197.49zM197.49 334.12H201.40V338.13H197.49zM197.49 326.10H201.40V330.11H197.49zM197.49 322.09H201.40V326.10H197.49zM197.49 306.05H201.40V310.06H197.49zM201.40 458.43H205.32V462.44H201.40zM201.40 422.34H205.32V426.35H201.40zM201.40 418.33H205.32V422.34H201.40zM201.40 398.28H205.32V402.29H201.40zM201.40 334.12H205.32V338.13H201.40zM201.40 326.10H205.32V330.11H201.40zM201.40 314.07H205.32V318.08H201.40zM205.32 462.44H209.23V466.45H205.32zM205.32 446.40H209.23V450.41H205.32zM205.32 442.39H209.23V446.40H205.32zM205.32 406.30H209.23V410.31H205.32zM205.32 394.27H209.23V398.28H205.32zM205.32 378.23H209.23V382.24H205.32zM205.32 354.17H209.23V358.18H205.32zM209.23 442.39H213.15V446.40H209.23zM209.23 418.33H213.15V422.34H209.23zM209.23 374.22H213.15V378.23H209.23zM209.23 370.21H213.15V374.22H209.23zM209.23 334.12H213.15V338.13H209.23zM209.23 314.07H213.15V318.08H209.23zM209.23 310.06H213.15V314.07H209.23zM209.23 302.04H213.15V306.05H209.23zM213.15 434.37H217.06V438.38H213.15zM213.15 362.19H217.06V366.20H213.15zM213.15 346.15H217.06V350.16H213.15zM213.15 334.12H217.06V338.13H213.15zM213.15 322.09H217.06V326.10H213.15zM213.15 310.06H217.06V314.07H213.15zM217.06 446.40H220.97V450.41H217.06zM217.06 422.34H220.97V426.35H217.06zM217.06 410.31H220.97V414.32H217.06zM217.06 402.29H220.97V406.30H217.06zM217.06 394.27H220.97V398.28H217.06zM217.06 390.26H220.97V394.27H217.06zM217.06 350.16H220.97V354.17H217.06zM217.06 302.04H220.97V306.05H217.06zM220.97 458.43H224.89V462.44H220.97zM220.97 450.41H224.89V454.42H220.97zM220.97 446.40H224.89V450.41H220.97zM220.97 390.26H224.89V394.27H220.97zM220.97 318.08H224.89V322.09H220.97zM220.97 302.04H224.89V306.05H220.97zM220.97 294.02H224.89V298.03H220.97zM224.89 430.36H228.80V434.37H224.89zM224.89 410.31H228.80V414.32H224.89zM224.89 398.28H228.80V402.29H224.89zM224.89 378.23H228.80V382.24H224.89zM224.89 366.20H228.80V370.21H224.89zM224.89 346.15H228.80V350.16H224.89zM224.89 330.11H228.80V334.12H224.89zM224.89 318.08H228.80V322.09H224.89zM224.89 310.06H228.80V314.07H224.89zM224.89 302.04H228.80V306.05H224.89zM228.80 454.42H232.72V458.43H228.80zM228.80 438.38H232.72V442.39H228.80zM228.80 426.35H232.72V430.36H228.80zM228.80 406.30H232.72V410.31H228.80zM228.80 366.20H232.72V370.21H228.80zM228.80 338.13H232.72V342.14H228.80zM228.80 326.10H232.72V330.11H228.80zM228.80 322.09H232.72V326.10H228.80zM228.80 306.05H232.72V310.06H228.80zM232.72 430.36H236.63V434.37H232.72zM232.72 386.25H236.63V390.26H232.72zM232.72 374.22H236.63V378.23H232.72zM232.72 362.19H236.63V366.20H232.72zM232.72 358.18H236.63V362.19H232.72zM232.72 354.17H236.63V358.18H232.72zM232.72 346.15H236.63V350.16H232.72zM232.72 334.12H236.63V338.13H232.72zM232.72 294.02H236.63V298.03H232.72zM236.63 466.45H240.54V470.46H236.63zM236.63 450.41H240.54V454.42H236.63zM236.63 390.26H240.54V394.27H236.63zM236.63 346.15H240.54V350.16H236.63zM236.63 322.09H240.54V326.10H236.63zM236.63 306.05H240.54V310.06H236.63zM236.63 302.04H240.54V306.05H236.63zM236.63 286.00H240.54V290.01H236.63zM240.54 470.46H244.46V474.47H240.54zM240.54 338.13H244.46V342.14H240.54zM240.54 322.09H244.46V326.10H240.54zM240.54 318.08H244.46V322.09H240.54zM244.46 398.28H248.37V402.29H244.46zM244.46 350.16H248.37V354.17H244.46zM244.46 334.12H248.37V338.13H244.46zM244.46 318.08H248.37V322.09H244.46zM244.46 314.07H248.37V318.08H244.46zM248.37 418.33H252.29V422.34H248.37zM248.37 378.23H252.29V382.24H248.37zM248.37 350.16H252.29V354.17H248.37zM248.37 334.12H252.29V338.13H248.37zM248.37 322.09H252.29V326.10H248.37zM252.29 378.23H256.20V382.24H252.29zM252.29 342.14H256.20V346.15H252.29z"/>
<path fill="#70b3f4" d="M60.50 446.40H64.41V450.41H60.50zM60.50 422.34H64.41V426.35H60.50zM60.50 374.22H64.41V378.23H60.50zM60.50 362.19H64.41V366.20H60.50zM60.50 322.09H64.41V326.10H60.50zM60.50 310.06H64.41V314.07H60.50zM60.50 306.05H64.41V310.06H60.50zM60.50 302.04H64.41V306.05H60.50zM60.50 294.02H64.41V298.03H60.50zM60.50 286.00H64.41V290.01H60.50zM64.41 470.46H68.33V474.47H64.41zM64.41 462.44H68.33V466.45H64.41zM64.41 454.42H68.33V458.43H64.41zM64.41 446.40H68.33V450.41H64.41zM64.41 438.38H68.33V442.39H64.41zM64.41 362.19H68.33V366.20H64.41zM64.41 350.16H68.33V354.17H64.41zM64.41 330.11H68.33V334.12H64.41zM64.41 326.10H68.33V330.11H64.41zM64.41 322.09H68.33V326.10H64.41zM64.41 310.06H68.33V314.07H64.41zM64.41 302.04H68.33V306.05H64.41zM64.41 298.03H68.33V302.04H64.41zM64.41 286.00H68.33V290.01H64.41zM68.33 474.47H72.24V478.48H68.33zM68.33 454.42H72.24V458.43H68.33zM68.33 434.37H72.24V438.38H68.33zM68.33 426.35H72.24V430.36H68.33zM68.33 422.34H72.24V426.35H68.33zM68.33 406.30H72.24V410.31H68.33zM68.33 398.28H72.24V402.29H68.33zM68.33 394.27H72.24V398.28H68.33zM68.33 314.07H72.24V318.08H68.33zM68.33 310.06H72.24V314.07H68.33zM72.24 450.41H76.16V454.42H72.24zM72.24 402.29H76.16V406.30H72.24zM72.24 382.24H76.16V386.25H72.24zM72.24 370.21H76.16V374.22H72.24zM72.24 306.05H76.16V310.06H72.24zM72.24 294.02H76.16V298.03H72.24zM76.16 474.47H80.07V478.48H76.16zM76.16 470.46H80.07V474.47H76.16zM76.16 466.45H80.07V470.46H76.16zM76.16 454.42H80.07V458.43H76.16zM76.16 414.32H80.07V418.33H76.16zM76.16 410.31H80.07V414.32H76.16zM76.16 390.26H80.07V394.27H76.16zM76.16 378.23H80.07V382.24H76.16zM76.16 374.22H80.07V378.23H76.16zM76.16 370.21H80.07V374.22H76.16zM76.16 330.11H80.07V334.12H76.16zM76.16 302.04H80.07V306.05H76.16zM76.16 298.03H80.07V302.04H76.16zM76.16 286.00H80.07V290.01H76.16zM80.07 458.43H83.98V462.44H80.07zM80.07 414.32H83.98V418.33H80.07zM80.07 402.29H83.98V406.30H80.07zM80.07 374.22H83.98V378.23H80.07zM80.07 342.14H83.98V346.15H80.07zM80.07 338.13H83.98V342.14H80.07zM80.07 326.10H83.98V330.11H80.07zM80.07 290.01H83.98V294.02H80.07zM80.07 286.00H83.98V290.01H80.07zM83.98 458.43H87.90V462.44H83.98zM83.98 442.39H87.90V446.40H83.98zM83.98 430.36H87.90V434.37H83.98zM83.98 426.35H87.90V430.36H83.98zM83.98 350.16H87.90V354.17H83.98zM83.98 314.07H87.90V318.08H83.98zM83.98 302.04H87.90V306.05H83.98zM87.90 474.47H91.81V478.48H87.90zM87.90 466.45H91.81V470.46H87.90zM87.90 462.44H91.81V466.45H87.90zM87.90 370.21H91.81V374.22H87.90zM87.90 318.08H91.81V322.09H87.90zM91.81 446.40H95.73V450.41H91.81zM91.81 422.34H95.73V426.35H91.81zM91.81 406.30H95.73V410.31H91.81zM91.81 390.26H95.73V394.27H91.81zM91.81 374.22H95.73V378.23H91.81zM91.81 370.21H95.73V374.22H91.81zM91.81 358.18H95.73V362.19H91.81zM91.81 306.05H95.73V310.06H91.81zM91.81 302.04H95.73V306.05H91.81zM95.73 482.49H99.64V486.50H95.73zM95.73 454.42H99.64V458.43H95.73zM95.73 450.41H99.64V454.42H95.73zM95.73 446.40H99.64V450.41H95.73zM95.73 422.34H99.64V426.35H95.73zM95.73 338.13H99.64V342.14H95.73zM95.73 314.07H99.64V318.08H95.73zM95.73 302.04H99.64V306.05H95.73zM95.73 286.00H99.64V290.01H95.73zM99.64 458.43H103.55V462.44H99.64zM99.64 398.28H103.55V402.29H99.64zM99.64 390.26H103.55V394.27H99.64zM99.64 362.19H103.55V366.20H99.64zM99.64 358.18H103.55V362.19H99.64zM99.64 338.13H103.55V342.14H99.64zM99.64 330.11H103.55V334.12H99.64zM99.64 306.05H103.55V310.06H99.64zM99.64 286.00H103.55V290.01H99.64zM103.55 478.48H107.47V482.49H103.55zM103.55 458.43H107.47V462.44H103.55zM103.55 434.37H107.47V438.38H103.55zM103.55 418.33H107.47V422.34H103.55zM103.55 370.21H107.47V374.22H103.55zM103.55 318.08H107.47V322.09H103.55zM103.55 306.05H107.47V310.06H103.55zM103.55 294.02H107.47V298.03H103.55zM107.47 478.48H111.38V482.49H107.47zM107.47 414.32H111.38V418.33H107.47zM107.47 390.26H111.38V394.27H107.47zM107.47 378.23H111.38V382.24H107.47zM107.47 326.10H111.38V330.11H107.47zM107.47 318.08H111.38V322.09H107.47zM107.47 290.01H111.38V294.02H107.47zM111.38 478.48H115.30V482.49H111.38zM111.38 474.47H115.30V478.48H111.38zM111.38 470.46H115.30V474.47H111.38zM111.38 466.45H115.30V470.46H111.38zM111.38 378.23H115.30V382.24H111.38zM111.38 362.19H115.30V366.20H111.38zM111.38 346.15H115.30V350.16H111.38zM111.38 322.09H115.30V326.10H111.38zM111.38 302.04H115.30V306.05H111.38zM111.38 294.02H115.30V298.03H111.38zM115.30 474.47H119.21V478.48H115.30zM115.30 462.44H119.21V466.45H115.30zM115.30 458.43H119.21V462.44H115.30zM115.30 450.41H119.21V454.42H115.30zM115.30 370.21H119.21V374.22H115.30zM115.30 298.03H119.21V302.04H115.30zM115.30 294.02H119.21V298.03H115.30zM119.21 482.49H123.12V486.50H119.21zM119.21 470.46H123.12V474.47H119.21zM119.21 466.45H123.12V470.46H119.21zM119.21 378.23H123.12V382.24H119.21zM119.21 322.09H123.12V326.10H119.21zM119.21 318.08H123.12V322.09H119.21zM123.12 362.19H127.04V366.20H123.12zM123.12 314.07H127.04V318.08H123.12zM123.12 310.06H127.04V314.07H123.12zM123.12 294.02H127.04V298.03H123.12zM127.04 470.46H130.95V474.47H127.04zM127.04 438.38H130.95V442.39H127.04zM127.04 338.13H130.95V342.14H127.04zM127.04 298.03H130.95V302.04H127.04zM127.04 294.02H130.95V298.03H127.04zM127.04 286.00H130.95V290.01H127.04zM130.95 470.46H134.87V474.47H130.95zM130.95 446.40H134.87V450.41H130.95zM130.95 414.32H134.87V418.33H130.95zM130.95 410.31H134.87V414.32H130.95zM130.95 314.07H134.87V318.08H130.95zM130.95 310.06H134.87V314.07H130.95zM134.87 470.46H138.78V474.47H134.87zM134.87 458.43H138.78V462.44H134.87zM134.87 406.30H138.78V410.31H134.87zM134.87 398.28H138.78V402.29H134.87zM134.87 342.14H138.78V346.15H134.87zM138.78 470.46H142.69V474.47H138.78zM138.78 466.45H142.69V470.46H138.78zM138.78 458.43H142.69V462.44H138.78zM138.78 350.16H142.69V354.17H138.78zM138.78 310.06H142.69V314.07H138.78zM138.78 298.03H142.69V302.04H138.78zM142.69 470.46H146.61V474.47H142.69zM142.69 466.45H146.61V470.46H142.69zM142.69 458.43H146.61V462.44H142.69zM142.69 410.31H146.61V414.32H142.69zM142.69 310.06H146.61V314.07H142.69zM146.61 478.48H150.52V482.49H146.61zM146.61 474.47H150.52V478.48H146.61zM146.61 470.46H150.52V474.47H146.61zM146.61 430.36H150.52V434.37H146.61zM146.61 410.31H150.52V414.32H146.61zM146.61 318.08H150.52V322.09H146.61zM146.61 302.04H150.52V306.05H146.61zM150.52 470.46H154.44V474.47H150.52zM150.52 450.41H154.44V454.42H150.52zM150.52 342.14H154.44V346.15H150.52zM154.44 478.48H158.35V482.49H154.44zM154.44 466.45H158.35V470.46H154.44zM154.44 458.43H158.35V462.44H154.44zM154.44 450.41H158.35V454.42H154.44zM154.44 446.40H158.35V450.41H154.44zM154.44 290.01H158.35V294.02H154.44zM158.35 470.46H162.26V474.47H158.35zM158.35 334.12H162.26V338.13H158.35zM158.35 330.11H162.26V334.12H158.35zM158.35 306.05H162.26V310.06H158.35zM158.35 298.03H162.26V302.04H158.35zM158.35 290.01H162.26V294.02H158.35zM158.35 286.00H162.26V290.01H158.35zM162.26 474.47H166.18V478.48H162.26zM162.26 462.44H166.18V466.45H162.26zM162.26 310.06H166.18V314.07H162.26zM162.26 302.04H166.18V306.05H162.26zM162.26 298.03H166.18V302.04H162.26zM162.26 290.01H166.18V294.02H162.26zM166.18 478.48H170.09V482.49H166.18zM166.18 458.43H170.09V462.44H166.18zM166.18 318.08H170.09V322.09H166.18zM170.09 454.42H174.01V458.43H170.09zM170.09 430.36H174.01V434.37H170.09zM170.09 426.35H174.01V430.36H170.09zM170.09 294.02H174.01V298.03H170.09zM174.01 482.49H177.92V486.50H174.01zM174.01 454.42H177.92V458.43H174.01zM174.01 434.37H177.92V438.38H174.01zM174.01 306.05H177.92V310.06H174.01zM174.01 302.04H177.92V306.05H174.01zM174.01 286.00H177.92V290.01H174.01zM177.92 482.49H181.83V486.50H177.92zM177.92 466.45H181.83V470.46H177.92zM177.92 458.43H181.83V462.44H177.92zM177.92 430.36H181.83V434.37H177.92zM177.92 422.34H181.83V426.35H177.92zM177.92 294.02H181.83V298.03H177.92zM181.83 470.46H185.75V474.47H181.83zM181.83 462.44H185.75V466.45H181.83zM181.83 446.40H185.75V450.41H181.83zM181.83 374.22H185.75V378.23H181.83zM181.83 310.06H185.75V314.07H181.83zM181.83 294.02H185.75V298.03H181.83zM181.83 286.00H185.75V290.01H181.83zM185.75 478.48H189.66V482.49H185.75zM185.75 458.43H189.66V462.44H185.75zM185.75 454.42H189.66V458.43H185.75zM185.75 410.31H189.66V414.32H185.75zM185.75 314.07H189.66V318.08H185.75zM185.75 290.01H189.66V294.02H185.75zM189.66 466.45H193.58V470.46H189.66zM189.66 458.43H193.58V462.44H189.66zM189.66 422.34H193.58V426.35H189.66zM189.66 410.31H193.58V414.32H189.66zM189.66 314.07H193.58V318.08H189.66zM189.66 310.06H193.58V314.07H189.66zM189.66 294.02H193.58V298.03H189.66zM193.58 462.44H197.49V466.45H193.58zM193.58 458.43H197.49V462.44H193.58zM193.58 446.40H197.49V450.41H193.58zM193.58 426.35H197.49V430.36H193.58zM193.58 418.33H197.49V422.34H193.58zM193.58 398.28H197.49V402.29H193.58zM193.58 378.23H197.49V382.24H193.58zM193.58 354.17H197.49V358.18H193.58zM193.58 350.16H197.49V354.17H193.58zM193.58 290.01H197.49V294.02H193.58zM193.58 286.00H197.49V290.01H193.58zM197.49 454.42H201.40V458.43H197.49zM197.49 330.11H201.40V334.12H197.49zM197.49 310.06H201.40V314.07H197.49zM197.49 298.03H201.40V302.04H197.49zM197.49 294.02H201.40V298.03H197.49zM201.40 482.49H205.32V486.50H201.40zM201.40 474.47H205.32V478.48H201.40zM201.40 466.45H205.32V470.46H201.40zM201.40 462.44H205.32V466.45H201.40zM201.40 310.06H205.32V314.07H201.40zM201.40 290.01H205.32V294.02H201.40zM205.32 482.49H209.23V486.50H205.32zM205.32 478.48H209.23V482.49H205.32zM205.32 470.46H209.23V474.47H205.32zM205.32 466.45H209.23V470.46H205.32zM205.32 438.38H209.23V442.39H205.32zM205.32 426.35H209.23V430.36H205.32zM205.32 410.31H209.23V414.32H205.32zM205.32 310.06H209.23V314.07H205.32zM205.32 294.02H209.23V298.03H205.32zM205.32 290.01H209.23V294.02H205.32zM209.23 478.48H213.15V482.49H209.23zM209.23 474.47H213.15V478.48H209.23zM209.23 466.45H213.15V470.46H209.23zM209.23 458.43H213.15V462.44H209.23zM209.23 446.40H213.15V450.41H209.23zM209.23 434.37H213.15V438.38H209.23zM209.23 402.29H213.15V406.30H209.23zM209.23 298.03H213.15V302.04H209.23zM209.23 290.01H213.15V294.02H209.23zM213.15 478.48H217.06V482.49H213.15zM213.15 454.42H217.06V458.43H213.15zM213.15 438.38H217.06V442.39H213.15zM213.15 426.35H217.06V430.36H213.15zM213.15 342.14H217.06V346.15H213.15zM213.15 290.01H217.06V294.02H213.15zM213.15 286.00H217.06V290.01H213.15zM217.06 482.49H220.97V486.50H217.06zM217.06 470.46H220.97V474.47H217.06zM217.06 454.42H220.97V458.43H217.06zM217.06 398.28H220.97V402.29H217.06zM217.06 354.17H220.97V358.18H217.06zM217.06 326.10H220.97V330.11H217.06zM217.06 298.03H220.97V302.04H217.06zM217.06 286.00H220.97V290.01H217.06zM220.97 478.48H224.89V482.49H220.97zM220.97 474.47H224.89V478.48H220.97zM220.97 426.35H224.89V430.36H220.97zM220.97 386.25H224.89V390.26H220.97zM220.97 374.22H224.89V378.23H220.97zM220.97 342.14H224.89V346.15H220.97zM220.97 322.09H224.89V326.10H220.97zM220.97 314.07H224.89V318.08H220.97zM224.89 458.43H228.80V462.44H224.89zM224.89 454.42H228.80V458.43H224.89zM224.89 446.40H228.80V450.41H224.89zM224.89 438.38H228.80V442.39H224.89zM224.89 338.13H228.80V342.14H224.89zM224.89 298.03H228.80V302.04H224.89zM224.89 286.00H228.80V290.01H224.89zM228.80 474.47H232.72V478.48H228.80zM228.80 382.24H232.72V386.25H228.80zM228.80 346.15H232.72V350.16H228.80zM228.80 334.12H232.72V338.13H228.80zM228.80 286.00H232.72V290.01H228.80zM232.72 478.48H236.63V482.49H232.72zM232.72 474.47H236.63V478.48H232.72zM232.72 470.46H236.63V474.47H232.72zM232.72 450.41H236.63V454.42H232.72zM232.72 406.30H236.63V410.31H232.72zM232.72 394.27H236.63V398.28H232.72zM232.72 378.23H236.63V382.24H232.72zM232.72 302.04H236.63V306.05H232.72zM232.72 298.03H236.63V302.04H232.72zM236.63 470.46H240.54V474.47H236.63zM236.63 458.43H240.54V462.44H236.63zM236.63 442.39H240.54V446.40H236.63zM236.63 426.35H240.54V430.36H236.63zM236.63 362.19H240.54V366.20H236.63zM236.63 338.13H240.54V342.14H236.63zM240.54 482.49H244.46V486.50H240.54zM240.54 478.48H244.46V482.49H240.54zM240.54 454.42H244.46V458.43H240.54zM240.54 438.38H244.46V442.39H240.54zM240.54 434.37H244.46V438.38H240.54zM240.54 410.31H244.46V414.32H240.54zM240.54 402.29H244.46V406.30H240.54zM240.54 358.18H244.46V362.19H240.54zM240.54 306.05H244.46V310.06H240.54zM244.46 482.49H248.37V486.50H244.46zM244.46 474.47H248.37V478.48H244.46zM244.46 466.45H248.37V470.46H244.46zM244.46 446.40H248.37V450.41H244.46zM244.46 430.36H248.37V434.37H244.46zM244.46 414.32H248.37V418.33H244.46zM244.46 410.31H248.37V414.32H244.46zM244.46 382.24H248.37V386.25H244.46zM244.46 370.21H248.37V374.22H244.46zM244.46 358.18H248.37V362.19H244.46zM244.46 346.15H248.37V350.16H244.46zM244.46 338.13H248.37V342.14H244.46zM244.46 326.10H248.37V330.11H244.46zM244.46 322.09H248.37V326.10H244.46zM244.46 302.04H248.37V306.05H244.46zM244.46 294.02H248.37V298.03H244.46zM244.46 290.01H248.37V294.02H244.46zM248.37 458.43H252.29V462.44H248.37zM248.37 454.42H252.29V458.43H248.37zM248.37 446.40H252.29V450.41H248.37zM248.37 426.35H252.29V430.36H248.37zM248.37 410.31H252.29V414.32H248.37zM248.37 402.29H252.29V406.30H248.37zM248.37 390.26H252.29V394.27H248.37zM248.37 382.24H252.29V386.25H248.37zM248.37 366.20H252.29V370.21H248.37zM248.37 362.19H252.29V366.20H248.37zM248.37 358.18H252.29V362.19H248.37zM248.37 354.17H252.29V358.18H248.37zM248.37 346.15H252.29V350.16H248.37zM248.37 326.10H252.29V330.11H248.37zM248.37 310.06H252.29V314.07H248.37zM248.37 302.04H252.29V306.05H248.37zM248.37 290.01H252.29V294.02H248.37zM248.37 286.00H252.29V290.01H248.37zM252.29 458.43H256.20V462.44H252.29zM252.29 446.40H256.20V450.41H252.29zM252.29 438.38H256.20V442.39H252.29zM252.29 418.33H256.20V422.34H252.29zM252.29 406.30H256.20V410.31H252.29zM252.29 402.29H256.20V406.30H252.29zM252.29 382.24H256.20V386.25H252.29zM252.29 358.18H256.20V362.19H252.29zM252.29 306.05H256.20V310.06H252.29zM252.29 302.04H256.20V306.05H252.29z"/>
<path fill="#43a8f7" d="M60.50 442.39H64.41V446.40H60.50zM60.50 438.38H64.41V442.39H60.50zM60.50 414.32H64.41V418.33H60.50zM60.50 410.31H64.41V414.32H60.50zM60.50 318.08H64.41V322.09H60.50zM64.41 466.45H68.33V470.46H64.41zM64.41 410.31H68.33V414.32H64.41zM64.41 402.29H68.33V406.30H64.41zM64.41 382.24H68.33V386.25H64.41zM64.41 342.14H68.33V346.15H64.41zM64.41 338.13H68.33V342.14H64.41zM64.41 334.12H68.33V338.13H64.41zM64.41 318.08H68.33V322.09H64.41zM64.41 314.07H68.33V318.08H64.41zM64.41 294.02H68.33V298.03H64.41zM68.33 462.44H72.24V466.45H68.33zM68.33 386.25H72.24V390.26H68.33zM68.33 378.23H72.24V382.24H68.33zM68.33 374.22H72.24V378.23H68.33zM68.33 362.19H72.24V366.20H68.33zM68.33 354.17H72.24V358.18H68.33zM68.33 334.12H72.24V338.13H68.33zM68.33 326.10H72.24V330.11H68.33zM68.33 318.08H72.24V322.09H68.33zM72.24 454.42H76.16V458.43H72.24zM72.24 434.37H76.16V438.38H72.24zM72.24 426.35H76.16V430.36H72.24zM72.24 418.33H76.16V422.34H72.24zM72.24 406.30H76.16V410.31H72.24zM72.24 390.26H76.16V394.27H72.24zM72.24 342.14H76.16V346.15H72.24zM72.24 338.13H76.16V342.14H72.24zM72.24 322.09H76.16V326.10H72.24zM72.24 314.07H76.16V318.08H72.24zM72.24 310.06H76.16V314.07H72.24zM72.24 290.01H76.16V294.02H72.24zM76.16 446.40H80.07V450.41H76.16zM76.16 430.36H80.07V434.37H76.16zM76.16 402.29H80.07V406.30H76.16zM76.16 366.20H80.07V370.21H76.16zM76.16 346.15H80.07V350.16H76.16zM76.16 338.13H80.07V342.14H76.16zM76.16 326.10H80.07V330.11H76.16zM76.16 318.08H80.07V322.09H76.16zM76.16 306.05H80.07V310.06H76.16zM76.16 290.01H80.07V294.02H76.16zM80.07 466.45H83.98V470.46H80.07zM80.07 422.34H83.98V426.35H80.07zM80.07 406.30H83.98V410.31H80.07zM80.07 362.19H83.98V366.20H80.07zM80.07 354.17H83.98V358.18H80.07zM80.07 334.12H83.98V338.13H80.07zM80.07 318.08H83.98V322.09H80.07zM80.07 306.05H83.98V310.06H80.07zM83.98 438.38H87.90V442.39H83.98zM83.98 410.31H87.90V414.32H83.98zM83.98 406.30H87.90V410.31H83.98zM83.98 394.27H87.90V398.28H83.98zM83.98 362.19H87.90V366.20H83.98zM83.98 358.18H87.90V362.19H83.98zM83.98 334.12H87.90V338.13H83.98zM83.98 322.09H87.90V326.10H83.98zM83.98 318.08H87.90V322.09H83.98zM83.98 310.06H87.90V314.07H83.98zM83.98 294.02H87.90V298.03H83.98zM87.90 470.46H91.81V474.47H87.90zM87.90 446.40H91.81V450.41H87.90zM87.90 426.35H91.81V430.36H87.90zM87.90 422.34H91.81V426.35H87.90zM87.90 402.29H91.81V406.30H87.90zM87.90 314.07H91.81V318.08H87.90zM91.81 470.46H95.73V474.47H91.81zM91.81 450.41H95.73V454.42H91.81zM91.81 426.35H95.73V430.36H91.81zM91.81 418.33H95.73V422.34H91.81zM91.81 394.27H95.73V398.28H91.81zM91.81 386.25H95.73V390.26H91.81zM91.81 354.17H95.73V358.18H91.81zM91.81 350.16H95.73V354.17H91.81zM95.73 470.46H99.64V474.47H95.73zM95.73 466.45H99.64V470.46H95.73zM95.73 414.32H99.64V418.33H95.73zM95.73 398.28H99.64V402.29H95.73zM99.64 462.44H103.55V466.45H99.64zM99.64 454.42H103.55V458.43H99.64zM99.64 426.35H103.55V430.36H99.64zM99.64 394.27H103.55V398.28H99.64zM99.64 326.10H103.55V330.11H99.64zM99.64 322.09H103.55V326.10H99.64zM99.64 302.04H103.55V306.05H99.64zM103.55 426.35H107.47V430.36H103.55zM103.55 394.27H107.47V398.28H103.55zM103.55 382.24H107.47V386.25H103.55zM103.55 350.16H107.47V354.17H103.55zM103.55 302.04H107.47V306.05H103.55zM103.55 298.03H107.47V302.04H103.55zM107.47 458.43H111.38V462.44H107.47zM107.47 450.41H111.38V454.42H107.47zM107.47 442.39H111.38V446.40H107.47zM107.47 438.38H111.38V442.39H107.47zM107.47 334.12H111.38V338.13H107.47zM107.47 298.03H111.38V302.04H107.47zM107.47 294.02H111.38V298.03H107.47zM111.38 442.39H115.30V446.40H111.38zM111.38 426.35H115.30V430.36H111.38zM111.38 422.34H115.30V426.35H111.38zM111.38 374.22H115.30V378.23H111.38zM111.38 330.11H115.30V334.12H111.38zM111.38 318.08H115.30V322.09H111.38zM111.38 310.06H115.30V314.07H111.38zM111.38 306.05H115.30V310.06H111.38zM115.30 406.30H119.21V410.31H115.30zM115.30 362.19H119.21V366.20H115.30zM115.30 318.08H119.21V322.09H115.30zM115.30 302.04H119.21V306.05H115.30zM119.21 430.36H123.12V434.37H119.21zM119.21 426.35H123.12V430.36H119.21zM119.21 326.10H123.12V330.11H119.21zM119.21 314.07H123.12V318.08H119.21zM119.21 298.03H123.12V302.04H119.21zM123.12 470.46H127.04V474.47H123.12zM123.12 454.42H127.04V458.43H123.12zM123.12 442.39H127.04V446.40H123.12zM123.12 422.34H127.04V426.35H123.12zM123.12 410.31H127.04V414.32H123.12zM123.12 402.29H127.04V406.30H123.12zM123.12 342.14H127.04V346.15H123.12zM123.12 306.05H127.04V310.06H123.12zM127.04 450.41H130.95V454.42H127.04zM127.04 446.40H130.95V450.41H127.04zM127.04 410.31H130.95V414.32H127.04zM127.04 398.28H130.95V402.29H127.04zM127.04 386.25H130.95V390.26H127.04zM127.04 374.22H130.95V378.23H127.04zM127.04 358.18H130.95V362.19H127.04zM130.95 466.45H134.87V470.46H130.95zM130.95 454.42H134.87V458.43H130.95zM130.95 430.36H134.87V434.37H130.95zM130.95 354.17H134.87V358.18H130.95zM130.95 330.11H134.87V334.12H130.95zM130.95 318.08H134.87V322.09H130.95zM130.95 298.03H134.87V302.04H130.95zM130.95 290.01H134.87V294.02H130.95zM134.87 466.45H138.78V470.46H134.87zM134.87 430.36H138.78V434.37H134.87zM134.87 370.21H138.78V374.22H134.87zM134.87 330.11H138.78V334.12H134.87zM134.87 318.08H138.78V322.09H134.87zM134.87 286.00H138.78V290.01H134.87zM138.78 454.42H142.69V458.43H138.78zM138.78 414.32H142.69V418.33H138.78zM138.78 402.29H142.69V406.30H138.78zM138.78 382.24H142.69V386.25H138.78zM138.78 378.23H142.69V382.24H138.78zM138.78 330.11H142.69V334.12H138.78zM138.78 322.09H142.69V326.10H138.78zM142.69 438.38H146.61V442.39H142.69zM142.69 394.27H146.61V398.28H142.69zM142.69 294.02H146.61V298.03H142.69zM142.69 290.01H146.61V294.02H142.69zM142.69 286.00H146.61V290.01H142.69zM146.61 454.42H150.52V458.43H146.61zM146.61 450.41H150.52V454.42H146.61zM146.61 438.38H150.52V442.39H146.61zM146.61 366.20H150.52V370.21H146.61zM150.52 414.32H154.44V418.33H150.52zM150.52 334.12H154.44V338.13H150.52zM150.52 314.07H154.44V318.08H150.52zM150.52 302.04H154.44V306.05H150.52zM150.52 298.03H154.44V302.04H150.52zM150.52 290.01H154.44V294.02H150.52zM154.44 474.47H158.35V478.48H154.44zM154.44 462.44H158.35V466.45H154.44zM154.44 442.39H158.35V446.40H154.44zM154.44 438.38H158.35V442.39H154.44zM154.44 430.36H158.35V434.37H154.44zM154.44 426.35H158.35V430.36H154.44zM154.44 326.10H158.35V330.11H154.44zM154.44 322.09H158.35V326.10H154.44zM154.44 306.05H158.35V310.06H154.44zM154.44 294.02H158.35V298.03H154.44zM158.35 466.45H162.26V470.46H158.35zM158.35 462.44H162.26V466.45H158.35zM158.35 438.38H162.26V442.39H158.35zM158.35 434.37H162.26V438.38H158.35zM158.35 302.04H162.26V306.05H158.35zM166.18 470.46H170.09V474.47H166.18zM166.18 462.44H170.09V466.45H166.18zM166.18 450.41H170.09V454.42H166.18zM166.18 430.36H170.09V434.37H166.18zM166.18 418.33H170.09V422.34H166.18zM166.18 406.30H170.09V410.31H166.18zM166.18 378.23H170.09V382.24H166.18zM166.18 350.16H170.09V354.17H166.18zM166.18 306.05H170.09V310.06H166.18zM166.18 298.03H170.09V302.04H166.18zM170.09 470.46H174.01V474.47H170.09zM170.09 438.38H174.01V442.39H170.09zM170.09 310.06H174.01V314.07H170.09zM170.09 302.04H174.01V306.05H170.09zM174.01 474.47H177.92V478.48H174.01zM174.01 430.36H177.92V434.37H174.01zM174.01 410.31H177.92V414.32H174.01zM174.01 314.07H177.92V318.08H174.01zM177.92 470.46H181.83V474.47H177.92zM177.92 462.44H181.83V466.45H177.92zM177.92 442.39H181.83V446.40H177.92zM177.92 426.35H181.83V430.36H177.92zM177.92 378.23H181.83V382.24H177.92zM177.92 362.19H181.83V366.20H177.92zM177.92 302.04H181.83V306.05H177.92zM177.92 298.03H181.83V302.04H177.92zM181.83 450.41H185.75V454.42H181.83zM181.83 390.26H185.75V394.27H181.83zM181.83 338.13H185.75V342.14H181.83zM181.83 298.03H185.75V302.04H181.83zM185.75 474.47H189.66V478.48H185.75zM185.75 466.45H189.66V470.46H185.75zM185.75 362.19H189.66V366.20H185.75zM185.75 338.13H189.66V342.14H185.75zM185.75 334.12H189.66V338.13H185.75zM185.75 322.09H189.66V326.10H185.75zM185.75 310.06H189.66V314.07H185.75zM185.75 298.03H189.66V302.04H185.75zM185.75 294.02H189.66V298.03H185.75zM189.66 302.04H193.58V306.05H189.66zM189.66 298.03H193.58V302.04H189.66zM193.58 442.39H197.49V446.40H193.58zM193.58 430.36H197.49V434.37H193.58zM193.58 298.03H197.49V302.04H193.58zM197.49 414.32H201.40V418.33H197.49zM201.40 450.41H205.32V454.42H201.40zM201.40 446.40H205.32V450.41H201.40zM201.40 438.38H205.32V442.39H201.40zM201.40 362.19H205.32V366.20H201.40zM201.40 338.13H205.32V342.14H201.40zM201.40 318.08H205.32V322.09H201.40zM201.40 306.05H205.32V310.06H201.40zM205.32 450.41H209.23V454.42H205.32zM205.32 430.36H209.23V434.37H205.32zM205.32 418.33H209.23V422.34H205.32zM205.32 386.25H209.23V390.26H205.32zM205.32 366.20H209.23V370.21H205.32zM205.32 338.13H209.23V342.14H205.32zM205.32 318.08H209.23V322.09H205.32zM205.32 306.05H209.23V310.06H205.32zM209.23 462.44H213.15V466.45H209.23zM209.23 454.42H213.15V458.43H209.23zM209.23 450.41H213.15V454.42H209.23zM209.23 438.38H213.15V442.39H209.23zM209.23 414.32H213.15V418.33H209.23zM209.23 358.18H213.15V362.19H209.23zM209.23 350.16H213.15V354.17H209.23zM209.23 346.15H213.15V350.16H209.23zM209.23 330.11H213.15V334.12H209.23zM209.23 326.10H213.15V330.11H209.23zM209.23 294.02H213.15V298.03H209.23zM209.23 286.00H213.15V290.01H209.23zM213.15 470.46H217.06V474.47H213.15zM213.15 466.45H217.06V470.46H213.15zM213.15 462.44H217.06V466.45H213.15zM213.15 442.39H217.06V446.40H213.15zM213.15 422.34H217.06V426.35H213.15zM213.15 378.23H217.06V382.24H213.15zM213.15 366.20H217.06V370.21H213.15zM217.06 462.44H220.97V466.45H217.06zM217.06 458.43H220.97V462.44H217.06zM217.06 438.38H220.97V442.39H217.06zM217.06 406.30H220.97V410.31H217.06zM217.06 382.24H220.97V386.25H217.06zM217.06 374.22H220.97V378.23H217.06zM217.06 362.19H220.97V366.20H217.06zM217.06 346.15H220.97V350.16H217.06zM217.06 330.11H220.97V334.12H217.06zM217.06 318.08H220.97V322.09H217.06zM220.97 470.46H224.89V474.47H220.97zM220.97 466.45H224.89V470.46H220.97zM220.97 438.38H224.89V442.39H220.97zM220.97 430.36H224.89V434.37H220.97zM220.97 418.33H224.89V422.34H220.97zM220.97 406.30H224.89V410.31H220.97zM220.97 394.27H224.89V398.28H220.97zM220.97 382.24H224.89V386.25H220.97zM220.97 370.21H224.89V374.22H220.97zM220.97 358.18H224.89V362.19H220.97zM220.97 354.17H224.89V358.18H220.97zM220.97 350.16H224.89V354.17H220.97zM220.97 338.13H224.89V342.14H220.97zM220.97 334.12H224.89V338.13H220.97zM220.97 306.05H224.89V310.06H220.97zM220.97 290.01H224.89V294.02H220.97zM224.89 394.27H228.80V398.28H224.89zM224.89 382.24H228.80V386.25H224.89zM224.89 314.07H228.80V318.08H224.89zM228.80 482.49H232.72V486.50H228.80zM228.80 466.45H232.72V470.46H228.80zM228.80 462.44H232.72V466.45H228.80zM228.80 450.41H232.72V454.42H228.80zM228.80 422.34H232.72V426.35H228.80zM228.80 386.25H232.72V390.26H228.80zM228.80 378.23H232.72V382.24H228.80zM228.80 362.19H232.72V366.20H228.80zM228.80 318.08H232.72V322.09H228.80zM228.80 310.06H232.72V314.07H228.80zM228.80 294.02H232.72V298.03H228.80zM232.72 458.43H236.63V462.44H232.72zM232.72 454.42H236.63V458.43H232.72zM232.72 422.34H236.63V426.35H232.72zM232.72 398.28H236.63V402.29H232.72zM232.72 350.16H236.63V354.17H232.72zM232.72 338.13H236.63V342.14H232.72zM232.72 330.11H236.63V334.12H232.72zM232.72 314.07H236.63V318.08H232.72zM232.72 306.05H236.63V310.06H232.72zM236.63 446.40H240.54V450.41H236.63zM236.63 434.37H240.54V438.38H236.63zM236.63 418.33H240.54V422.34H236.63zM236.63 414.32H240.54V418.33H236.63zM236.63 398.28H240.54V402.29H236.63zM236.63 382.24H240.54V386.25H236.63zM236.63 366.20H240.54V370.21H236.63zM236.63 354.17H240.54V358.18H236.63zM236.63 350.16H240.54V354.17H236.63zM236.63 330.11H240.54V334.12H236.63zM236.63 326.10H240.54V330.11H236.63zM236.63 318.08H240.54V322.09H236.63zM240.54 458.43H244.46V462.44H240.54zM240.54 418.33H244.46V422.34H240.54zM240.54 406.30H244.46V410.31H240.54zM240.54 398.28H244.46V402.29H240.54zM240.54 386.25H244.46V390.26H240.54zM240.54 370.21H244.46V374.22H240.54zM240.54 366.20H244.46V370.21H240.54zM240.54 350.16H244.46V354.17H240.54zM240.54 314.07H244.46V318.08H240.54zM240.54 298.03H244.46V302.04H240.54zM240.54 294.02H244.46V298.03H240.54zM240.54 286.00H244.46V290.01H240.54zM244.46 426.35H248.37V430.36H244.46zM244.46 354.17H248.37V358.18H244.46zM244.46 298.03H248.37V302.04H244.46zM248.37 470.46H252.29V474.47H248.37zM248.37 466.45H252.29V470.46H248.37zM248.37 438.38H252.29V442.39H248.37zM248.37 394.27H252.29V398.28H248.37zM248.37 386.25H252.29V390.26H248.37zM248.37 338.13H252.29V342.14H248.37zM248.37 314.07H252.29V318.08H248.37zM248.37 306.05H252.29V310.06H248.37zM252.29 454.42H256.20V458.43H252.29zM252.29 442.39H256.20V446.40H252.29zM252.29 426.35H256.20V430.36H252.29zM252.29 414.32H256.20V418.33H252.29zM252.29 410.31H256.20V414.32H252.29zM252.29 398.28H256.20V402.29H252.29zM252.29 390.26H256.20V394.27H252.29zM252.29 386.25H256.20V390.26H252.29zM252.29 370.21H256.20V374.22H252.29zM252.29 330.11H256.20V334.12H252.29zM252.29 326.10H256.20V330.11H252.29zM252.29 290.01H256.20V294.02H252.29z"/>
<path fill="#2a90d8" d="M60.50 398.28H64.41V402.29H60.50zM68.33 442.39H72.24V446.40H68.33zM68.33 358.18H72.24V362.19H68.33zM72.24 458.43H76.16V462.44H72.24zM72.24 354.17H76.16V358.18H72.24zM72.24 318.08H76.16V322.09H72.24zM76.16 418.33H80.07V422.34H76.16zM76.16 406.30H80.07V410.31H76.16zM76.16 398.28H80.07V402.29H76.16zM76.16 334.12H80.07V338.13H76.16zM80.07 386.25H83.98V390.26H80.07zM80.07 314.07H83.98V318.08H80.07zM83.98 418.33H87.90V422.34H83.98zM83.98 414.32H87.90V418.33H83.98zM83.98 390.26H87.90V394.27H83.98zM83.98 330.11H87.90V334.12H83.98zM87.90 442.39H91.81V446.40H87.90zM87.90 430.36H91.81V434.37H87.90zM87.90 394.27H91.81V398.28H87.90zM87.90 390.26H91.81V394.27H87.90zM87.90 354.17H91.81V358.18H87.90zM87.90 350.16H91.81V354.17H87.90zM87.90 346.15H91.81V350.16H87.90zM87.90 326.10H91.81V330.11H87.90zM87.90 310.06H91.81V314.07H87.90zM87.90 298.03H91.81V302.04H87.90zM91.81 454.42H95.73V458.43H91.81zM91.81 442.39H95.73V446.40H91.81zM91.81 438.38H95.73V442.39H91.81zM91.81 382.24H95.73V386.25H91.81zM91.81 366.20H95.73V370.21H91.81zM91.81 342.14H95.73V346.15H91.81zM91.81 338.13H95.73V342.14H91.81zM91.81 330.11H95.73V334.12H91.81zM95.73 458.43H99.64V462.44H95.73zM95.73 438.38H99.64V442.39H95.73zM95.73 430.36H99.64V434.37H95.73zM95.73 418.33H99.64V422.34H95.73zM95.73 382.24H99.64V386.25H95.73zM95.73 378.23H99.64V382.24H95.73zM95.73 334.12H99.64V338.13H95.73zM95.73 330.11H99.64V334.12H95.73zM95.73 318.08H99.64V322.09H95.73zM99.64 470.46H103.55V474.47H99.64zM99.64 414.32H103.55V418.33H99.64zM99.64 410.31H103.55V414.32H99.64zM99.64 402.29H103.55V406.30H99.64zM99.64 374.22H103.55V378.23H99.64zM99.64 354.17H103.55V358.18H99.64zM99.64 342.14H103.55V346.15H99.64zM99.64 334.12H103.55V338.13H99.64zM103.55 454.42H107.47V458.43H103.55zM103.55 422.34H107.47V426.35H103.55zM103.55 406.30H107.47V410.31H103.55zM103.55 330.11H107.47V334.12H103.55zM103.55 326.10H107.47V330.11H103.55zM103.55 310.06H107.47V314.07H103.55zM107.47 462.44H111.38V466.45H107.47zM107.47 454.42H111.38V458.43H107.47zM107.47 402.29H111.38V406.30H107.47zM107.47 398.28H111.38V402.29H107.47zM107.47 382.24H111.38V386.25H107.47zM107.47 374.22H111.38V378.23H107.47zM107.47 362.19H111.38V366.20H107.47zM107.47 358.18H111.38V362.19H107.47zM107.47 314.07H111.38V318.08H107.47zM111.38 450.41H115.30V454.42H111.38zM111.38 434.37H115.30V438.38H111.38zM111.38 410.31H115.30V414.32H111.38zM111.38 398.28H115.30V402.29H111.38zM111.38 394.27H115.30V398.28H111.38zM111.38 366.20H115.30V370.21H111.38zM115.30 434.37H119.21V438.38H115.30zM115.30 426.35H119.21V430.36H115.30zM115.30 402.29H119.21V406.30H115.30zM115.30 378.23H119.21V382.24H115.30zM115.30 374.22H119.21V378.23H115.30zM115.30 334.12H119.21V338.13H115.30zM119.21 454.42H123.12V458.43H119.21zM119.21 330.11H123.12V334.12H119.21zM123.12 466.45H127.04V470.46H123.12zM123.12 458.43H127.04V462.44H123.12zM123.12 438.38H127.04V442.39H123.12zM123.12 418.33H127.04V422.34H123.12zM123.12 398.28H127.04V402.29H123.12zM123.12 354.17H127.04V358.18H123.12zM123.12 350.16H127.04V354.17H123.12zM123.12 318.08H127.04V322.09H123.12zM123.12 298.03H127.04V302.04H123.12zM127.04 466.45H130.95V470.46H127.04zM127.04 442.39H130.95V446.40H127.04zM127.04 414.32H130.95V418.33H127.04zM127.04 390.26H130.95V394.27H127.04zM127.04 378.23H130.95V382.24H127.04zM130.95 442.39H134.87V446.40H130.95zM130.95 350.16H134.87V354.17H130.95zM130.95 342.14H134.87V346.15H130.95zM130.95 306.05H134.87V310.06H130.95zM130.95 302.04H134.87V306.05H130.95zM134.87 450.41H138.78V454.42H134.87zM134.87 442.39H138.78V446.40H134.87zM134.87 418.33H138.78V422.34H134.87zM134.87 386.25H138.78V390.26H134.87zM134.87 346.15H138.78V350.16H134.87zM134.87 334.12H138.78V338.13H134.87zM134.87 314.07H138.78V318.08H134.87zM138.78 462.44H142.69V466.45H138.78zM138.78 450.41H142.69V454.42H138.78zM138.78 426.35H142.69V430.36H138.78zM138.78 418.33H142.69V422.34H138.78zM138.78 370.21H142.69V374.22H138.78zM138.78 318.08H142.69V322.09H138.78zM138.78 306.05H142.69V310.06H138.78zM142.69 450.41H146.61V454.42H142.69zM142.69 426.35H146.61V430.36H142.69zM142.69 422.34H146.61V426.35H142.69zM142.69 386.25H146.61V390.26H142.69zM142.69 354.17H146.61V358.18H142.69zM142.69 318.08H146.61V322.09H142.69zM146.61 466.45H150.52V470.46H146.61zM146.61 458.43H150.52V462.44H146.61zM146.61 378.23H150.52V382.24H146.61zM146.61 350.16H150.52V354.17H146.61zM150.52 454.42H154.44V458.43H150.52zM150.52 442.39H154.44V446.40H150.52zM150.52 426.35H154.44V430.36H150.52zM150.52 422.34H154.44V426.35H150.52zM150.52 338.13H154.44V342.14H150.52zM154.44 422.34H158.35V426.35H154.44zM154.44 358.18H158.35V362.19H154.44zM154.44 338.13H158.35V342.14H154.44zM158.35 478.48H162.26V482.49H158.35zM158.35 446.40H162.26V450.41H158.35zM158.35 398.28H162.26V402.29H158.35zM158.35 394.27H162.26V398.28H158.35zM158.35 374.22H162.26V378.23H158.35zM158.35 318.08H162.26V322.09H158.35zM158.35 314.07H162.26V318.08H158.35zM162.26 454.42H166.18V458.43H162.26zM162.26 442.39H166.18V446.40H162.26zM162.26 434.37H166.18V438.38H162.26zM162.26 378.23H166.18V382.24H162.26zM162.26 334.12H166.18V338.13H162.26zM162.26 306.05H166.18V310.06H162.26zM162.26 294.02H166.18V298.03H162.26zM166.18 438.38H170.09V442.39H166.18zM166.18 434.37H170.09V438.38H166.18zM166.18 426.35H170.09V430.36H166.18zM166.18 294.02H170.09V298.03H166.18zM170.09 442.39H174.01V446.40H170.09zM170.09 342.14H174.01V346.15H170.09zM170.09 330.11H174.01V334.12H170.09zM170.09 326.10H174.01V330.11H170.09zM174.01 450.41H177.92V454.42H174.01zM174.01 418.33H177.92V422.34H174.01zM174.01 374.22H177.92V378.23H174.01zM174.01 298.03H177.92V302.04H174.01zM174.01 294.02H177.92V298.03H174.01zM177.92 450.41H181.83V454.42H177.92zM177.92 438.38H181.83V442.39H177.92zM177.92 434.37H181.83V438.38H177.92zM177.92 418.33H181.83V422.34H177.92zM177.92 402.29H181.83V406.30H177.92zM177.92 310.06H181.83V314.07H177.92zM177.92 290.01H181.83V294.02H177.92zM181.83 454.42H185.75V458.43H181.83zM181.83 442.39H185.75V446.40H181.83zM181.83 426.35H185.75V430.36H181.83zM181.83 410.31H185.75V414.32H181.83zM181.83 406.30H185.75V410.31H181.83zM181.83 342.14H185.75V346.15H181.83zM181.83 334.12H185.75V338.13H181.83zM181.83 318.08H185.75V322.09H181.83zM181.83 314.07H185.75V318.08H181.83zM185.75 450.41H189.66V454.42H185.75zM185.75 430.36H189.66V434.37H185.75zM185.75 418.33H189.66V422.34H185.75zM185.75 390.26H189.66V394.27H185.75zM185.75 382.24H189.66V386.25H185.75zM185.75 350.16H189.66V354.17H185.75zM185.75 346.15H189.66V350.16H185.75zM185.75 330.11H189.66V334.12H185.75zM189.66 386.25H193.58V390.26H189.66zM189.66 330.11H193.58V334.12H189.66zM189.66 326.10H193.58V330.11H189.66zM189.66 306.05H193.58V310.06H189.66zM193.58 470.46H197.49V474.47H193.58zM193.58 438.38H197.49V442.39H193.58zM193.58 414.32H197.49V418.33H193.58zM193.58 406.30H197.49V410.31H193.58zM193.58 374.22H197.49V378.23H193.58zM193.58 362.19H197.49V366.20H193.58zM193.58 358.18H197.49V362.19H193.58zM193.58 338.13H197.49V342.14H193.58zM197.49 450.41H201.40V454.42H197.49zM197.49 394.27H201.40V398.28H197.49zM197.49 390.26H201.40V394.27H197.49zM197.49 386.25H201.40V390.26H197.49zM197.49 346.15H201.40V350.16H197.49zM197.49 314.07H201.40V318.08H197.49zM197.49 290.01H201.40V294.02H197.49zM201.40 442.39H205.32V446.40H201.40zM201.40 406.30H205.32V410.31H201.40zM201.40 358.18H205.32V362.19H201.40zM201.40 346.15H205.32V350.16H201.40zM201.40 302.04H205.32V306.05H201.40zM205.32 454.42H209.23V458.43H205.32zM205.32 374.22H209.23V378.23H205.32zM205.32 362.19H209.23V366.20H205.32zM205.32 334.12H209.23V338.13H205.32zM205.32 326.10H209.23V330.11H205.32zM205.32 322.09H209.23V326.10H205.32zM209.23 430.36H213.15V434.37H209.23zM209.23 426.35H213.15V430.36H209.23zM209.23 386.25H213.15V390.26H209.23zM209.23 362.19H213.15V366.20H209.23zM213.15 446.40H217.06V450.41H213.15zM213.15 414.32H217.06V418.33H213.15zM213.15 410.31H217.06V414.32H213.15zM213.15 394.27H217.06V398.28H213.15zM213.15 390.26H217.06V394.27H213.15zM213.15 374.22H217.06V378.23H213.15zM213.15 338.13H217.06V342.14H213.15zM213.15 330.11H217.06V334.12H213.15zM213.15 318.08H217.06V322.09H213.15zM217.06 450.41H220.97V454.42H217.06zM217.06 434.37H220.97V438.38H217.06zM217.06 430.36H220.97V434.37H217.06zM217.06 378.23H220.97V382.24H217.06zM217.06 310.06H220.97V314.07H217.06zM217.06 306.05H220.97V310.06H217.06zM220.97 362.19H224.89V366.20H220.97zM220.97 326.10H224.89V330.11H220.97zM224.89 434.37H228.80V438.38H224.89zM224.89 426.35H228.80V430.36H224.89zM224.89 422.34H228.80V426.35H224.89zM224.89 406.30H228.80V410.31H224.89zM224.89 402.29H228.80V406.30H224.89zM224.89 370.21H228.80V374.22H224.89zM224.89 358.18H228.80V362.19H224.89zM224.89 334.12H228.80V338.13H224.89zM228.80 470.46H232.72V474.47H228.80zM228.80 458.43H232.72V462.44H228.80zM228.80 418.33H232.72V422.34H228.80zM228.80 410.31H232.72V414.32H228.80zM228.80 342.14H232.72V346.15H228.80zM232.72 462.44H236.63V466.45H232.72zM232.72 442.39H236.63V446.40H232.72zM232.72 434.37H236.63V438.38H232.72zM232.72 390.26H236.63V394.27H232.72zM232.72 382.24H236.63V386.25H232.72zM232.72 370.21H236.63V374.22H232.72zM232.72 342.14H236.63V346.15H232.72zM232.72 322.09H236.63V326.10H232.72zM232.72 318.08H236.63V322.09H232.72zM236.63 358.18H240.54V362.19H236.63zM240.54 390.26H244.46V394.27H240.54zM240.54 382.24H244.46V386.25H240.54zM240.54 374.22H244.46V378.23H240.54zM240.54 362.19H244.46V366.20H240.54zM240.54 342.14H244.46V346.15H240.54zM240.54 334.12H244.46V338.13H240.54zM244.46 342.14H248.37V346.15H244.46zM244.46 330.11H248.37V334.12H244.46zM248.37 422.34H252.29V426.35H248.37zM248.37 318.08H252.29V322.09H248.37zM252.29 362.19H256.20V366.20H252.29zM252.29 322.09H256.20V326.10H252.29z"/>
<path fill="#2f84c4" d="M64.41 430.36H68.33V434.37H64.41zM68.33 458.43H72.24V462.44H68.33zM68.33 418.33H72.24V422.34H68.33zM68.33 370.21H72.24V374.22H68.33zM72.24 378.23H76.16V382.24H72.24zM72.24 366.20H76.16V370.21H72.24zM72.24 330.11H76.16V334.12H72.24zM76.16 458.43H80.07V462.44H76.16zM76.16 358.18H80.07V362.19H76.16zM76.16 342.14H80.07V346.15H76.16zM80.07 462.44H83.98V466.45H80.07zM80.07 442.39H83.98V446.40H80.07zM80.07 370.21H83.98V374.22H80.07zM83.98 386.25H87.90V390.26H83.98zM83.98 378.23H87.90V382.24H83.98zM83.98 374.22H87.90V378.23H83.98zM83.98 338.13H87.90V342.14H83.98zM83.98 298.03H87.90V302.04H83.98zM87.90 434.37H91.81V438.38H87.90zM87.90 386.25H91.81V390.26H87.90zM91.81 430.36H95.73V434.37H91.81zM91.81 410.31H95.73V414.32H91.81zM91.81 362.19H95.73V366.20H91.81zM91.81 334.12H95.73V338.13H91.81zM91.81 322.09H95.73V326.10H91.81zM95.73 370.21H99.64V374.22H95.73zM95.73 362.19H99.64V366.20H95.73zM95.73 346.15H99.64V350.16H95.73zM99.64 442.39H103.55V446.40H99.64zM99.64 406.30H103.55V410.31H99.64zM99.64 366.20H103.55V370.21H99.64zM99.64 318.08H103.55V322.09H99.64zM99.64 310.06H103.55V314.07H99.64zM103.55 414.32H107.47V418.33H103.55zM103.55 410.31H107.47V414.32H103.55zM103.55 402.29H107.47V406.30H103.55zM103.55 374.22H107.47V378.23H103.55zM103.55 366.20H107.47V370.21H103.55zM103.55 346.15H107.47V350.16H103.55zM103.55 338.13H107.47V342.14H103.55zM103.55 314.07H107.47V318.08H103.55zM107.47 346.15H111.38V350.16H107.47zM107.47 306.05H111.38V310.06H107.47zM107.47 302.04H111.38V306.05H107.47zM111.38 462.44H115.30V466.45H111.38zM111.38 382.24H115.30V386.25H111.38zM111.38 370.21H115.30V374.22H111.38zM111.38 326.10H115.30V330.11H111.38zM115.30 430.36H119.21V434.37H115.30zM115.30 414.32H119.21V418.33H115.30zM115.30 398.28H119.21V402.29H115.30zM115.30 390.26H119.21V394.27H115.30zM115.30 350.16H119.21V354.17H115.30zM119.21 414.32H123.12V418.33H119.21zM119.21 402.29H123.12V406.30H119.21zM119.21 350.16H123.12V354.17H119.21zM119.21 310.06H123.12V314.07H119.21zM119.21 306.05H123.12V310.06H119.21zM123.12 434.37H127.04V438.38H123.12zM123.12 386.25H127.04V390.26H123.12zM123.12 374.22H127.04V378.23H123.12zM123.12 370.21H127.04V374.22H123.12zM123.12 358.18H127.04V362.19H123.12zM123.12 346.15H127.04V350.16H123.12zM127.04 422.34H130.95V426.35H127.04zM127.04 406.30H130.95V410.31H127.04zM127.04 394.27H130.95V398.28H127.04zM127.04 382.24H130.95V386.25H127.04zM127.04 366.20H130.95V370.21H127.04zM127.04 362.19H130.95V366.20H127.04zM127.04 322.09H130.95V326.10H127.04zM127.04 314.07H130.95V318.08H127.04zM127.04 302.04H130.95V306.05H127.04zM130.95 418.33H134.87V422.34H130.95zM130.95 402.29H134.87V406.30H130.95zM130.95 398.28H134.87V402.29H130.95zM130.95 370.21H134.87V374.22H130.95zM130.95 358.18H134.87V362.19H130.95zM130.95 326.10H134.87V330.11H130.95zM134.87 434.37H138.78V438.38H134.87zM134.87 426.35H138.78V430.36H134.87zM134.87 378.23H138.78V382.24H134.87zM134.87 326.10H138.78V330.11H134.87zM138.78 434.37H142.69V438.38H138.78zM138.78 394.27H142.69V398.28H138.78zM138.78 390.26H142.69V394.27H138.78zM138.78 362.19H142.69V366.20H138.78zM138.78 334.12H142.69V338.13H138.78zM138.78 326.10H142.69V330.11H138.78zM142.69 454.42H146.61V458.43H142.69zM142.69 378.23H146.61V382.24H142.69zM142.69 374.22H146.61V378.23H142.69zM142.69 358.18H146.61V362.19H142.69zM142.69 334.12H146.61V338.13H142.69zM142.69 322.09H146.61V326.10H142.69zM142.69 314.07H146.61V318.08H142.69zM146.61 426.35H150.52V430.36H146.61zM146.61 422.34H150.52V426.35H146.61zM146.61 390.26H150.52V394.27H146.61zM146.61 298.03H150.52V302.04H146.61zM150.52 434.37H154.44V438.38H150.52zM150.52 430.36H154.44V434.37H150.52zM150.52 418.33H154.44V422.34H150.52zM150.52 346.15H154.44V350.16H150.52zM150.52 318.08H154.44V322.09H150.52zM150.52 294.02H154.44V298.03H150.52zM154.44 454.42H158.35V458.43H154.44zM154.44 410.31H158.35V414.32H154.44zM154.44 398.28H158.35V402.29H154.44zM154.44 386.25H158.35V390.26H154.44zM154.44 374.22H158.35V378.23H154.44zM154.44 366.20H158.35V370.21H154.44zM154.44 346.15H158.35V350.16H154.44zM154.44 330.11H158.35V334.12H154.44zM154.44 298.03H158.35V302.04H154.44zM158.35 402.29H162.26V406.30H158.35zM158.35 362.19H162.26V366.20H158.35zM158.35 354.17H162.26V358.18H158.35zM158.35 350.16H162.26V354.17H158.35zM158.35 294.02H162.26V298.03H158.35zM162.26 438.38H166.18V442.39H162.26zM162.26 398.28H166.18V402.29H162.26zM162.26 382.24H166.18V386.25H162.26zM162.26 322.09H166.18V326.10H162.26zM166.18 454.42H170.09V458.43H166.18zM166.18 410.31H170.09V414.32H166.18zM166.18 394.27H170.09V398.28H166.18zM166.18 382.24H170.09V386.25H166.18zM166.18 326.10H170.09V330.11H166.18zM166.18 314.07H170.09V318.08H166.18zM170.09 434.37H174.01V438.38H170.09zM170.09 422.34H174.01V426.35H170.09zM170.09 370.21H174.01V374.22H170.09zM170.09 334.12H174.01V338.13H170.09zM174.01 458.43H177.92V462.44H174.01zM174.01 442.39H177.92V446.40H174.01zM174.01 394.27H177.92V398.28H174.01zM174.01 382.24H177.92V386.25H174.01zM174.01 350.16H177.92V354.17H174.01zM174.01 330.11H177.92V334.12H174.01zM174.01 326.10H177.92V330.11H174.01zM174.01 322.09H177.92V326.10H174.01zM177.92 366.20H181.83V370.21H177.92zM177.92 350.16H181.83V354.17H177.92zM177.92 342.14H181.83V346.15H177.92zM177.92 314.07H181.83V318.08H177.92zM181.83 402.29H185.75V406.30H181.83zM181.83 394.27H185.75V398.28H181.83zM181.83 366.20H185.75V370.21H181.83zM181.83 358.18H185.75V362.19H181.83zM181.83 322.09H185.75V326.10H181.83zM185.75 442.39H189.66V446.40H185.75zM185.75 438.38H189.66V442.39H185.75zM185.75 426.35H189.66V430.36H185.75zM185.75 422.34H189.66V426.35H185.75zM185.75 402.29H189.66V406.30H185.75zM185.75 370.21H189.66V374.22H185.75zM185.75 358.18H189.66V362.19H185.75zM189.66 462.44H193.58V466.45H189.66zM189.66 450.41H193.58V454.42H189.66zM189.66 442.39H193.58V446.40H189.66zM189.66 438.38H193.58V442.39H189.66zM189.66 406.30H193.58V410.31H189.66zM189.66 358.18H193.58V362.19H189.66zM189.66 338.13H193.58V342.14H189.66zM189.66 322.09H193.58V326.10H189.66zM189.66 318.08H193.58V322.09H189.66zM189.66 290.01H193.58V294.02H189.66zM193.58 370.21H197.49V374.22H193.58zM193.58 366.20H197.49V370.21H193.58zM197.49 382.24H201.40V386.25H197.49zM197.49 342.14H201.40V346.15H197.49zM197.49 318.08H201.40V322.09H197.49zM201.40 470.46H205.32V474.47H201.40zM201.40 414.32H205.32V418.33H201.40zM201.40 378.23H205.32V382.24H201.40zM205.32 422.34H209.23V426.35H205.32zM205.32 370.21H209.23V374.22H205.32zM205.32 358.18H209.23V362.19H205.32zM205.32 314.07H209.23V318.08H205.32zM209.23 366.20H213.15V370.21H209.23zM209.23 322.09H213.15V326.10H209.23zM209.23 306.05H213.15V310.06H209.23zM213.15 418.33H217.06V422.34H213.15zM213.15 406.30H217.06V410.31H213.15zM213.15 386.25H217.06V390.26H213.15zM213.15 358.18H217.06V362.19H213.15zM213.15 350.16H217.06V354.17H213.15zM213.15 326.10H217.06V330.11H213.15zM213.15 306.05H217.06V310.06H213.15zM213.15 298.03H217.06V302.04H213.15zM217.06 358.18H220.97V362.19H217.06zM220.97 462.44H224.89V466.45H220.97zM220.97 434.37H224.89V438.38H220.97zM220.97 422.34H224.89V426.35H220.97zM220.97 402.29H224.89V406.30H220.97zM220.97 398.28H224.89V402.29H220.97zM220.97 346.15H224.89V350.16H220.97zM220.97 310.06H224.89V314.07H220.97zM224.89 418.33H228.80V422.34H224.89zM224.89 414.32H228.80V418.33H224.89zM224.89 390.26H228.80V394.27H224.89zM224.89 374.22H228.80V378.23H224.89zM224.89 362.19H228.80V366.20H224.89zM224.89 354.17H228.80V358.18H224.89zM224.89 350.16H228.80V354.17H224.89zM224.89 342.14H228.80V346.15H224.89zM224.89 322.09H228.80V326.10H224.89zM224.89 306.05H228.80V310.06H224.89zM228.80 442.39H232.72V446.40H228.80zM228.80 430.36H232.72V434.37H228.80zM228.80 414.32H232.72V418.33H228.80zM228.80 402.29H232.72V406.30H228.80zM228.80 398.28H232.72V402.29H228.80zM228.80 374.22H232.72V378.23H228.80zM228.80 354.17H232.72V358.18H228.80zM232.72 410.31H236.63V414.32H232.72zM236.63 462.44H240.54V466.45H236.63zM236.63 430.36H240.54V434.37H236.63zM236.63 422.34H240.54V426.35H236.63zM236.63 410.31H240.54V414.32H236.63zM236.63 374.22H240.54V378.23H236.63zM236.63 334.12H240.54V338.13H236.63zM240.54 346.15H244.46V350.16H240.54zM244.46 462.44H248.37V466.45H244.46zM244.46 438.38H248.37V442.39H244.46zM244.46 366.20H248.37V370.21H244.46zM252.29 430.36H256.20V434.37H252.29zM252.29 394.27H256.20V398.28H252.29z"/>
<path fill="#3a6c99" d="M68.33 410.31H72.24V414.32H68.33zM80.07 454.42H83.98V458.43H80.07zM83.98 434.37H87.90V438.38H83.98zM83.98 402.29H87.90V406.30H83.98zM87.90 382.24H91.81V386.25H87.90zM91.81 398.28H95.73V402.29H91.81zM91.81 326.10H95.73V330.11H91.81zM95.73 406.30H99.64V410.31H95.73zM95.73 402.29H99.64V406.30H95.73zM95.73 390.26H99.64V394.27H95.73zM95.73 354.17H99.64V358.18H95.73zM99.64 446.40H103.55V450.41H99.64zM99.64 438.38H103.55V442.39H99.64zM99.64 370.21H103.55V374.22H99.64zM103.55 450.41H107.47V454.42H103.55zM107.47 430.36H111.38V434.37H107.47zM107.47 422.34H111.38V426.35H107.47zM107.47 370.21H111.38V374.22H107.47zM111.38 430.36H115.30V434.37H111.38zM111.38 386.25H115.30V390.26H111.38zM111.38 334.12H115.30V338.13H111.38zM115.30 366.20H119.21V370.21H115.30zM115.30 358.18H119.21V362.19H115.30zM115.30 346.15H119.21V350.16H115.30zM119.21 398.28H123.12V402.29H119.21zM119.21 386.25H123.12V390.26H119.21zM119.21 358.18H123.12V362.19H119.21zM123.12 426.35H127.04V430.36H123.12zM123.12 338.13H127.04V342.14H123.12zM127.04 426.35H130.95V430.36H127.04zM127.04 370.21H130.95V374.22H127.04zM127.04 330.11H130.95V334.12H127.04zM127.04 326.10H130.95V330.11H127.04zM130.95 362.19H134.87V366.20H130.95zM134.87 414.32H138.78V418.33H134.87zM142.69 402.29H146.61V406.30H142.69zM142.69 342.14H146.61V346.15H142.69zM146.61 446.40H150.52V450.41H146.61zM146.61 398.28H150.52V402.29H146.61zM146.61 382.24H150.52V386.25H146.61zM146.61 362.19H150.52V366.20H146.61zM146.61 358.18H150.52V362.19H146.61zM146.61 346.15H150.52V350.16H146.61zM150.52 394.27H154.44V398.28H150.52zM150.52 362.19H154.44V366.20H150.52zM154.44 354.17H158.35V358.18H154.44zM158.35 426.35H162.26V430.36H158.35zM158.35 406.30H162.26V410.31H158.35zM158.35 386.25H162.26V390.26H158.35zM158.35 370.21H162.26V374.22H158.35zM162.26 386.25H166.18V390.26H162.26zM166.18 446.40H170.09V450.41H166.18zM166.18 442.39H170.09V446.40H166.18zM166.18 402.29H170.09V406.30H166.18zM166.18 370.21H170.09V374.22H166.18zM166.18 366.20H170.09V370.21H166.18zM166.18 358.18H170.09V362.19H166.18zM166.18 322.09H170.09V326.10H166.18zM170.09 414.32H174.01V418.33H170.09zM170.09 366.20H174.01V370.21H170.09zM174.01 426.35H177.92V430.36H174.01zM174.01 346.15H177.92V350.16H174.01zM174.01 338.13H177.92V342.14H174.01zM174.01 318.08H177.92V322.09H174.01zM177.92 410.31H181.83V414.32H177.92zM177.92 346.15H181.83V350.16H177.92zM181.83 438.38H185.75V442.39H181.83zM181.83 418.33H185.75V422.34H181.83zM181.83 398.28H185.75V402.29H181.83zM181.83 386.25H185.75V390.26H181.83zM185.75 434.37H189.66V438.38H185.75zM185.75 406.30H189.66V410.31H185.75zM185.75 394.27H189.66V398.28H185.75zM185.75 378.23H189.66V382.24H185.75zM185.75 374.22H189.66V378.23H185.75zM185.75 342.14H189.66V346.15H185.75zM189.66 402.29H193.58V406.30H189.66zM189.66 350.16H193.58V354.17H189.66zM193.58 434.37H197.49V438.38H193.58zM193.58 422.34H197.49V426.35H193.58zM193.58 394.27H197.49V398.28H193.58zM193.58 390.26H197.49V394.27H193.58zM193.58 346.15H197.49V350.16H193.58zM193.58 330.11H197.49V334.12H193.58zM197.49 430.36H201.40V434.37H197.49zM197.49 410.31H201.40V414.32H197.49zM197.49 406.30H201.40V410.31H197.49zM201.40 430.36H205.32V434.37H201.40zM201.40 426.35H205.32V430.36H201.40zM201.40 394.27H205.32V398.28H201.40zM201.40 322.09H205.32V326.10H201.40zM205.32 382.24H209.23V386.25H205.32zM205.32 346.15H209.23V350.16H205.32zM209.23 390.26H213.15V394.27H209.23zM209.23 354.17H213.15V358.18H209.23zM209.23 318.08H213.15V322.09H209.23zM217.06 442.39H220.97V446.40H217.06zM217.06 414.32H220.97V418.33H217.06zM217.06 386.25H220.97V390.26H217.06zM228.80 394.27H232.72V398.28H228.80zM232.72 414.32H236.63V418.33H232.72zM236.63 342.14H240.54V346.15H236.63z"/>
<path fill="#3577ae" d="M72.24 394.27H76.16V398.28H72.24zM72.24 334.12H76.16V338.13H72.24zM76.16 426.35H80.07V430.36H76.16zM76.16 386.25H80.07V390.26H76.16zM76.16 350.16H80.07V354.17H76.16zM80.07 438.38H83.98V442.39H80.07zM80.07 410.31H83.98V414.32H80.07zM80.07 398.28H83.98V402.29H80.07zM80.07 358.18H83.98V362.19H80.07zM80.07 350.16H83.98V354.17H80.07zM80.07 346.15H83.98V350.16H80.07zM80.07 330.11H83.98V334.12H80.07zM83.98 366.20H87.90V370.21H83.98zM83.98 354.17H87.90V358.18H83.98zM83.98 326.10H87.90V330.11H83.98zM87.90 362.19H91.81V366.20H87.90zM87.90 334.12H91.81V338.13H87.90zM87.90 322.09H91.81V326.10H87.90zM91.81 310.06H95.73V314.07H91.81zM95.73 386.25H99.64V390.26H95.73zM95.73 322.09H99.64V326.10H95.73zM99.64 434.37H103.55V438.38H99.64zM99.64 422.34H103.55V426.35H99.64zM99.64 386.25H103.55V390.26H99.64zM99.64 378.23H103.55V382.24H99.64zM103.55 462.44H107.47V466.45H103.55zM103.55 430.36H107.47V434.37H103.55zM103.55 390.26H107.47V394.27H103.55zM107.47 426.35H111.38V430.36H107.47zM107.47 366.20H111.38V370.21H107.47zM107.47 338.13H111.38V342.14H107.47zM107.47 322.09H111.38V326.10H107.47zM111.38 402.29H115.30V406.30H111.38zM111.38 354.17H115.30V358.18H111.38zM111.38 342.14H115.30V346.15H111.38zM111.38 314.07H115.30V318.08H111.38zM115.30 394.27H119.21V398.28H115.30zM115.30 386.25H119.21V390.26H115.30zM115.30 330.11H119.21V334.12H115.30zM119.21 422.34H123.12V426.35H119.21zM119.21 394.27H123.12V398.28H119.21zM119.21 374.22H123.12V378.23H119.21zM119.21 362.19H123.12V366.20H119.21zM119.21 354.17H123.12V358.18H119.21zM123.12 450.41H127.04V454.42H123.12zM123.12 394.27H127.04V398.28H123.12zM123.12 382.24H127.04V386.25H123.12zM123.12 378.23H127.04V382.24H123.12zM123.12 334.12H127.04V338.13H123.12zM127.04 350.16H130.95V354.17H127.04zM130.95 450.41H134.87V454.42H130.95zM130.95 422.34H134.87V426.35H130.95zM130.95 406.30H134.87V410.31H130.95zM130.95 394.27H134.87V398.28H130.95zM130.95 382.24H134.87V386.25H130.95zM130.95 334.12H134.87V338.13H130.95zM134.87 446.40H138.78V450.41H134.87zM134.87 394.27H138.78V398.28H134.87zM134.87 350.16H138.78V354.17H134.87zM134.87 322.09H138.78V326.10H134.87zM138.78 430.36H142.69V434.37H138.78zM138.78 410.31H142.69V414.32H138.78zM138.78 406.30H142.69V410.31H138.78zM138.78 386.25H142.69V390.26H138.78zM138.78 366.20H142.69V370.21H138.78zM138.78 354.17H142.69V358.18H138.78zM142.69 398.28H146.61V402.29H142.69zM142.69 370.21H146.61V374.22H142.69zM142.69 346.15H146.61V350.16H142.69zM142.69 330.11H146.61V334.12H142.69zM146.61 414.32H150.52V418.33H146.61zM146.61 402.29H150.52V406.30H146.61zM150.52 446.40H154.44V450.41H150.52zM150.52 386.25H154.44V390.26H150.52zM150.52 382.24H154.44V386.25H150.52zM150.52 366.20H154.44V370.21H150.52zM150.52 358.18H154.44V362.19H150.52zM150.52 354.17H154.44V358.18H150.52zM150.52 330.11H154.44V334.12H150.52zM154.44 414.32H158.35V418.33H154.44zM154.44 406.30H158.35V410.31H154.44zM154.44 378.23H158.35V382.24H154.44zM154.44 318.08H158.35V322.09H154.44zM154.44 314.07H158.35V318.08H154.44zM158.35 430.36H162.26V434.37H158.35zM158.35 414.32H162.26V418.33H158.35zM158.35 346.15H162.26V350.16H158.35zM162.26 418.33H166.18V422.34H162.26zM162.26 414.32H166.18V418.33H162.26zM162.26 406.30H166.18V410.31H162.26zM162.26 362.19H166.18V366.20H162.26zM162.26 338.13H166.18V342.14H162.26zM162.26 326.10H166.18V330.11H162.26zM166.18 390.26H170.09V394.27H166.18zM166.18 386.25H170.09V390.26H166.18zM166.18 374.22H170.09V378.23H166.18zM166.18 354.17H170.09V358.18H166.18zM166.18 330.11H170.09V334.12H166.18zM170.09 450.41H174.01V454.42H170.09zM170.09 418.33H174.01V422.34H170.09zM170.09 406.30H174.01V410.31H170.09zM170.09 402.29H174.01V406.30H170.09zM170.09 358.18H174.01V362.19H170.09zM170.09 346.15H174.01V350.16H170.09zM170.09 338.13H174.01V342.14H170.09zM170.09 322.09H174.01V326.10H170.09zM170.09 318.08H174.01V322.09H170.09zM170.09 314.07H174.01V318.08H170.09zM174.01 438.38H177.92V442.39H174.01zM174.01 422.34H177.92V426.35H174.01zM174.01 406.30H177.92V410.31H174.01zM174.01 386.25H177.92V390.26H174.01zM174.01 354.17H177.92V358.18H174.01zM177.92 398.28H181.83V402.29H177.92zM177.92 394.27H181.83V398.28H177.92zM177.92 390.26H181.83V394.27H177.92zM177.92 354.17H181.83V358.18H177.92zM181.83 382.24H185.75V386.25H181.83zM181.83 370.21H185.75V374.22H181.83zM181.83 362.19H185.75V366.20H181.83zM181.83 354.17H185.75V358.18H181.83zM185.75 414.32H189.66V418.33H185.75zM185.75 386.25H189.66V390.26H185.75zM189.66 382.24H193.58V386.25H189.66zM189.66 366.20H193.58V370.21H189.66zM189.66 354.17H193.58V358.18H189.66zM189.66 342.14H193.58V346.15H189.66zM193.58 382.24H197.49V386.25H193.58zM193.58 322.09H197.49V326.10H193.58zM197.49 458.43H201.40V462.44H197.49zM197.49 438.38H201.40V442.39H197.49zM197.49 434.37H201.40V438.38H197.49zM197.49 418.33H201.40V422.34H197.49zM197.49 402.29H201.40V406.30H197.49zM197.49 362.19H201.40V366.20H197.49zM197.49 358.18H201.40V362.19H197.49zM197.49 350.16H201.40V354.17H197.49zM201.40 390.26H205.32V394.27H201.40zM201.40 386.25H205.32V390.26H201.40zM201.40 366.20H205.32V370.21H201.40zM201.40 330.11H205.32V334.12H201.40zM205.32 434.37H209.23V438.38H205.32zM205.32 402.29H209.23V406.30H205.32zM205.32 398.28H209.23V402.29H205.32zM205.32 390.26H209.23V394.27H205.32zM205.32 350.16H209.23V354.17H205.32zM205.32 342.14H209.23V346.15H205.32zM209.23 422.34H213.15V426.35H209.23zM209.23 410.31H213.15V414.32H209.23zM209.23 406.30H213.15V410.31H209.23zM209.23 382.24H213.15V386.25H209.23zM209.23 378.23H213.15V382.24H209.23zM209.23 338.13H213.15V342.14H209.23zM213.15 402.29H217.06V406.30H213.15zM213.15 398.28H217.06V402.29H213.15zM213.15 382.24H217.06V386.25H213.15zM213.15 370.21H217.06V374.22H213.15zM213.15 354.17H217.06V358.18H213.15zM217.06 426.35H220.97V430.36H217.06zM217.06 370.21H220.97V374.22H217.06zM217.06 366.20H220.97V370.21H217.06zM217.06 342.14H220.97V346.15H217.06zM217.06 314.07H220.97V318.08H217.06zM220.97 442.39H224.89V446.40H220.97zM220.97 410.31H224.89V414.32H220.97zM220.97 330.11H224.89V334.12H220.97zM224.89 386.25H228.80V390.26H224.89zM228.80 446.40H232.72V450.41H228.80zM228.80 390.26H232.72V394.27H228.80zM228.80 330.11H232.72V334.12H228.80zM232.72 418.33H236.63V422.34H232.72zM232.72 402.29H236.63V406.30H232.72zM236.63 386.25H240.54V390.26H236.63zM236.63 378.23H240.54V382.24H236.63zM236.63 370.21H240.54V374.22H236.63zM240.54 446.40H244.46V450.41H240.54zM240.54 430.36H244.46V434.37H240.54zM244.46 402.29H248.37V406.30H244.46zM248.37 430.36H252.29V434.37H248.37z"/>
<path fill="#3d546e" d="M76.16 394.27H80.07V398.28H76.16zM87.90 366.20H91.81V370.21H87.90zM87.90 342.14H91.81V346.15H87.90zM87.90 330.11H91.81V334.12H87.90zM95.73 426.35H99.64V430.36H95.73zM95.73 358.18H99.64V362.19H95.73zM95.73 350.16H99.64V354.17H95.73zM103.55 398.28H107.47V402.29H103.55zM103.55 386.25H107.47V390.26H103.55zM103.55 378.23H107.47V382.24H103.55zM103.55 322.09H107.47V326.10H103.55zM107.47 394.27H111.38V398.28H107.47zM111.38 418.33H115.30V422.34H111.38zM111.38 414.32H115.30V418.33H111.38zM111.38 406.30H115.30V410.31H111.38zM115.30 422.34H119.21V426.35H115.30zM115.30 418.33H119.21V422.34H115.30zM115.30 354.17H119.21V358.18H115.30zM115.30 322.09H119.21V326.10H115.30zM119.21 410.31H123.12V414.32H119.21zM119.21 406.30H123.12V410.31H119.21zM119.21 382.24H123.12V386.25H119.21zM119.21 366.20H123.12V370.21H119.21zM123.12 414.32H127.04V418.33H123.12zM123.12 326.10H127.04V330.11H123.12zM130.95 434.37H134.87V438.38H130.95zM130.95 390.26H134.87V394.27H130.95zM130.95 378.23H134.87V382.24H130.95zM130.95 374.22H134.87V378.23H130.95zM134.87 438.38H138.78V442.39H134.87zM134.87 410.31H138.78V414.32H134.87zM134.87 402.29H138.78V406.30H134.87zM134.87 374.22H138.78V378.23H134.87zM134.87 366.20H138.78V370.21H134.87zM134.87 362.19H138.78V366.20H134.87zM134.87 358.18H138.78V362.19H134.87zM134.87 338.13H138.78V342.14H134.87zM138.78 422.34H142.69V426.35H138.78zM138.78 374.22H142.69V378.23H138.78zM138.78 358.18H142.69V362.19H138.78zM142.69 414.32H146.61V418.33H142.69zM142.69 382.24H146.61V386.25H142.69zM142.69 326.10H146.61V330.11H142.69zM146.61 386.25H150.52V390.26H146.61zM146.61 374.22H150.52V378.23H146.61zM146.61 370.21H150.52V374.22H146.61zM146.61 354.17H150.52V358.18H146.61zM146.61 338.13H150.52V342.14H146.61zM150.52 410.31H154.44V414.32H150.52zM150.52 398.28H154.44V402.29H150.52zM150.52 390.26H154.44V394.27H150.52zM150.52 374.22H154.44V378.23H150.52zM150.52 370.21H154.44V374.22H150.52zM150.52 350.16H154.44V354.17H150.52zM150.52 322.09H154.44V326.10H150.52zM154.44 362.19H158.35V366.20H154.44zM154.44 350.16H158.35V354.17H154.44zM154.44 342.14H158.35V346.15H154.44zM154.44 334.12H158.35V338.13H154.44zM158.35 418.33H162.26V422.34H158.35zM158.35 382.24H162.26V386.25H158.35zM158.35 378.23H162.26V382.24H158.35zM158.35 366.20H162.26V370.21H158.35zM162.26 410.31H166.18V414.32H162.26zM162.26 390.26H166.18V394.27H162.26zM162.26 370.21H166.18V374.22H162.26zM162.26 366.20H166.18V370.21H162.26zM162.26 346.15H166.18V350.16H162.26zM166.18 414.32H170.09V418.33H166.18zM166.18 362.19H170.09V366.20H166.18zM166.18 346.15H170.09V350.16H166.18zM170.09 398.28H174.01V402.29H170.09zM170.09 386.25H174.01V390.26H170.09zM170.09 350.16H174.01V354.17H170.09zM174.01 378.23H177.92V382.24H174.01zM174.01 370.21H177.92V374.22H174.01zM174.01 366.20H177.92V370.21H174.01zM174.01 358.18H177.92V362.19H174.01zM177.92 406.30H181.83V410.31H177.92zM177.92 382.24H181.83V386.25H177.92zM177.92 374.22H181.83V378.23H177.92zM177.92 370.21H181.83V374.22H177.92zM177.92 358.18H181.83V362.19H177.92zM177.92 334.12H181.83V338.13H177.92zM181.83 414.32H185.75V418.33H181.83zM181.83 350.16H185.75V354.17H181.83zM185.75 354.17H189.66V358.18H185.75zM185.75 318.08H189.66V322.09H185.75zM189.66 430.36H193.58V434.37H189.66zM189.66 370.21H193.58V374.22H189.66zM193.58 386.25H197.49V390.26H193.58zM197.49 378.23H201.40V382.24H197.49zM197.49 374.22H201.40V378.23H197.49zM197.49 354.17H201.40V358.18H197.49zM201.40 410.31H205.32V414.32H201.40zM201.40 374.22H205.32V378.23H201.40zM201.40 370.21H205.32V374.22H201.40zM209.23 398.28H213.15V402.29H209.23zM209.23 394.27H213.15V398.28H209.23zM209.23 342.14H213.15V346.15H209.23zM220.97 378.23H224.89V382.24H220.97zM228.80 350.16H232.72V354.17H228.80zM232.72 426.35H236.63V430.36H232.72zM236.63 394.27H240.54V398.28H236.63z"/>
<path fill="#3d6083" d="M80.07 394.27H83.98V398.28H80.07zM80.07 366.20H83.98V370.21H80.07zM83.98 446.40H87.90V450.41H83.98zM87.90 378.23H91.81V382.24H87.90zM91.81 414.32H95.73V418.33H91.81zM95.73 366.20H99.64V370.21H95.73zM107.47 350.16H111.38V354.17H107.47zM107.47 310.06H111.38V314.07H107.47zM111.38 358.18H115.30V362.19H111.38zM111.38 338.13H115.30V342.14H111.38zM115.30 310.06H119.21V314.07H115.30zM119.21 346.15H123.12V350.16H119.21zM119.21 342.14H123.12V346.15H119.21zM123.12 390.26H127.04V394.27H123.12zM123.12 366.20H127.04V370.21H123.12zM127.04 354.17H130.95V358.18H127.04zM127.04 342.14H130.95V346.15H127.04zM127.04 334.12H130.95V338.13H127.04zM130.95 386.25H134.87V390.26H130.95zM134.87 390.26H138.78V394.27H134.87zM134.87 354.17H138.78V358.18H134.87zM138.78 346.15H142.69V350.16H138.78zM142.69 418.33H146.61V422.34H142.69zM142.69 366.20H146.61V370.21H142.69zM142.69 362.19H146.61V366.20H142.69zM142.69 350.16H146.61V354.17H142.69zM146.61 442.39H150.52V446.40H146.61zM146.61 418.33H150.52V422.34H146.61zM146.61 342.14H150.52V346.15H146.61zM150.52 406.30H154.44V410.31H150.52zM150.52 326.10H154.44V330.11H150.52zM154.44 418.33H158.35V422.34H154.44zM154.44 382.24H158.35V386.25H154.44zM154.44 370.21H158.35V374.22H154.44zM158.35 442.39H162.26V446.40H158.35zM158.35 422.34H162.26V426.35H158.35zM158.35 358.18H162.26V362.19H158.35zM162.26 374.22H166.18V378.23H162.26zM162.26 358.18H166.18V362.19H162.26zM166.18 342.14H170.09V346.15H166.18zM170.09 390.26H174.01V394.27H170.09zM174.01 414.32H177.92V418.33H174.01zM174.01 390.26H177.92V394.27H174.01zM174.01 342.14H177.92V346.15H174.01zM177.92 414.32H181.83V418.33H177.92zM181.83 378.23H185.75V382.24H181.83zM181.83 326.10H185.75V330.11H181.83zM185.75 366.20H189.66V370.21H185.75zM185.75 326.10H189.66V330.11H185.75zM189.66 390.26H193.58V394.27H189.66zM189.66 374.22H193.58V378.23H189.66zM189.66 334.12H193.58V338.13H189.66zM193.58 402.29H197.49V406.30H193.58zM193.58 334.12H197.49V338.13H193.58zM193.58 314.07H197.49V318.08H193.58zM197.49 338.13H201.40V342.14H197.49zM201.40 402.29H205.32V406.30H201.40zM201.40 350.16H205.32V354.17H201.40zM201.40 342.14H205.32V346.15H201.40zM205.32 330.11H209.23V334.12H205.32zM217.06 334.12H220.97V338.13H217.06zM220.97 366.20H224.89V370.21H220.97zM232.72 326.10H236.63V330.11H232.72z"/>
</g>
<g shape-rendering="crispEdges">
<path fill="#3b6a96" d="M324.90 482.78H328.81V486.80H324.90zM328.81 482.78H332.72V486.80H328.81z"/>
<path fill="#3d546e" d="M324.90 478.76H328.81V482.78H324.90zM324.90 474.74H328.81V478.76H324.90zM328.81 478.76H332.72V482.78H328.81zM328.81 474.74H332.72V478.76H328.81z"/>
<path fill="#3b6791" d="M324.90 470.72H328.81V474.74H324.90zM328.81 470.72H332.72V474.74H328.81z"/>
<path fill="#3080be" d="M324.90 466.70H328.81V470.72H324.90zM328.81 466.70H332.72V470.72H328.81z"/>
<path fill="#2a90d8" d="M324.90 462.68H328.81V466.70H324.90zM328.81 462.68H332.72V466.70H328.81z"/>
<path fill="#2c9cea" d="M324.90 458.66H328.81V462.68H324.90zM328.81 458.66H332.72V462.68H328.81z"/>
<path fill="#33a5f6" d="M324.90 454.64H328.81V458.66H324.90zM328.81 454.64H332.72V458.66H328.81zM340.55 466.70H344.46V470.72H340.55z"/>
<path fill="#50abf7" d="M324.90 450.62H328.81V454.64H324.90zM328.81 450.62H332.72V454.64H328.81z"/>
<path fill="#65b0f5" d="M324.90 446.60H328.81V450.62H324.90zM328.81 446.60H332.72V450.62H328.81zM340.55 454.64H344.46V458.66H340.55z"/>
<path fill="#74b4f4" d="M324.90 442.58H328.81V446.60H324.90zM328.81 442.58H332.72V446.60H328.81zM344.46 454.64H348.37V458.66H344.46zM348.37 482.78H352.28V486.80H348.37z"/>
<path fill="#7eb7f3" d="M324.90 438.56H328.81V442.58H324.90zM328.81 438.56H332.72V442.58H328.81zM352.28 478.76H356.20V482.78H352.28zM352.28 474.74H356.20V478.76H352.28zM352.28 470.72H356.20V474.74H352.28z"/>
<path fill="#87baf2" d="M324.90 434.54H328.81V438.56H324.90zM328.81 434.54H332.72V438.56H328.81z"/>
<path fill="#8dbcf1" d="M324.90 430.52H328.81V434.54H324.90zM328.81 430.52H332.72V434.54H328.81zM344.46 438.56H348.37V442.58H344.46zM352.28 450.62H356.20V454.64H352.28z"/>
<path fill="#92bef1" d="M324.90 426.50H328.81V430.52H324.90zM328.81 426.50H332.72V430.52H328.81zM340.55 430.52H344.46V434.54H340.55zM344.46 434.54H348.37V438.56H344.46zM348.37 438.56H352.28V442.58H348.37zM360.11 470.72H364.02V474.74H360.11zM360.11 466.70H364.02V470.72H360.11z"/>
<path fill="#95bff1" d="M324.90 422.48H328.81V426.50H324.90zM328.81 422.48H332.72V426.50H328.81zM344.46 430.52H348.37V434.54H344.46zM348.37 434.54H352.28V438.56H348.37zM352.28 438.56H356.20V442.58H352.28zM356.20 446.60H360.11V450.62H356.20z"/>
<path fill="#98c1f0" d="M324.90 418.46H328.81V422.48H324.90zM328.81 418.46H332.72V422.48H328.81zM340.55 422.48H344.46V426.50H340.55zM356.20 438.56H360.11V442.58H356.20zM360.11 446.60H364.02V450.62H360.11zM364.02 462.68H367.93V466.70H364.02zM364.02 458.66H367.93V462.68H364.02z"/>
<path fill="#9ac1f0" d="M324.90 414.44H328.81V418.46H324.90zM328.81 414.44H332.72V418.46H328.81zM336.64 418.46H340.55V422.48H336.64zM340.55 418.46H344.46V422.48H340.55zM344.46 422.48H348.37V426.50H344.46zM356.20 434.54H360.11V438.56H356.20zM360.11 442.58H364.02V446.60H360.11zM364.02 450.62H367.93V454.64H364.02zM367.93 478.76H371.84V482.78H367.93zM367.93 474.74H371.84V478.76H367.93zM367.93 470.72H371.84V474.74H367.93zM367.93 466.70H371.84V470.72H367.93z"/>
<path fill="#9dc2f0" d="M328.81 410.42H332.72V414.44H328.81zM336.64 414.44H340.55V418.46H336.64zM340.55 414.44H344.46V418.46H340.55zM344.46 418.46H348.37V422.48H344.46zM360.11 434.54H364.02V438.56H360.11zM364.02 442.58H367.93V446.60H364.02zM367.93 454.64H371.84V458.66H367.93z"/>
<path fill="#9fc3ef" d="M328.81 406.40H332.72V410.42H328.81zM332.72 406.40H336.64V410.42H332.72zM340.55 410.42H344.46V414.44H340.55zM348.37 414.44H352.28V418.46H348.37zM352.28 418.46H356.20V422.48H352.28zM356.20 422.48H360.11V426.50H356.20zM360.11 426.50H364.02V430.52H360.11zM364.02 434.54H367.93V438.56H364.02zM367.93 482.78H371.84V486.80H367.93zM367.93 442.58H371.84V446.60H367.93zM371.84 458.66H375.76V462.68H371.84zM371.84 454.64H375.76V458.66H371.84z"/>
<path fill="#a0c4ef" d="M328.81 402.38H332.72V406.40H328.81zM332.72 402.38H336.64V406.40H332.72zM336.64 406.40H340.55V410.42H336.64zM340.55 406.40H344.46V410.42H340.55zM344.46 410.42H348.37V414.44H344.46zM348.37 410.42H352.28V414.44H348.37zM352.28 414.44H356.20V418.46H352.28zM356.20 418.46H360.11V422.48H356.20zM360.11 422.48H364.02V426.50H360.11zM364.02 430.52H367.93V434.54H364.02zM367.93 438.56H371.84V442.58H367.93zM367.93 434.54H371.84V438.56H367.93zM371.84 450.62H375.76V454.64H371.84zM371.84 446.60H375.76V450.62H371.84zM375.76 478.76H379.67V482.78H375.76zM375.76 474.74H379.67V478.76H375.76zM375.76 470.72H379.67V474.74H375.76zM375.76 466.70H379.67V470.72H375.76zM375.76 462.68H379.67V466.70H375.76zM375.76 458.66H379.67V462.68H375.76z"/>
<path fill="#a1c4ef" d="M328.81 398.36H332.72V402.38H328.81zM332.72 398.36H336.64V402.38H332.72zM336.64 402.38H340.55V406.40H336.64zM340.55 402.38H344.46V406.40H340.55zM344.46 406.40H348.37V410.42H344.46zM348.37 406.40H352.28V410.42H348.37zM352.28 410.42H356.20V414.44H352.28zM356.20 414.44H360.11V418.46H356.20zM360.11 418.46H364.02V422.48H360.11zM364.02 426.50H367.93V430.52H364.02zM364.02 422.48H367.93V426.50H364.02zM367.93 430.52H371.84V434.54H367.93zM371.84 442.58H375.76V446.60H371.84zM371.84 438.56H375.76V442.58H371.84zM375.76 454.64H379.67V458.66H375.76zM375.76 450.62H379.67V454.64H375.76zM375.76 446.60H379.67V450.62H375.76zM379.67 478.76H383.58V482.78H379.67zM379.67 474.74H383.58V478.76H379.67zM379.67 470.72H383.58V474.74H379.67zM379.67 466.70H383.58V470.72H379.67z"/>
<path fill="#a2c4ef" d="M328.81 394.34H332.72V398.36H328.81zM332.72 394.34H336.64V398.36H332.72zM336.64 398.36H340.55V402.38H336.64zM340.55 398.36H344.46V402.38H340.55zM344.46 402.38H348.37V406.40H344.46zM344.46 398.36H348.37V402.38H344.46zM348.37 402.38H352.28V406.40H348.37zM352.28 406.40H356.20V410.42H352.28zM356.20 410.42H360.11V414.44H356.20zM356.20 406.40H360.11V410.42H356.20zM360.11 414.44H364.02V418.46H360.11zM360.11 410.42H364.02V414.44H360.11zM364.02 418.46H367.93V422.48H364.02zM367.93 426.50H371.84V430.52H367.93zM367.93 422.48H371.84V426.50H367.93zM371.84 482.78H375.76V486.80H371.84zM371.84 434.54H375.76V438.56H371.84zM371.84 430.52H375.76V434.54H371.84zM375.76 442.58H379.67V446.60H375.76zM375.76 438.56H379.67V442.58H375.76zM379.67 462.68H383.58V466.70H379.67zM379.67 458.66H383.58V462.68H379.67zM379.67 454.64H383.58V458.66H379.67zM379.67 450.62H383.58V454.64H379.67zM379.67 446.60H383.58V450.62H379.67zM383.58 478.76H387.49V482.78H383.58zM383.58 474.74H387.49V478.76H383.58zM383.58 470.72H387.49V474.74H383.58zM383.58 466.70H387.49V470.72H383.58z"/>
<path fill="#a3c5ef" d="M328.81 390.32H332.72V394.34H328.81zM328.81 386.30H332.72V390.32H328.81zM332.72 390.32H336.64V394.34H332.72zM332.72 386.30H336.64V390.32H332.72zM336.64 394.34H340.55V398.36H336.64zM336.64 390.32H340.55V394.34H336.64zM340.55 394.34H344.46V398.36H340.55zM340.55 390.32H344.46V394.34H340.55zM344.46 394.34H348.37V398.36H344.46zM348.37 398.36H352.28V402.38H348.37zM348.37 394.34H352.28V398.36H348.37zM352.28 402.38H356.20V406.40H352.28zM352.28 398.36H356.20V402.38H352.28zM356.20 402.38H360.11V406.40H356.20zM360.11 406.40H364.02V410.42H360.11zM364.02 414.44H367.93V418.46H364.02zM364.02 410.42H367.93V414.44H364.02zM367.93 418.46H371.84V422.48H367.93zM367.93 414.44H371.84V418.46H367.93zM371.84 426.50H375.76V430.52H371.84zM371.84 422.48H375.76V426.50H371.84zM371.84 418.46H375.76V422.48H371.84zM375.76 434.54H379.67V438.56H375.76zM375.76 430.52H379.67V434.54H375.76zM375.76 426.50H379.67V430.52H375.76zM379.67 442.58H383.58V446.60H379.67zM379.67 438.56H383.58V442.58H379.67zM379.67 434.54H383.58V438.56H379.67zM383.58 462.68H387.49V466.70H383.58zM383.58 458.66H387.49V462.68H383.58zM383.58 454.64H387.49V458.66H383.58zM383.58 450.62H387.49V454.64H383.58zM383.58 446.60H387.49V450.62H383.58zM387.49 478.76H391.40V482.78H387.49zM387.49 474.74H391.40V478.76H387.49zM387.49 470.72H391.40V474.74H387.49zM387.49 466.70H391.40V470.72H387.49zM387.49 462.68H391.40V466.70H387.49z"/>
<path fill="#a4c5ef" d="M328.81 382.28H332.72V386.30H328.81zM328.81 378.26H332.72V382.28H328.81zM328.81 374.24H332.72V378.26H328.81zM332.72 382.28H336.64V386.30H332.72zM332.72 378.26H336.64V382.28H332.72zM336.64 386.30H340.55V390.32H336.64zM344.46 390.32H348.37V394.34H344.46zM352.28 394.34H356.20V398.36H352.28zM356.20 398.36H360.11V402.38H356.20zM360.11 402.38H364.02V406.40H360.11zM364.02 406.40H367.93V410.42H364.02zM367.93 410.42H371.84V414.44H367.93zM371.84 414.44H375.76V418.46H371.84zM375.76 482.78H379.67V486.80H375.76zM375.76 422.48H379.67V426.50H375.76zM375.76 418.46H379.67V422.48H375.76zM379.67 430.52H383.58V434.54H379.67zM379.67 426.50H383.58V430.52H379.67zM383.58 442.58H387.49V446.60H383.58zM383.58 438.56H387.49V442.58H383.58zM383.58 434.54H387.49V438.56H383.58zM383.58 430.52H387.49V434.54H383.58zM387.49 458.66H391.40V462.68H387.49zM387.49 454.64H391.40V458.66H387.49zM387.49 450.62H391.40V454.64H387.49zM387.49 446.60H391.40V450.62H387.49zM387.49 442.58H391.40V446.60H387.49zM387.49 438.56H391.40V442.58H387.49zM391.40 478.76H395.32V482.78H391.40zM391.40 474.74H395.32V478.76H391.40zM391.40 470.72H395.32V474.74H391.40zM391.40 466.70H395.32V470.72H391.40zM391.40 462.68H395.32V466.70H391.40zM391.40 458.66H395.32V462.68H391.40zM391.40 454.64H395.32V458.66H391.40zM391.40 450.62H395.32V454.64H391.40zM391.40 446.60H395.32V450.62H391.40zM395.32 478.76H399.23V482.78H395.32zM395.32 474.74H399.23V478.76H395.32zM395.32 470.72H399.23V474.74H395.32zM395.32 466.70H399.23V470.72H395.32z"/>
<path fill="#a5c6ef" d="M328.81 370.22H332.72V374.24H328.81zM328.81 366.20H332.72V370.22H328.81zM328.81 362.18H332.72V366.20H328.81zM332.72 374.24H336.64V378.26H332.72zM332.72 370.22H336.64V374.24H332.72zM332.72 366.20H336.64V370.22H332.72zM332.72 362.18H336.64V366.20H332.72zM336.64 382.28H340.55V386.30H336.64zM340.55 386.30H344.46V390.32H340.55zM340.55 382.28H344.46V386.30H340.55zM344.46 386.30H348.37V390.32H344.46zM348.37 390.32H352.28V394.34H348.37zM352.28 390.32H356.20V394.34H352.28zM356.20 394.34H360.11V398.36H356.20zM360.11 398.36H364.02V402.38H360.11zM364.02 402.38H367.93V406.40H364.02zM367.93 406.40H371.84V410.42H367.93zM371.84 410.42H375.76V414.44H371.84zM375.76 414.44H379.67V418.46H375.76zM379.67 422.48H383.58V426.50H379.67zM379.67 418.46H383.58V422.48H379.67zM383.58 426.50H387.49V430.52H383.58zM387.49 434.54H391.40V438.56H387.49zM387.49 430.52H391.40V434.54H387.49zM391.40 442.58H395.32V446.60H391.40zM391.40 438.56H395.32V442.58H391.40zM395.32 462.68H399.23V466.70H395.32zM395.32 458.66H399.23V462.68H395.32zM395.32 454.64H399.23V458.66H395.32zM395.32 450.62H399.23V454.64H395.32zM395.32 446.60H399.23V450.62H395.32zM399.23 478.76H403.14V482.78H399.23zM399.23 474.74H403.14V478.76H399.23zM399.23 470.72H403.14V474.74H399.23zM399.23 466.70H403.14V470.72H399.23zM399.23 462.68H403.14V466.70H399.23zM399.23 458.66H403.14V462.68H399.23zM399.23 454.64H403.14V458.66H399.23zM403.14 478.76H407.05V482.78H403.14zM403.14 474.74H407.05V478.76H403.14zM403.14 466.70H407.05V470.72H403.14zM403.14 462.68H407.05V466.70H403.14zM403.14 458.66H407.05V462.68H403.14zM407.05 478.76H410.96V482.78H407.05zM407.05 474.74H410.96V478.76H407.05zM407.05 466.70H410.96V470.72H407.05z"/>
<path fill="#a6c6ef" d="M328.81 358.16H332.72V362.18H328.81zM328.81 354.14H332.72V358.16H328.81zM332.72 358.16H336.64V362.18H332.72zM336.64 378.26H340.55V382.28H336.64zM340.55 378.26H344.46V382.28H340.55zM344.46 382.28H348.37V386.30H344.46zM348.37 386.30H352.28V390.32H348.37zM348.37 382.28H352.28V386.30H348.37zM352.28 386.30H356.20V390.32H352.28zM356.20 390.32H360.11V394.34H356.20zM360.11 394.34H364.02V398.36H360.11zM364.02 398.36H367.93V402.38H364.02zM364.02 394.34H367.93V398.36H364.02zM367.93 402.38H371.84V406.40H367.93zM367.93 398.36H371.84V402.38H367.93zM371.84 406.40H375.76V410.42H371.84zM371.84 402.38H375.76V406.40H371.84zM375.76 410.42H379.67V414.44H375.76zM379.67 482.78H383.58V486.80H379.67zM379.67 414.44H383.58V418.46H379.67zM383.58 422.48H387.49V426.50H383.58zM383.58 418.46H387.49V422.48H383.58zM387.49 426.50H391.40V430.52H387.49zM391.40 434.54H395.32V438.56H391.40zM391.40 430.52H395.32V434.54H391.40zM395.32 442.58H399.23V446.60H395.32zM395.32 438.56H399.23V442.58H395.32zM399.23 450.62H403.14V454.64H399.23zM399.23 446.60H403.14V450.62H399.23zM399.23 442.58H403.14V446.60H399.23zM403.14 454.64H407.05V458.66H403.14zM403.14 450.62H407.05V454.64H403.14zM407.05 462.68H410.96V466.70H407.05zM407.05 458.66H410.96V462.68H407.05zM410.96 478.76H414.88V482.78H410.96zM410.96 474.74H414.88V478.76H410.96zM410.96 470.72H414.88V474.74H410.96z"/>
<path fill="#a7c7ef" d="M328.81 350.12H332.72V354.14H328.81zM332.72 354.14H336.64V358.16H332.72zM332.72 350.12H336.64V354.14H332.72zM336.64 374.24H340.55V378.26H336.64zM340.55 374.24H344.46V378.26H340.55zM344.46 378.26H348.37V382.28H344.46zM348.37 378.26H352.28V382.28H348.37zM352.28 382.28H356.20V386.30H352.28zM356.20 386.30H360.11V390.32H356.20zM360.11 390.32H364.02V394.34H360.11zM360.11 386.30H364.02V390.32H360.11zM364.02 390.32H367.93V394.34H364.02zM367.93 394.34H371.84V398.36H367.93zM371.84 398.36H375.76V402.38H371.84zM375.76 406.40H379.67V410.42H375.76zM375.76 402.38H379.67V406.40H375.76zM379.67 410.42H383.58V414.44H379.67zM379.67 406.40H383.58V410.42H379.67zM383.58 482.78H387.49V486.80H383.58zM383.58 414.44H387.49V418.46H383.58zM387.49 482.78H391.40V486.80H387.49zM387.49 422.48H391.40V426.50H387.49zM387.49 418.46H391.40V422.48H387.49zM391.40 426.50H395.32V430.52H391.40zM391.40 422.48H395.32V426.50H391.40zM395.32 434.54H399.23V438.56H395.32zM395.32 430.52H399.23V434.54H395.32zM399.23 438.56H403.14V442.58H399.23zM399.23 434.54H403.14V438.56H399.23zM403.14 446.60H407.05V450.62H403.14zM403.14 442.58H407.05V446.60H403.14zM407.05 454.64H410.96V458.66H407.05zM407.05 450.62H410.96V454.64H407.05zM410.96 466.70H414.88V470.72H410.96zM410.96 462.68H414.88V466.70H410.96zM410.96 458.66H414.88V462.68H410.96zM414.88 478.76H418.79V482.78H414.88zM414.88 474.74H418.79V478.76H414.88zM414.88 470.72H418.79V474.74H414.88zM414.88 466.70H418.79V470.72H414.88zM418.79 478.76H422.70V482.78H418.79z"/>
<path fill="#a8c7ee" d="M328.81 346.10H332.72V350.12H328.81zM328.81 342.08H332.72V346.10H328.81zM332.72 346.10H336.64V350.12H332.72zM332.72 342.08H336.64V346.10H332.72zM336.64 370.22H340.55V374.24H336.64zM340.55 370.22H344.46V374.24H340.55zM344.46 374.24H348.37V378.26H344.46zM344.46 370.22H348.37V374.24H344.46zM348.37 374.24H352.28V378.26H348.37zM352.28 378.26H356.20V382.28H352.28zM356.20 382.28H360.11V386.30H356.20zM356.20 378.26H360.11V382.28H356.20zM360.11 382.28H364.02V386.30H360.11zM364.02 386.30H367.93V390.32H364.02zM367.93 390.32H371.84V394.34H367.93zM371.84 394.34H375.76V398.36H371.84zM379.67 402.38H383.58V406.40H379.67zM383.58 410.42H387.49V414.44H383.58zM383.58 406.40H387.49V410.42H383.58zM387.49 414.44H391.40V418.46H387.49zM387.49 410.42H391.40V414.44H387.49zM391.40 482.78H395.32V486.80H391.40zM391.40 418.46H395.32V422.48H391.40zM395.32 482.78H399.23V486.80H395.32zM395.32 426.50H399.23V430.52H395.32zM399.23 430.52H403.14V434.54H399.23zM399.23 426.50H403.14V430.52H399.23zM403.14 438.56H407.05V442.58H403.14zM403.14 434.54H407.05V438.56H403.14zM407.05 446.60H410.96V450.62H407.05zM407.05 442.58H410.96V446.60H407.05zM407.05 438.56H410.96V442.58H407.05zM410.96 454.64H414.88V458.66H410.96zM410.96 450.62H414.88V454.64H410.96zM410.96 446.60H414.88V450.62H410.96zM414.88 462.68H418.79V466.70H414.88zM414.88 458.66H418.79V462.68H414.88zM414.88 454.64H418.79V458.66H414.88zM418.79 474.74H422.70V478.76H418.79zM418.79 470.72H422.70V474.74H418.79zM418.79 466.70H422.70V470.72H418.79zM418.79 462.68H422.70V466.70H418.79zM422.70 478.76H426.61V482.78H422.70zM422.70 474.74H426.61V478.76H422.70z"/>
<path fill="#a9c8ee" d="M328.81 338.06H332.72V342.08H328.81zM328.81 334.04H332.72V338.06H328.81zM332.72 338.06H336.64V342.08H332.72zM332.72 334.04H336.64V338.06H332.72zM332.72 330.02H336.64V334.04H332.72zM336.64 362.18H340.55V366.20H336.64zM336.64 358.16H340.55V362.18H336.64zM340.55 366.20H344.46V370.22H340.55zM340.55 362.18H344.46V366.20H340.55zM340.55 358.16H344.46V362.18H340.55zM344.46 366.20H348.37V370.22H344.46zM344.46 362.18H348.37V366.20H344.46zM348.37 370.22H352.28V374.24H348.37zM348.37 366.20H352.28V370.22H348.37zM352.28 370.22H356.20V374.24H352.28zM352.28 366.20H356.20V370.22H352.28zM356.20 374.24H360.11V378.26H356.20zM356.20 370.22H360.11V374.24H356.20zM360.11 378.26H364.02V382.28H360.11zM364.02 382.28H367.93V386.30H364.02zM364.02 378.26H367.93V382.28H364.02zM364.02 374.24H367.93V378.26H364.02zM367.93 386.30H371.84V390.32H367.93zM367.93 382.28H371.84V386.30H367.93zM367.93 378.26H371.84V382.28H367.93zM371.84 390.32H375.76V394.34H371.84zM371.84 386.30H375.76V390.32H371.84zM371.84 382.28H375.76V386.30H371.84zM375.76 394.34H379.67V398.36H375.76zM375.76 390.32H379.67V394.34H375.76zM375.76 386.30H379.67V390.32H375.76zM379.67 398.36H383.58V402.38H379.67zM379.67 394.34H383.58V398.36H379.67zM379.67 390.32H383.58V394.34H379.67zM383.58 402.38H387.49V406.40H383.58zM383.58 398.36H387.49V402.38H383.58zM383.58 394.34H387.49V398.36H383.58zM387.49 406.40H391.40V410.42H387.49zM387.49 402.38H391.40V406.40H387.49zM387.49 398.36H391.40V402.38H387.49zM391.40 410.42H395.32V414.44H391.40zM391.40 402.38H395.32V406.40H391.40zM395.32 418.46H399.23V422.48H395.32zM395.32 414.44H399.23V418.46H395.32zM395.32 410.42H399.23V414.44H395.32zM395.32 406.40H399.23V410.42H395.32zM399.23 482.78H403.14V486.80H399.23zM399.23 422.48H403.14V426.50H399.23zM399.23 418.46H403.14V422.48H399.23zM403.14 482.78H407.05V486.80H403.14zM403.14 430.52H407.05V434.54H403.14zM403.14 426.50H407.05V430.52H403.14zM403.14 422.48H407.05V426.50H403.14zM403.14 418.46H407.05V422.48H403.14zM407.05 482.78H410.96V486.80H407.05zM407.05 434.54H410.96V438.56H407.05zM407.05 426.50H410.96V430.52H407.05zM407.05 422.48H410.96V426.50H407.05zM410.96 442.58H414.88V446.60H410.96zM410.96 434.54H414.88V438.56H410.96zM410.96 430.52H414.88V434.54H410.96zM414.88 450.62H418.79V454.64H414.88zM414.88 442.58H418.79V446.60H414.88zM414.88 438.56H418.79V442.58H414.88zM418.79 458.66H422.70V462.68H418.79zM418.79 454.64H422.70V458.66H418.79zM418.79 446.60H422.70V450.62H418.79zM418.79 442.58H422.70V446.60H418.79zM422.70 470.72H426.61V474.74H422.70zM422.70 466.70H426.61V470.72H422.70zM422.70 462.68H426.61V466.70H422.70zM422.70 458.66H426.61V462.68H422.70zM422.70 454.64H426.61V458.66H422.70zM422.70 450.62H426.61V454.64H422.70zM426.61 478.76H430.52V482.78H426.61zM426.61 474.74H430.52V478.76H426.61zM426.61 470.72H430.52V474.74H426.61zM426.61 462.68H430.52V466.70H426.61zM430.52 474.74H434.44V478.76H430.52zM430.52 470.72H434.44V474.74H430.52zM430.52 466.70H434.44V470.72H430.52zM434.44 478.76H438.35V482.78H434.44z"/>
<path fill="#aac8ee" d="M328.81 330.02H332.72V334.04H328.81zM332.72 326.00H336.64V330.02H332.72zM332.72 321.98H336.64V326.00H332.72zM332.72 317.96H336.64V321.98H332.72zM332.72 313.94H336.64V317.96H332.72zM336.64 354.14H340.55V358.16H336.64zM336.64 350.12H340.55V354.14H336.64zM336.64 346.10H340.55V350.12H336.64zM340.55 354.14H344.46V358.16H340.55zM340.55 346.10H344.46V350.12H340.55zM344.46 358.16H348.37V362.18H344.46zM344.46 354.14H348.37V358.16H344.46zM344.46 350.12H348.37V354.14H344.46zM348.37 358.16H352.28V362.18H348.37zM348.37 354.14H352.28V358.16H348.37zM352.28 362.18H356.20V366.20H352.28zM352.28 358.16H356.20V362.18H352.28zM356.20 366.20H360.11V370.22H356.20zM356.20 362.18H360.11V366.20H356.20zM356.20 358.16H360.11V362.18H356.20zM360.11 366.20H364.02V370.22H360.11zM360.11 362.18H364.02V366.20H360.11zM364.02 370.22H367.93V374.24H364.02zM364.02 366.20H367.93V370.22H364.02zM364.02 362.18H367.93V366.20H364.02zM367.93 374.24H371.84V378.26H367.93zM367.93 370.22H371.84V374.24H367.93zM371.84 378.26H375.76V382.28H371.84zM371.84 374.24H375.76V378.26H371.84zM371.84 370.22H375.76V374.24H371.84zM375.76 382.28H379.67V386.30H375.76zM375.76 378.26H379.67V382.28H375.76zM375.76 374.24H379.67V378.26H375.76zM379.67 386.30H383.58V390.32H379.67zM379.67 382.28H383.58V386.30H379.67zM379.67 378.26H383.58V382.28H379.67zM383.58 382.28H387.49V386.30H383.58zM387.49 394.34H391.40V398.36H387.49zM387.49 386.30H391.40V390.32H387.49zM391.40 394.34H395.32V398.36H391.40zM391.40 390.32H395.32V394.34H391.40zM395.32 402.38H399.23V406.40H395.32zM399.23 410.42H403.14V414.44H399.23zM399.23 406.40H403.14V410.42H399.23zM399.23 402.38H403.14V406.40H399.23zM399.23 398.36H403.14V402.38H399.23zM403.14 414.44H407.05V418.46H403.14zM403.14 410.42H407.05V414.44H403.14zM403.14 402.38H407.05V406.40H403.14zM407.05 418.46H410.96V422.48H407.05zM407.05 414.44H410.96V418.46H407.05zM407.05 410.42H410.96V414.44H407.05zM410.96 426.50H414.88V430.52H410.96zM410.96 418.46H414.88V422.48H410.96zM410.96 414.44H414.88V418.46H410.96zM414.88 482.78H418.79V486.80H414.88zM414.88 430.52H418.79V434.54H414.88zM414.88 426.50H418.79V430.52H414.88zM414.88 422.48H418.79V426.50H414.88zM414.88 418.46H418.79V422.48H414.88zM418.79 438.56H422.70V442.58H418.79zM418.79 434.54H422.70V438.56H418.79zM418.79 430.52H422.70V434.54H418.79zM418.79 426.50H422.70V430.52H418.79zM422.70 446.60H426.61V450.62H422.70zM422.70 442.58H426.61V446.60H422.70zM422.70 430.52H426.61V434.54H422.70zM426.61 466.70H430.52V470.72H426.61zM426.61 454.64H430.52V458.66H426.61zM426.61 450.62H430.52V454.64H426.61zM426.61 438.56H430.52V442.58H426.61zM430.52 462.68H434.44V466.70H430.52zM430.52 458.66H434.44V462.68H430.52zM430.52 454.64H434.44V458.66H430.52zM434.44 474.74H438.35V478.76H434.44zM434.44 470.72H438.35V474.74H434.44zM434.44 466.70H438.35V470.72H434.44zM434.44 462.68H438.35V466.70H434.44zM434.44 458.66H438.35V462.68H434.44zM438.35 474.74H442.26V478.76H438.35zM438.35 462.68H442.26V466.70H438.35zM442.26 474.74H446.17V478.76H442.26zM442.26 470.72H446.17V474.74H442.26z"/>
<path fill="#3180bd" d="M332.72 482.78H336.64V486.80H332.72z"/>
<path fill="#3870a2" d="M332.72 478.76H336.64V482.78H332.72zM332.72 474.74H336.64V478.76H332.72z"/>
<path fill="#327eb9" d="M332.72 470.72H336.64V474.74H332.72z"/>
<path fill="#2b8cd1" d="M332.72 466.70H336.64V470.72H332.72z"/>
<path fill="#2a97e3" d="M332.72 462.68H336.64V466.70H332.72z"/>
<path fill="#2fa0f0" d="M332.72 458.66H336.64V462.68H332.72zM336.64 462.68H340.55V466.70H336.64z"/>
<path fill="#3ca7f7" d="M332.72 454.64H336.64V458.66H332.72z"/>
<path fill="#58adf6" d="M332.72 450.62H336.64V454.64H332.72z"/>
<path fill="#6ab1f5" d="M332.72 446.60H336.64V450.62H332.72z"/>
<path fill="#77b5f4" d="M332.72 442.58H336.64V446.60H332.72z"/>
<path fill="#81b8f3" d="M332.72 438.56H336.64V442.58H332.72zM348.37 454.64H352.28V458.66H348.37zM352.28 466.70H356.20V470.72H352.28z"/>
<path fill="#88bbf2" d="M332.72 434.54H336.64V438.56H332.72zM340.55 438.56H344.46V442.58H340.55zM344.46 442.58H348.37V446.60H344.46z"/>
<path fill="#8ebdf1" d="M332.72 430.52H336.64V434.54H332.72zM340.55 434.54H344.46V438.56H340.55zM348.37 442.58H352.28V446.60H348.37zM356.20 458.66H360.11V462.68H356.20z"/>
<path fill="#93bef1" d="M332.72 426.50H336.64V430.52H332.72zM352.28 442.58H356.20V446.60H352.28zM356.20 450.62H360.11V454.64H356.20zM360.11 462.68H364.02V466.70H360.11z"/>
<path fill="#96c0f0" d="M332.72 422.48H336.64V426.50H332.72zM340.55 426.50H344.46V430.52H340.55zM360.11 482.78H364.02V486.80H360.11zM360.11 454.64H364.02V458.66H360.11zM364.02 478.76H367.93V482.78H364.02zM364.02 474.74H367.93V478.76H364.02zM364.02 470.72H367.93V474.74H364.02z"/>
<path fill="#99c1f0" d="M332.72 418.46H336.64V422.48H332.72zM348.37 426.50H352.28V430.52H348.37zM352.28 430.52H356.20V434.54H352.28zM364.02 454.64H367.93V458.66H364.02z"/>
<path fill="#9cc2f0" d="M332.72 414.44H336.64V418.46H332.72zM348.37 422.48H352.28V426.50H348.37zM352.28 426.50H356.20V430.52H352.28zM356.20 430.52H360.11V434.54H356.20zM360.11 438.56H364.02V442.58H360.11zM364.02 482.78H367.93V486.80H364.02zM364.02 446.60H367.93V450.62H364.02zM367.93 462.68H371.84V466.70H367.93zM367.93 458.66H371.84V462.68H367.93z"/>
<path fill="#9ec3f0" d="M332.72 410.42H336.64V414.44H332.72zM336.64 410.42H340.55V414.44H336.64zM344.46 414.44H348.37V418.46H344.46zM348.37 418.46H352.28V422.48H348.37zM352.28 422.48H356.20V426.50H352.28zM356.20 426.50H360.11V430.52H356.20zM360.11 430.52H364.02V434.54H360.11zM364.02 438.56H367.93V442.58H364.02zM367.93 450.62H371.84V454.64H367.93zM367.93 446.60H371.84V450.62H367.93zM371.84 478.76H375.76V482.78H371.84zM371.84 474.74H375.76V478.76H371.84zM371.84 470.72H375.76V474.74H371.84zM371.84 466.70H375.76V470.72H371.84zM371.84 462.68H375.76V466.70H371.84z"/>
<path fill="#2a95e0" d="M336.64 482.78H340.55V486.80H336.64z"/>
<path fill="#2b8ed5" d="M336.64 478.76H340.55V482.78H336.64zM336.64 474.74H340.55V478.76H336.64z"/>
<path fill="#2a93dc" d="M336.64 470.72H340.55V474.74H336.64z"/>
<path fill="#2b99e6" d="M336.64 466.70H340.55V470.72H336.64z"/>
<path fill="#36a6f7" d="M336.64 458.66H340.55V462.68H336.64z"/>
<path fill="#52abf6" d="M336.64 454.64H340.55V458.66H336.64zM344.46 470.72H348.37V474.74H344.46z"/>
<path fill="#64aff5" d="M336.64 450.62H340.55V454.64H336.64z"/>
<path fill="#72b3f4" d="M336.64 446.60H340.55V450.62H336.64zM348.37 466.70H352.28V470.72H348.37z"/>
<path fill="#7db7f3" d="M336.64 442.58H340.55V446.60H336.64z"/>
<path fill="#84b9f2" d="M336.64 438.56H340.55V442.58H336.64zM352.28 482.78H356.20V486.80H352.28z"/>
<path fill="#8abbf2" d="M336.64 434.54H340.55V438.56H336.64zM356.20 466.70H360.11V470.72H356.20z"/>
<path fill="#8fbdf1" d="M336.64 430.52H340.55V434.54H336.64zM352.28 446.60H356.20V450.62H352.28zM356.20 482.78H360.11V486.80H356.20z"/>
<path fill="#94bff1" d="M336.64 426.50H340.55V430.52H336.64zM360.11 458.66H364.02V462.68H360.11z"/>
<path fill="#97c0f0" d="M336.64 422.48H340.55V426.50H336.64zM344.46 426.50H348.37V430.52H344.46zM348.37 430.52H352.28V434.54H348.37zM352.28 434.54H356.20V438.56H352.28zM356.20 442.58H360.11V446.60H356.20zM360.11 450.62H364.02V454.64H360.11zM364.02 466.70H367.93V470.72H364.02z"/>
<path fill="#abc8ee" d="M336.64 342.08H340.55V346.10H336.64zM336.64 334.04H340.55V338.06H336.64zM336.64 330.02H340.55V334.04H336.64zM336.64 321.98H340.55V326.00H336.64zM340.55 342.08H344.46V346.10H340.55zM340.55 338.06H344.46V342.08H340.55zM340.55 330.02H344.46V334.04H340.55zM344.46 342.08H348.37V346.10H344.46zM344.46 334.04H348.37V338.06H344.46zM344.46 326.00H348.37V330.02H344.46zM348.37 350.12H352.28V354.14H348.37zM348.37 346.10H352.28V350.12H348.37zM348.37 342.08H352.28V346.10H348.37zM348.37 338.06H352.28V342.08H348.37zM352.28 350.12H356.20V354.14H352.28zM352.28 342.08H356.20V346.10H352.28zM352.28 338.06H356.20V342.08H352.28zM352.28 334.04H356.20V338.06H352.28zM352.28 330.02H356.20V334.04H352.28zM356.20 354.14H360.11V358.16H356.20zM356.20 350.12H360.11V354.14H356.20zM356.20 346.10H360.11V350.12H356.20zM356.20 342.08H360.11V346.10H356.20zM356.20 338.06H360.11V342.08H356.20zM360.11 354.14H364.02V358.16H360.11zM360.11 350.12H364.02V354.14H360.11zM360.11 334.04H364.02V338.06H360.11zM364.02 358.16H367.93V362.18H364.02zM364.02 354.14H367.93V358.16H364.02zM364.02 346.10H367.93V350.12H364.02zM364.02 342.08H367.93V346.10H364.02zM364.02 338.06H367.93V342.08H364.02zM367.93 362.18H371.84V366.20H367.93zM371.84 366.20H375.76V370.22H371.84zM371.84 362.18H375.76V366.20H371.84zM371.84 354.14H375.76V358.16H371.84zM375.76 366.20H379.67V370.22H375.76zM375.76 362.18H379.67V366.20H375.76zM375.76 358.16H379.67V362.18H375.76zM375.76 350.12H379.67V354.14H375.76zM375.76 346.10H379.67V350.12H375.76zM379.67 374.24H383.58V378.26H379.67zM379.67 362.18H383.58V366.20H379.67zM379.67 354.14H383.58V358.16H379.67zM379.67 350.12H383.58V354.14H379.67zM383.58 374.24H387.49V378.26H383.58zM383.58 370.22H387.49V374.24H383.58zM383.58 354.14H387.49V358.16H383.58zM387.49 382.28H391.40V386.30H387.49zM387.49 378.26H391.40V382.28H387.49zM387.49 374.24H391.40V378.26H387.49zM387.49 370.22H391.40V374.24H387.49zM387.49 366.20H391.40V370.22H387.49zM391.40 382.28H395.32V386.30H391.40zM391.40 370.22H395.32V374.24H391.40zM391.40 366.20H395.32V370.22H391.40zM395.32 390.32H399.23V394.34H395.32zM395.32 382.28H399.23V386.30H395.32zM395.32 378.26H399.23V382.28H395.32zM395.32 374.24H399.23V378.26H395.32zM399.23 394.34H403.14V398.36H399.23zM399.23 390.32H403.14V394.34H399.23zM399.23 382.28H403.14V386.30H399.23zM403.14 390.32H407.05V394.34H403.14zM403.14 382.28H407.05V386.30H403.14zM403.14 378.26H407.05V382.28H403.14zM403.14 374.24H407.05V378.26H403.14zM407.05 406.40H410.96V410.42H407.05zM407.05 402.38H410.96V406.40H407.05zM407.05 398.36H410.96V402.38H407.05zM407.05 394.34H410.96V398.36H407.05zM407.05 390.32H410.96V394.34H407.05zM407.05 378.26H410.96V382.28H407.05zM410.96 410.42H414.88V414.44H410.96zM410.96 406.40H414.88V410.42H410.96zM410.96 398.36H414.88V402.38H410.96zM410.96 394.34H414.88V398.36H410.96zM410.96 390.32H414.88V394.34H410.96zM410.96 386.30H414.88V390.32H410.96zM414.88 414.44H418.79V418.46H414.88zM414.88 410.42H418.79V414.44H414.88zM414.88 402.38H418.79V406.40H414.88zM414.88 398.36H418.79V402.38H414.88zM414.88 394.34H418.79V398.36H414.88zM414.88 390.32H418.79V394.34H414.88zM414.88 386.30H418.79V390.32H414.88zM418.79 422.48H422.70V426.50H418.79zM418.79 410.42H422.70V414.44H418.79zM418.79 394.34H422.70V398.36H418.79zM422.70 426.50H426.61V430.52H422.70zM422.70 414.44H426.61V418.46H422.70zM422.70 410.42H426.61V414.44H422.70zM422.70 402.38H426.61V406.40H422.70zM422.70 398.36H426.61V402.38H422.70zM426.61 434.54H430.52V438.56H426.61zM426.61 426.50H430.52V430.52H426.61zM426.61 422.48H430.52V426.50H426.61zM426.61 418.46H430.52V422.48H426.61zM426.61 410.42H430.52V414.44H426.61zM426.61 402.38H430.52V406.40H426.61zM430.52 438.56H434.44V442.58H430.52zM430.52 434.54H434.44V438.56H430.52zM430.52 422.48H434.44V426.50H430.52zM430.52 414.44H434.44V418.46H430.52zM434.44 446.60H438.35V450.62H434.44zM434.44 442.58H438.35V446.60H434.44zM434.44 438.56H438.35V442.58H434.44zM434.44 434.54H438.35V438.56H434.44zM434.44 422.48H438.35V426.50H434.44zM438.35 458.66H442.26V462.68H438.35zM438.35 450.62H442.26V454.64H438.35zM438.35 446.60H442.26V450.62H438.35zM438.35 438.56H442.26V442.58H438.35zM438.35 430.52H442.26V434.54H438.35zM438.35 418.46H442.26V422.48H438.35zM442.26 462.68H446.17V466.70H442.26zM442.26 458.66H446.17V462.68H442.26zM442.26 450.62H446.17V454.64H442.26zM442.26 446.60H446.17V450.62H442.26zM442.26 442.58H446.17V446.60H442.26zM442.26 438.56H446.17V442.58H442.26zM446.17 454.64H450.08V458.66H446.17zM446.17 442.58H450.08V446.60H446.17zM446.17 438.56H450.08V442.58H446.17zM446.17 434.54H450.08V438.56H446.17zM450.08 470.72H454.00V474.74H450.08zM450.08 466.70H454.00V470.72H450.08zM450.08 462.68H454.00V466.70H450.08zM450.08 454.64H454.00V458.66H450.08zM454.00 470.72H457.91V474.74H454.00zM454.00 466.70H457.91V470.72H454.00zM454.00 462.68H457.91V466.70H454.00zM454.00 458.66H457.91V462.68H454.00zM454.00 454.64H457.91V458.66H454.00zM454.00 446.60H457.91V450.62H454.00zM457.91 462.68H461.82V466.70H457.91zM457.91 454.64H461.82V458.66H457.91z"/>
<path fill="#acc9ee" d="M336.64 317.96H340.55V321.98H336.64zM336.64 313.94H340.55V317.96H336.64zM340.55 305.90H344.46V309.92H340.55zM340.55 293.84H344.46V297.86H340.55zM344.46 317.96H348.37V321.98H344.46zM344.46 309.92H348.37V313.94H344.46zM344.46 297.86H348.37V301.88H344.46zM348.37 285.80H352.28V289.82H348.37zM352.28 326.00H356.20V330.02H352.28zM352.28 321.98H356.20V326.00H352.28zM352.28 317.96H356.20V321.98H352.28zM352.28 309.92H356.20V313.94H352.28zM352.28 305.90H356.20V309.92H352.28zM352.28 297.86H356.20V301.88H352.28zM352.28 293.84H356.20V297.86H352.28zM352.28 285.80H356.20V289.82H352.28zM356.20 305.90H360.11V309.92H356.20zM356.20 293.84H360.11V297.86H356.20zM356.20 289.82H360.11V293.84H356.20zM356.20 285.80H360.11V289.82H356.20zM360.11 330.02H364.02V334.04H360.11zM360.11 326.00H364.02V330.02H360.11zM360.11 309.92H364.02V313.94H360.11zM360.11 301.88H364.02V305.90H360.11zM360.11 285.80H364.02V289.82H360.11zM364.02 330.02H367.93V334.04H364.02zM364.02 326.00H367.93V330.02H364.02zM364.02 317.96H367.93V321.98H364.02zM364.02 313.94H367.93V317.96H364.02zM364.02 305.90H367.93V309.92H364.02zM364.02 289.82H367.93V293.84H364.02zM367.93 338.06H371.84V342.08H367.93zM367.93 334.04H371.84V338.06H367.93zM367.93 321.98H371.84V326.00H367.93zM367.93 317.96H371.84V321.98H367.93zM367.93 293.84H371.84V297.86H367.93zM371.84 301.88H375.76V305.90H371.84zM371.84 285.80H375.76V289.82H371.84zM375.76 338.06H379.67V342.08H375.76zM375.76 330.02H379.67V334.04H375.76zM375.76 293.84H379.67V297.86H375.76zM379.67 342.08H383.58V346.10H379.67zM379.67 289.82H383.58V293.84H379.67zM379.67 285.80H383.58V289.82H379.67zM383.58 330.02H387.49V334.04H383.58zM383.58 326.00H387.49V330.02H383.58zM383.58 321.98H387.49V326.00H383.58zM383.58 317.96H387.49V321.98H383.58zM383.58 309.92H387.49V313.94H383.58zM387.49 354.14H391.40V358.16H387.49zM387.49 350.12H391.40V354.14H387.49zM387.49 342.08H391.40V346.10H387.49zM387.49 330.02H391.40V334.04H387.49zM387.49 301.88H391.40V305.90H387.49zM387.49 293.84H391.40V297.86H387.49zM391.40 358.16H395.32V362.18H391.40zM391.40 342.08H395.32V346.10H391.40zM391.40 326.00H395.32V330.02H391.40zM391.40 293.84H395.32V297.86H391.40zM391.40 289.82H395.32V293.84H391.40zM391.40 285.80H395.32V289.82H391.40zM395.32 362.18H399.23V366.20H395.32zM395.32 358.16H399.23V362.18H395.32zM395.32 354.14H399.23V358.16H395.32zM395.32 346.10H399.23V350.12H395.32zM395.32 338.06H399.23V342.08H395.32zM395.32 330.02H399.23V334.04H395.32zM395.32 326.00H399.23V330.02H395.32zM395.32 313.94H399.23V317.96H395.32zM395.32 309.92H399.23V313.94H395.32zM395.32 305.90H399.23V309.92H395.32zM395.32 297.86H399.23V301.88H395.32zM399.23 362.18H403.14V366.20H399.23zM399.23 354.14H403.14V358.16H399.23zM399.23 350.12H403.14V354.14H399.23zM399.23 346.10H403.14V350.12H399.23zM399.23 330.02H403.14V334.04H399.23zM399.23 326.00H403.14V330.02H399.23zM399.23 321.98H403.14V326.00H399.23zM399.23 305.90H403.14V309.92H399.23zM399.23 285.80H403.14V289.82H399.23zM403.14 370.22H407.05V374.24H403.14zM403.14 366.20H407.05V370.22H403.14zM403.14 362.18H407.05V366.20H403.14zM403.14 350.12H407.05V354.14H403.14zM403.14 346.10H407.05V350.12H403.14zM403.14 342.08H407.05V346.10H403.14zM403.14 313.94H407.05V317.96H403.14zM403.14 285.80H407.05V289.82H403.14zM407.05 374.24H410.96V378.26H407.05zM407.05 354.14H410.96V358.16H407.05zM407.05 305.90H410.96V309.92H407.05zM407.05 297.86H410.96V301.88H407.05zM410.96 378.26H414.88V382.28H410.96zM410.96 370.22H414.88V374.24H410.96zM410.96 366.20H414.88V370.22H410.96zM410.96 358.16H414.88V362.18H410.96zM410.96 354.14H414.88V358.16H410.96zM410.96 285.80H414.88V289.82H410.96zM414.88 382.28H418.79V386.30H414.88zM414.88 370.22H418.79V374.24H414.88zM414.88 362.18H418.79V366.20H414.88zM414.88 358.16H418.79V362.18H414.88zM414.88 354.14H418.79V358.16H414.88zM414.88 350.12H418.79V354.14H414.88zM414.88 342.08H418.79V346.10H414.88zM414.88 334.04H418.79V338.06H414.88zM414.88 330.02H418.79V334.04H414.88zM414.88 326.00H418.79V330.02H414.88zM418.79 386.30H422.70V390.32H418.79zM418.79 374.24H422.70V378.26H418.79zM418.79 370.22H422.70V374.24H418.79zM418.79 326.00H422.70V330.02H418.79zM418.79 317.96H422.70V321.98H418.79zM418.79 313.94H422.70V317.96H418.79zM422.70 394.34H426.61V398.36H422.70zM422.70 378.26H426.61V382.28H422.70zM422.70 370.22H426.61V374.24H422.70zM422.70 317.96H426.61V321.98H422.70zM422.70 301.88H426.61V305.90H422.70zM422.70 297.86H426.61V301.88H422.70zM422.70 285.80H426.61V289.82H422.70zM426.61 482.78H430.52V486.80H426.61zM426.61 398.36H430.52V402.38H426.61zM426.61 390.32H430.52V394.34H426.61zM426.61 366.20H430.52V370.22H426.61zM426.61 358.16H430.52V362.18H426.61zM426.61 350.12H430.52V354.14H426.61zM426.61 330.02H430.52V334.04H426.61zM426.61 326.00H430.52V330.02H426.61zM426.61 309.92H430.52V313.94H426.61zM426.61 293.84H430.52V297.86H426.61zM430.52 398.36H434.44V402.38H430.52zM430.52 386.30H434.44V390.32H430.52zM430.52 378.26H434.44V382.28H430.52zM430.52 370.22H434.44V374.24H430.52zM430.52 358.16H434.44V362.18H430.52zM430.52 321.98H434.44V326.00H430.52zM434.44 410.42H438.35V414.44H434.44zM434.44 406.40H438.35V410.42H434.44zM434.44 398.36H438.35V402.38H434.44zM434.44 394.34H438.35V398.36H434.44zM434.44 390.32H438.35V394.34H434.44zM434.44 370.22H438.35V374.24H434.44zM434.44 293.84H438.35V297.86H434.44zM438.35 414.44H442.26V418.46H438.35zM438.35 410.42H442.26V414.44H438.35zM438.35 398.36H442.26V402.38H438.35zM438.35 390.32H442.26V394.34H438.35zM438.35 366.20H442.26V370.22H438.35zM438.35 362.18H442.26V366.20H438.35zM438.35 309.92H442.26V313.94H438.35zM438.35 305.90H442.26V309.92H438.35zM442.26 422.48H446.17V426.50H442.26zM442.26 418.46H446.17V422.48H442.26zM442.26 386.30H446.17V390.32H442.26zM442.26 378.26H446.17V382.28H442.26zM442.26 338.06H446.17V342.08H442.26zM442.26 321.98H446.17V326.00H442.26zM442.26 313.94H446.17V317.96H442.26zM442.26 289.82H446.17V293.84H442.26zM446.17 426.50H450.08V430.52H446.17zM446.17 374.24H450.08V378.26H446.17zM446.17 346.10H450.08V350.12H446.17zM446.17 342.08H450.08V346.10H446.17zM446.17 305.90H450.08V309.92H446.17zM446.17 285.80H450.08V289.82H446.17zM450.08 418.46H454.00V422.48H450.08zM450.08 402.38H454.00V406.40H450.08zM450.08 354.14H454.00V358.16H450.08zM450.08 330.02H454.00V334.04H450.08zM450.08 326.00H454.00V330.02H450.08zM450.08 321.98H454.00V326.00H450.08zM450.08 317.96H454.00V321.98H450.08zM450.08 285.80H454.00V289.82H450.08zM454.00 430.52H457.91V434.54H454.00zM454.00 422.48H457.91V426.50H454.00zM454.00 414.44H457.91V418.46H454.00zM454.00 390.32H457.91V394.34H454.00zM454.00 374.24H457.91V378.26H454.00zM454.00 370.22H457.91V374.24H454.00zM454.00 358.16H457.91V362.18H454.00zM454.00 346.10H457.91V350.12H454.00zM454.00 342.08H457.91V346.10H454.00zM454.00 326.00H457.91V330.02H454.00zM454.00 297.86H457.91V301.88H454.00zM454.00 293.84H457.91V297.86H454.00zM457.91 442.58H461.82V446.60H457.91zM457.91 438.56H461.82V442.58H457.91zM457.91 430.52H461.82V434.54H457.91zM457.91 410.42H461.82V414.44H457.91zM457.91 402.38H461.82V406.40H457.91zM457.91 390.32H461.82V394.34H457.91zM457.91 386.30H461.82V390.32H457.91zM457.91 378.26H461.82V382.28H457.91zM457.91 362.18H461.82V366.20H457.91zM457.91 350.12H461.82V354.14H457.91zM457.91 338.06H461.82V342.08H457.91zM457.91 330.02H461.82V334.04H457.91zM457.91 326.00H461.82V330.02H457.91zM457.91 301.88H461.82V305.90H457.91zM461.82 458.66H465.73V462.68H461.82zM461.82 434.54H465.73V438.56H461.82zM461.82 422.48H465.73V426.50H461.82zM461.82 414.44H465.73V418.46H461.82zM461.82 398.36H465.73V402.38H461.82zM461.82 386.30H465.73V390.32H461.82zM461.82 382.28H465.73V386.30H461.82zM461.82 378.26H465.73V382.28H461.82zM461.82 370.22H465.73V374.24H461.82zM461.82 346.10H465.73V350.12H461.82zM461.82 285.80H465.73V289.82H461.82zM465.73 462.68H469.64V466.70H465.73zM465.73 458.66H469.64V462.68H465.73zM465.73 446.60H469.64V450.62H465.73zM465.73 426.50H469.64V430.52H465.73zM465.73 410.42H469.64V414.44H465.73zM465.73 402.38H469.64V406.40H465.73zM465.73 390.32H469.64V394.34H465.73zM465.73 350.12H469.64V354.14H465.73zM465.73 305.90H469.64V309.92H465.73zM469.64 466.70H473.56V470.72H469.64zM469.64 462.68H473.56V466.70H469.64zM469.64 454.64H473.56V458.66H469.64zM469.64 446.60H473.56V450.62H469.64zM469.64 442.58H473.56V446.60H469.64zM469.64 402.38H473.56V406.40H469.64zM469.64 374.24H473.56V378.26H469.64zM469.64 362.18H473.56V366.20H469.64zM469.64 358.16H473.56V362.18H469.64zM469.64 346.10H473.56V350.12H469.64zM473.56 462.68H477.47V466.70H473.56zM473.56 438.56H477.47V442.58H473.56zM473.56 430.52H477.47V434.54H473.56zM473.56 414.44H477.47V418.46H473.56zM473.56 406.40H477.47V410.42H473.56zM473.56 402.38H477.47V406.40H473.56zM473.56 386.30H477.47V390.32H473.56zM473.56 378.26H477.47V382.28H473.56zM477.47 446.60H481.38V450.62H477.47zM477.47 394.34H481.38V398.36H477.47zM477.47 366.20H481.38V370.22H477.47zM477.47 358.16H481.38V362.18H477.47zM477.47 313.94H481.38V317.96H477.47zM477.47 297.86H481.38V301.88H477.47zM477.47 285.80H481.38V289.82H477.47zM481.38 450.62H485.29V454.64H481.38zM481.38 426.50H485.29V430.52H481.38zM481.38 394.34H485.29V398.36H481.38zM481.38 386.30H485.29V390.32H481.38zM481.38 374.24H485.29V378.26H481.38zM481.38 366.20H485.29V370.22H481.38zM481.38 354.14H485.29V358.16H481.38zM481.38 342.08H485.29V346.10H481.38zM481.38 293.84H485.29V297.86H481.38zM481.38 285.80H485.29V289.82H481.38zM485.29 430.52H489.20V434.54H485.29zM485.29 414.44H489.20V418.46H485.29zM485.29 410.42H489.20V414.44H485.29zM485.29 366.20H489.20V370.22H485.29zM485.29 350.12H489.20V354.14H485.29zM485.29 326.00H489.20V330.02H485.29zM485.29 305.90H489.20V309.92H485.29zM485.29 285.80H489.20V289.82H485.29zM489.20 438.56H493.12V442.58H489.20zM489.20 309.92H493.12V313.94H489.20zM493.12 458.66H497.03V462.68H493.12zM493.12 438.56H497.03V442.58H493.12zM493.12 402.38H497.03V406.40H493.12zM493.12 398.36H497.03V402.38H493.12zM493.12 326.00H497.03V330.02H493.12zM493.12 317.96H497.03V321.98H493.12zM497.03 458.66H500.94V462.68H497.03zM497.03 454.64H500.94V458.66H497.03zM497.03 418.46H500.94V422.48H497.03zM497.03 402.38H500.94V406.40H497.03zM497.03 390.32H500.94V394.34H497.03zM497.03 350.12H500.94V354.14H497.03zM500.94 422.48H504.85V426.50H500.94zM500.94 418.46H504.85V422.48H500.94zM500.94 402.38H504.85V406.40H500.94zM500.94 398.36H504.85V402.38H500.94zM500.94 382.28H504.85V386.30H500.94zM500.94 366.20H504.85V370.22H500.94zM500.94 358.16H504.85V362.18H500.94zM500.94 285.80H504.85V289.82H500.94zM504.85 454.64H508.76V458.66H504.85zM504.85 446.60H508.76V450.62H504.85zM504.85 438.56H508.76V442.58H504.85zM504.85 418.46H508.76V422.48H504.85zM504.85 378.26H508.76V382.28H504.85zM508.76 450.62H512.68V454.64H508.76zM508.76 414.44H512.68V418.46H508.76zM508.76 402.38H512.68V406.40H508.76zM508.76 394.34H512.68V398.36H508.76zM508.76 378.26H512.68V382.28H508.76zM508.76 358.16H512.68V362.18H508.76zM508.76 293.84H512.68V297.86H508.76zM508.76 285.80H512.68V289.82H508.76zM512.68 442.58H516.59V446.60H512.68zM512.68 430.52H516.59V434.54H512.68zM512.68 426.50H516.59V430.52H512.68zM512.68 418.46H516.59V422.48H512.68zM512.68 414.44H516.59V418.46H512.68zM512.68 366.20H516.59V370.22H512.68zM512.68 330.02H516.59V334.04H512.68zM512.68 301.88H516.59V305.90H512.68zM512.68 285.80H516.59V289.82H512.68zM516.59 454.64H520.50V458.66H516.59zM516.59 450.62H520.50V454.64H516.59zM516.59 446.60H520.50V450.62H516.59zM516.59 442.58H520.50V446.60H516.59zM516.59 426.50H520.50V430.52H516.59zM516.59 422.48H520.50V426.50H516.59zM516.59 402.38H520.50V406.40H516.59zM516.59 398.36H520.50V402.38H516.59zM516.59 358.16H520.50V362.18H516.59zM516.59 350.12H520.50V354.14H516.59zM516.59 326.00H520.50V330.02H516.59zM516.59 317.96H520.50V321.98H516.59zM516.59 313.94H520.50V317.96H516.59zM516.59 305.90H520.50V309.92H516.59zM516.59 297.86H520.50V301.88H516.59zM516.59 293.84H520.50V297.86H516.59zM516.59 289.82H520.50V293.84H516.59zM516.59 285.80H520.50V289.82H516.59z"/>
<path fill="#32a4f5" d="M340.55 482.78H344.46V486.80H340.55z"/>
<path fill="#2ea0ef" d="M340.55 478.76H344.46V482.78H340.55zM340.55 474.74H344.46V478.76H340.55z"/>
<path fill="#30a2f2" d="M340.55 470.72H344.46V474.74H340.55z"/>
<path fill="#46a9f7" d="M340.55 462.68H344.46V466.70H340.55z"/>
<path fill="#56acf6" d="M340.55 458.66H344.46V462.68H340.55z"/>
<path fill="#70b3f4" d="M340.55 450.62H344.46V454.64H340.55z"/>
<path fill="#7ab6f3" d="M340.55 446.60H344.46V450.62H340.55z"/>
<path fill="#82b8f3" d="M340.55 442.58H344.46V446.60H340.55zM344.46 446.60H348.37V450.62H344.46z"/>
<path fill="#5badf6" d="M344.46 482.78H348.37V486.80H344.46z"/>
<path fill="#4eabf7" d="M344.46 478.76H348.37V482.78H344.46zM344.46 474.74H348.37V478.76H344.46z"/>
<path fill="#5aadf6" d="M344.46 466.70H348.37V470.72H344.46z"/>
<path fill="#62aff5" d="M344.46 462.68H348.37V466.70H344.46z"/>
<path fill="#6cb2f5" d="M344.46 458.66H348.37V462.68H344.46zM348.37 478.76H352.28V482.78H348.37zM348.37 474.74H352.28V478.76H348.37z"/>
<path fill="#7bb6f3" d="M344.46 450.62H348.37V454.64H344.46zM348.37 458.66H352.28V462.68H348.37z"/>
<path fill="#6fb2f5" d="M348.37 470.72H352.28V474.74H348.37z"/>
<path fill="#76b5f4" d="M348.37 462.68H352.28V466.70H348.37z"/>
<path fill="#86baf2" d="M348.37 450.62H352.28V454.64H348.37zM352.28 458.66H356.20V462.68H352.28z"/>
<path fill="#89bbf2" d="M348.37 446.60H352.28V450.62H348.37zM352.28 454.64H356.20V458.66H352.28zM356.20 478.76H360.11V482.78H356.20zM356.20 474.74H360.11V478.76H356.20zM356.20 470.72H360.11V474.74H356.20z"/>
<path fill="#83b9f3" d="M352.28 462.68H356.20V466.70H352.28z"/>
<path fill="#8cbcf2" d="M356.20 462.68H360.11V466.70H356.20z"/>
<path fill="#90bef1" d="M356.20 454.64H360.11V458.66H356.20zM360.11 478.76H364.02V482.78H360.11zM360.11 474.74H364.02V478.76H360.11z"/>
</g>
<rect x="60.5" y="10.5" width="55.8" height="209.8" fill="#1f77b4"/>
<rect x="130.5" y="210.4" width="56.1" height="9.9" fill="#1f77b4"/>
<rect x="200.3" y="132.5" width="56.2" height="87.8" fill="#1f77b4"/>
<path d="M47.2 220.3H51.0" stroke="#222" stroke-width="0.9"/>
<text x="43.0" y="224.0" font-size="10.00" text-anchor="end" fill="#1a1a1a">0</text>
<path d="M47.2 191.0H51.0" stroke="#222" stroke-width="0.9"/>
<text x="43.0" y="194.7" font-size="10.00" text-anchor="end" fill="#1a1a1a">1000</text>
<path d="M47.2 161.8H51.0" stroke="#222" stroke-width="0.9"/>
<text x="43.0" y="165.5" font-size="10.00" text-anchor="end" fill="#1a1a1a">2000</text>
<path d="M47.2 132.5H51.0" stroke="#222" stroke-width="0.9"/>
<text x="43.0" y="136.2" font-size="10.00" text-anchor="end" fill="#1a1a1a">3000</text>
<path d="M47.2 103.2H51.0" stroke="#222" stroke-width="0.9"/>
<text x="43.0" y="106.9" font-size="10.00" text-anchor="end" fill="#1a1a1a">4000</text>
<path d="M47.2 74.0H51.0" stroke="#222" stroke-width="0.9"/>
<text x="43.0" y="77.7" font-size="10.00" text-anchor="end" fill="#1a1a1a">5000</text>
<path d="M47.2 44.7H51.0" stroke="#222" stroke-width="0.9"/>
<text x="43.0" y="48.4" font-size="10.00" text-anchor="end" fill="#1a1a1a">6000</text>
<path d="M47.2 15.4H51.0" stroke="#222" stroke-width="0.9"/>
<text x="43.0" y="19.1" font-size="10.00" text-anchor="end" fill="#1a1a1a">7000</text>
<path d="M88.4 221.6V225.6" stroke="#222" stroke-width="0.9"/>
<text x="91.9" y="228.4" font-size="9.70" text-anchor="end" fill="#1a1a1a" transform="rotate(-90 91.9 228.4)">knife</text>
<path d="M158.5 221.6V225.6" stroke="#222" stroke-width="0.9"/>
<text x="162.0" y="228.4" font-size="9.70" text-anchor="end" fill="#1a1a1a" transform="rotate(-90 162.0 228.4)">weapon</text>
<path d="M228.4 221.6V225.6" stroke="#222" stroke-width="0.9"/>
<text x="231.9" y="228.4" font-size="9.70" text-anchor="end" fill="#1a1a1a" transform="rotate(-90 231.9 228.4)">bat</text>
<text x="12.6" y="111.7" font-size="10.00" text-anchor="middle" fill="#1a1a1a" transform="rotate(-90 12.6 111.7)">instances</text>
<path d="M47.2 490.7H51.0" stroke="#222" stroke-width="0.9"/>
<text x="43.5" y="494.3" font-size="10.00" text-anchor="end" fill="#1a1a1a">0.0</text>
<path d="M59.7 497.0V500.0" stroke="#222" stroke-width="0.9"/>
<text x="59.7" y="511.7" font-size="10.00" text-anchor="middle" fill="#1a1a1a">0.0</text>
<path d="M47.2 449.7H51.0" stroke="#222" stroke-width="0.9"/>
<text x="43.5" y="453.3" font-size="10.00" text-anchor="end" fill="#1a1a1a">0.2</text>
<path d="M99.2 497.0V500.0" stroke="#222" stroke-width="0.9"/>
<text x="99.2" y="511.7" font-size="10.00" text-anchor="middle" fill="#1a1a1a">0.2</text>
<path d="M47.2 408.7H51.0" stroke="#222" stroke-width="0.9"/>
<text x="43.5" y="412.3" font-size="10.00" text-anchor="end" fill="#1a1a1a">0.4</text>
<path d="M138.7 497.0V500.0" stroke="#222" stroke-width="0.9"/>
<text x="138.7" y="511.7" font-size="10.00" text-anchor="middle" fill="#1a1a1a">0.4</text>
<path d="M47.2 367.7H51.0" stroke="#222" stroke-width="0.9"/>
<text x="43.5" y="371.3" font-size="10.00" text-anchor="end" fill="#1a1a1a">0.6</text>
<path d="M178.2 497.0V500.0" stroke="#222" stroke-width="0.9"/>
<text x="178.2" y="511.7" font-size="10.00" text-anchor="middle" fill="#1a1a1a">0.6</text>
<path d="M47.2 326.7H51.0" stroke="#222" stroke-width="0.9"/>
<text x="43.5" y="330.3" font-size="10.00" text-anchor="end" fill="#1a1a1a">0.8</text>
<path d="M217.7 497.0V500.0" stroke="#222" stroke-width="0.9"/>
<text x="217.7" y="511.7" font-size="10.00" text-anchor="middle" fill="#1a1a1a">0.8</text>
<path d="M47.2 285.7H51.0" stroke="#222" stroke-width="0.9"/>
<text x="43.5" y="289.3" font-size="10.00" text-anchor="end" fill="#1a1a1a">1.0</text>
<path d="M257.2 497.0V500.0" stroke="#222" stroke-width="0.9"/>
<text x="257.2" y="511.7" font-size="10.00" text-anchor="middle" fill="#1a1a1a">1.0</text>
<text x="158.7" y="525.7" font-size="10.00" text-anchor="middle" fill="#1a1a1a">x</text>
<text x="20.5" y="386.6" font-size="10.00" text-anchor="middle" fill="#1a1a1a" transform="rotate(-90 20.5 386.6)">y</text>
<path d="M311.6 487.4H315.3" stroke="#222" stroke-width="0.9"/>
<text x="308.2" y="491.0" font-size="10.00" text-anchor="end" fill="#1a1a1a">0.0</text>
<path d="M324.8 497.0V500.0" stroke="#222" stroke-width="0.9"/>
<text x="324.8" y="511.7" font-size="10.00" text-anchor="middle" fill="#1a1a1a">0.0</text>
<path d="M311.6 447.0H315.3" stroke="#222" stroke-width="0.9"/>
<text x="308.2" y="450.6" font-size="10.00" text-anchor="end" fill="#1a1a1a">0.2</text>
<path d="M364.0 497.0V500.0" stroke="#222" stroke-width="0.9"/>
<text x="364.0" y="511.7" font-size="10.00" text-anchor="middle" fill="#1a1a1a">0.2</text>
<path d="M311.6 406.6H315.3" stroke="#222" stroke-width="0.9"/>
<text x="308.2" y="410.2" font-size="10.00" text-anchor="end" fill="#1a1a1a">0.4</text>
<path d="M403.2 497.0V500.0" stroke="#222" stroke-width="0.9"/>
<text x="403.2" y="511.7" font-size="10.00" text-anchor="middle" fill="#1a1a1a">0.4</text>
<path d="M311.6 366.3H315.3" stroke="#222" stroke-width="0.9"/>
<text x="308.2" y="369.9" font-size="10.00" text-anchor="end" fill="#1a1a1a">0.6</text>
<path d="M442.3 497.0V500.0" stroke="#222" stroke-width="0.9"/>
<text x="442.3" y="511.7" font-size="10.00" text-anchor="middle" fill="#1a1a1a">0.6</text>
<path d="M311.6 325.9H315.3" stroke="#222" stroke-width="0.9"/>
<text x="308.2" y="329.5" font-size="10.00" text-anchor="end" fill="#1a1a1a">0.8</text>
<path d="M481.5 497.0V500.0" stroke="#222" stroke-width="0.9"/>
<text x="481.5" y="511.7" font-size="10.00" text-anchor="middle" fill="#1a1a1a">0.8</text>
<path d="M311.6 285.5H315.3" stroke="#222" stroke-width="0.9"/>
<text x="308.2" y="289.1" font-size="10.00" text-anchor="end" fill="#1a1a1a">1.0</text>
<path d="M520.7 497.0V500.0" stroke="#222" stroke-width="0.9"/>
<text x="520.7" y="511.7" font-size="10.00" text-anchor="middle" fill="#1a1a1a">1.0</text>
<text x="422.7" y="525.3" font-size="10.00" text-anchor="middle" fill="#1a1a1a">width</text>
<text x="287.0" y="387.6" font-size="10.00" text-anchor="middle" fill="#1a1a1a" transform="rotate(-90 287.0 387.6)">height</text>
<text x="159.5" y="279.8" font-size="14.00" text-anchor="middle" fill="#333" font-family='"Liberation Sans", sans-serif'>(a)</text>
<text x="425.3" y="279.8" font-size="14.00" text-anchor="middle" fill="#333" font-family='"Liberation Sans", sans-serif'>(b)</text>
<text x="159.7" y="543.6" font-size="14.00" text-anchor="middle" fill="#333" font-family='"Liberation Sans", sans-serif'>(c)</text>
<text x="425.5" y="543.6" font-size="14.00" text-anchor="middle" fill="#333" font-family='"Liberation Sans", sans-serif'>(d)</text>
</svg>
</body></html>
